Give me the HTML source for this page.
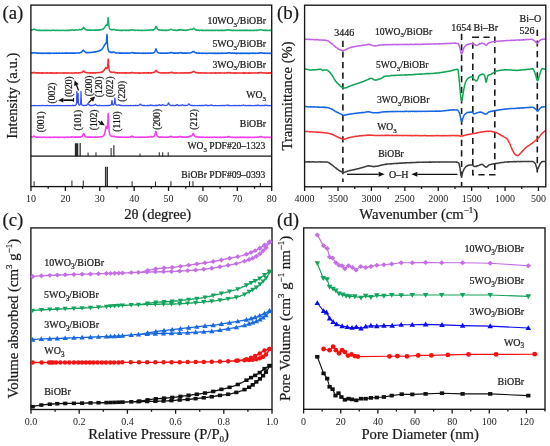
<!DOCTYPE html><html><head><meta charset="utf-8"><style>html,body{margin:0;padding:0;background:#fff;}svg{display:block;will-change:transform;}text{font-family:"Liberation Serif",serif;}</style></head><body>
<svg width="550" height="446" viewBox="0 0 550 446">
<rect width="550" height="446" fill="#fff"/>
<polyline points="31,30.2 31.2,30.1 31.3,30.2 31.5,30 31.7,30.1 31.9,30.1 32,29.9 32.2,30 32.4,29.8 32.5,29.9 32.7,29.7 32.9,29.6 33.1,29.6 33.2,29.6 33.4,29.3 33.6,29.2 33.8,29.2 33.9,29.2 34.1,29.1 34.3,29.1 34.4,29.3 34.6,29.2 34.8,29.5 35,29.5 35.1,29.5 35.3,29.6 35.5,29.8 35.6,30 35.8,29.9 36,30 36.2,30.1 36.3,30.1 36.5,30.1 36.7,30 36.8,30.1 37,30.1 37.2,30.3 37.4,30.2 37.5,30.2 37.7,30.3 37.9,30.3 38,30.2 38.2,30.4 38.4,30.4 38.6,30.2 38.7,30.3 38.9,30.3 39.1,30.4 39.3,30.4 39.4,30.3 39.6,30.5 39.8,30.2 39.9,30.3 40.1,30.4 40.3,30.2 40.5,30.3 40.6,30.2 40.8,30.4 41,30.4 41.1,30.4 41.3,30.5 41.5,30.3 41.7,30.4 41.8,30.4 42,30.4 42.2,30.3 42.3,30.5 42.5,30.5 42.7,30.4 42.9,30.4 43,30.2 43.2,30.4 43.4,30.4 43.6,30.5 43.7,30.5 43.9,30.3 44.1,30.3 44.2,30.4 44.4,30.2 44.6,30.4 44.8,30.3 44.9,30.3 45.1,30.2 45.3,30.4 45.4,30.3 45.6,30.3 45.8,30.3 46,30.5 46.1,30.3 46.3,30.4 46.5,30.4 46.6,30.5 46.8,30.5 47,30.5 47.2,30.3 47.3,30.4 47.5,30.3 47.7,30.5 47.8,30.5 48,30.3 48.2,30.3 48.4,30.3 48.5,30.3 48.7,30.4 48.9,30.4 49.1,30.3 49.2,30.2 49.4,30.4 49.6,30.3 49.7,30.4 49.9,30.5 50.1,30.4 50.3,30.4 50.4,30.4 50.6,30.4 50.8,30.3 50.9,30.5 51.1,30.5 51.3,30.5 51.5,30.5 51.6,30.3 51.8,30.4 52,30.3 52.1,30.4 52.3,30.3 52.5,30.3 52.7,30.3 52.8,30.3 53,30.3 53.2,30.3 53.4,30.2 53.5,30.3 53.7,30.3 53.9,30.3 54,30.2 54.2,30.5 54.4,30.4 54.6,30.3 54.7,30.3 54.9,30.3 55.1,30.3 55.2,30.3 55.4,30.5 55.6,30.5 55.8,30.4 55.9,30.4 56.1,30.3 56.3,30.3 56.4,30.3 56.6,30.3 56.8,30.5 57,30.3 57.1,30.2 57.3,30.5 57.5,30.4 57.6,30.3 57.8,30.4 58,30.2 58.2,30.4 58.3,30.5 58.5,30.5 58.7,30.4 58.9,30.3 59,30.3 59.2,30.3 59.4,30.4 59.5,30.4 59.7,30.5 59.9,30.3 60.1,30.3 60.2,30.5 60.4,30.5 60.6,30.5 60.7,30.5 60.9,30.5 61.1,30.4 61.3,30.3 61.4,30.4 61.6,30.3 61.8,30.2 61.9,30.2 62.1,30.3 62.3,30.3 62.5,30.4 62.6,30.5 62.8,30.4 63,30.5 63.2,30.5 63.3,30.5 63.5,30.3 63.7,30.3 63.8,30.3 64,30.3 64.2,30.3 64.4,30.4 64.5,30.5 64.7,30.5 64.9,30.4 65,30.4 65.2,30.4 65.4,30.2 65.6,30.4 65.7,30.5 65.9,30.4 66.1,30.4 66.2,30.3 66.4,30.3 66.6,30.4 66.8,30.3 66.9,30.4 67.1,30.5 67.3,30.3 67.4,30.3 67.6,30.5 67.8,30.4 68,30.2 68.1,30.2 68.3,30.2 68.5,30.4 68.7,30.4 68.8,30.2 69,30.4 69.2,30.4 69.3,30.3 69.5,30.2 69.7,30.3 69.9,30.2 70,30.1 70.2,30.4 70.4,30.2 70.5,30.2 70.7,30.3 70.9,30.1 71.1,30.2 71.2,30.1 71.4,29.9 71.6,29.8 71.7,29.8 71.9,29.7 72.1,29.8 72.3,29.7 72.4,29.7 72.6,29.7 72.8,30 73,29.9 73.1,29.9 73.3,30 73.5,30.2 73.6,30.1 73.8,30.2 74,30.1 74.2,30.1 74.3,30.2 74.5,30 74.7,30.1 74.8,30.1 75,30 75.2,30.2 75.4,30 75.5,30 75.7,30 75.9,29.9 76,29.8 76.2,29.8 76.4,29.7 76.6,29.8 76.7,29.7 76.9,29.9 77.1,29.9 77.2,29.9 77.4,30.1 77.6,30 77.8,30.1 77.9,30.1 78.1,30.1 78.3,30 78.5,30 78.6,29.9 78.8,29.8 79,29.8 79.1,29.6 79.3,29.6 79.5,29.5 79.7,29.6 79.8,29.6 80,29.8 80.2,29.8 80.3,29.7 80.5,29.8 80.7,29.9 80.9,29.8 81,29.6 81.2,29.6 81.4,29.6 81.5,29.4 81.7,29.4 81.9,29.2 82.1,29.2 82.2,29.1 82.4,28.9 82.6,28.5 82.8,28.4 82.9,28.1 83.1,27.7 83.3,27.7 83.4,27.5 83.6,27.2 83.8,27.5 84,27.5 84.1,27.8 84.3,28.2 84.5,28.4 84.6,28.5 84.8,28.8 85,29 85.2,29.2 85.3,29.3 85.5,29.4 85.7,29.6 85.8,29.5 86,29.7 86.2,29.8 86.4,29.7 86.5,29.8 86.7,30 86.9,30 87,29.9 87.2,30.2 87.4,30.1 87.6,30.2 87.7,30 87.9,30 88.1,30 88.3,30.2 88.4,30.1 88.6,30 88.8,30.1 88.9,30.3 89.1,30.3 89.3,30.1 89.5,30.1 89.6,30.3 89.8,30.2 90,30.3 90.1,30.1 90.3,30.1 90.5,30.3 90.7,30.2 90.8,30.1 91,30.3 91.2,30.3 91.3,30.3 91.5,30.1 91.7,30.3 91.9,30.1 92,30.3 92.2,30.2 92.4,30.2 92.6,30.2 92.7,30.3 92.9,30.2 93.1,30.1 93.2,30.2 93.4,30.1 93.6,30.1 93.8,30.1 93.9,30.1 94.1,30.1 94.3,30.2 94.4,30.1 94.6,30.3 94.8,30.1 95,30.2 95.1,30.1 95.3,30.1 95.5,30 95.6,30.1 95.8,30 96,30.2 96.2,30.2 96.3,30.1 96.5,30.1 96.7,30.3 96.8,30 97,30.2 97.2,30.1 97.4,30.1 97.5,30.2 97.7,30.1 97.9,30.1 98.1,30.1 98.2,30.2 98.4,30 98.6,30.1 98.7,30.1 98.9,30 99.1,30 99.3,29.9 99.4,29.8 99.6,29.8 99.8,29.8 99.9,30 100.1,29.8 100.3,29.7 100.5,29.7 100.6,29.9 100.8,29.9 101,29.8 101.1,29.6 101.3,29.6 101.5,29.5 101.7,29.5 101.8,29.4 102,29.4 102.2,29.3 102.4,29.4 102.5,29.4 102.7,29.2 102.9,29 103,29.1 103.2,28.8 103.4,28.7 103.6,28.5 103.7,28.4 103.9,28.3 104.1,28.1 104.2,27.8 104.4,27.7 104.6,27.3 104.8,27.1 104.9,26.8 105.1,26.6 105.3,26.2 105.4,26 105.6,25.8 105.8,25.5 106,25.3 106.1,25.1 106.3,25 106.5,24.9 106.6,25.1 106.8,25.2 107,25.2 107.2,25 107.3,24.8 107.5,23.8 107.7,22.5 107.9,20.5 108,18.3 108.2,17.6 108.4,18.8 108.5,21.1 108.7,23.4 108.9,25.2 109.1,26.3 109.2,27.2 109.4,27.9 109.6,28.4 109.7,28.7 109.9,29 110.1,29.1 110.3,29.4 110.4,29.4 110.6,29.5 110.8,29.5 110.9,29.5 111.1,29.6 111.3,29.7 111.5,29.7 111.6,29.9 111.8,29.8 112,29.9 112.2,29.9 112.3,29.9 112.5,29.8 112.7,29.6 112.8,29.8 113,29.7 113.2,29.6 113.4,29.5 113.5,29.5 113.7,29.3 113.9,29.5 114,29.4 114.2,29.4 114.4,29.5 114.6,29.7 114.7,29.7 114.9,29.9 115.1,30 115.2,30 115.4,30 115.6,30 115.8,30.1 115.9,30.2 116.1,30.2 116.3,30.2 116.4,30.1 116.6,30.1 116.8,30.1 117,30.3 117.1,30.2 117.3,30.3 117.5,30.1 117.7,30.1 117.8,30.2 118,30.3 118.2,30.3 118.3,30.3 118.5,30.2 118.7,30.3 118.9,30.3 119,30.3 119.2,30.2 119.4,30.4 119.5,30.2 119.7,30.4 119.9,30.4 120.1,30.2 120.2,30.3 120.4,30.4 120.6,30.4 120.7,30.3 120.9,30.3 121.1,30.2 121.3,30.4 121.4,30.2 121.6,30.3 121.8,30.2 122,30.3 122.1,30.5 122.3,30.2 122.5,30.4 122.6,30.3 122.8,30.4 123,30.4 123.2,30.3 123.3,30.4 123.5,30.3 123.7,30.2 123.8,30.2 124,30.3 124.2,30.3 124.4,30.3 124.5,30.2 124.7,30.3 124.9,30.3 125,30.4 125.2,30.2 125.4,30.4 125.6,30.4 125.7,30.2 125.9,30.5 126.1,30.4 126.2,30.4 126.4,30.3 126.6,30.3 126.8,30.3 126.9,30.5 127.1,30.3 127.3,30.3 127.5,30.3 127.6,30.2 127.8,30.2 128,30.2 128.1,30.4 128.3,30.2 128.5,30.4 128.7,30.2 128.8,30.2 129,30.3 129.2,30.2 129.3,30.2 129.5,30.4 129.7,30.3 129.9,30.3 130,30.2 130.2,30.3 130.4,30.3 130.5,30.1 130.7,30.1 130.9,29.9 131.1,30 131.2,29.9 131.4,30 131.6,29.9 131.8,29.7 131.9,29.7 132.1,29.9 132.3,29.7 132.4,29.8 132.6,29.8 132.8,29.8 133,30 133.1,30.1 133.3,30 133.5,30.1 133.6,30 133.8,30.2 134,30.1 134.2,30.1 134.3,30.1 134.5,30.1 134.7,30.4 134.8,30.2 135,30.2 135.2,30.4 135.4,30.4 135.5,30.3 135.7,30.2 135.9,30.2 136,30.2 136.2,30.3 136.4,30.2 136.6,30.2 136.7,30.3 136.9,30.3 137.1,30.4 137.3,30.4 137.4,30.3 137.6,30.3 137.8,30.3 137.9,30.3 138.1,30.3 138.3,30.2 138.5,30.3 138.6,30.5 138.8,30.2 139,30.3 139.1,30.4 139.3,30.4 139.5,30.3 139.7,30.3 139.8,30.3 140,30.3 140.2,30.3 140.3,30.5 140.5,30.4 140.7,30.4 140.9,30.2 141,30.2 141.2,30.4 141.4,30.5 141.6,30.3 141.7,30.4 141.9,30.2 142.1,30.3 142.2,30.5 142.4,30.4 142.6,30.4 142.8,30.5 142.9,30.3 143.1,30.2 143.3,30.2 143.4,30.3 143.6,30.4 143.8,30.5 144,30.4 144.1,30.4 144.3,30.4 144.5,30.3 144.6,30.3 144.8,30.2 145,30.4 145.2,30.2 145.3,30.4 145.5,30.4 145.7,30.3 145.8,30.2 146,30.2 146.2,30.3 146.4,30.4 146.5,30.2 146.7,30.2 146.9,30.3 147.1,30.3 147.2,30.2 147.4,30.2 147.6,30.3 147.7,30.1 147.9,30.2 148.1,30.2 148.3,30.3 148.4,30.2 148.6,30.3 148.8,30.1 148.9,30 149.1,30 149.3,30.2 149.5,30.1 149.6,29.9 149.8,29.8 150,29.9 150.1,29.9 150.3,29.8 150.5,29.8 150.7,29.9 150.8,30 151,29.8 151.2,29.8 151.3,29.9 151.5,30 151.7,30 151.9,29.9 152,30.1 152.2,30.1 152.4,30 152.6,29.9 152.7,30.1 152.9,29.9 153.1,30 153.2,29.8 153.4,29.8 153.6,29.9 153.8,29.7 153.9,29.8 154.1,29.6 154.3,29.4 154.4,29.3 154.6,29.2 154.8,29 155,28.9 155.1,28.4 155.3,28.1 155.5,27.6 155.6,27.4 155.8,26.8 156,26.5 156.2,26.4 156.3,26.6 156.5,27.1 156.7,27.4 156.9,27.8 157,28.3 157.2,28.6 157.4,28.7 157.5,28.9 157.7,29.3 157.9,29.4 158.1,29.4 158.2,29.7 158.4,29.7 158.6,29.7 158.7,29.8 158.9,29.8 159.1,29.8 159.3,29.9 159.4,30 159.6,30.2 159.8,30 159.9,30.2 160.1,30 160.3,30.1 160.5,30.2 160.6,30.3 160.8,30.2 161,30.1 161.1,30.2 161.3,30.2 161.5,30.3 161.7,30.1 161.8,30.2 162,30.4 162.2,30.1 162.4,30.2 162.5,30.3 162.7,30.3 162.9,30.1 163,30.1 163.2,30.2 163.4,30.4 163.6,30.2 163.7,30.3 163.9,30.4 164.1,30.2 164.2,30.2 164.4,30.4 164.6,30.3 164.8,30.2 164.9,30.3 165.1,30.2 165.3,30.2 165.4,30.1 165.6,30.4 165.8,30.4 166,30.3 166.1,30.4 166.3,30.1 166.5,30.2 166.7,30.3 166.8,30.4 167,30.4 167.2,30.2 167.3,30.2 167.5,30.2 167.7,30.2 167.9,30.3 168,30.1 168.2,30.3 168.4,30.2 168.5,30.2 168.7,30.2 168.9,30.1 169.1,30 169.2,30 169.4,29.9 169.6,30 169.7,29.7 169.9,29.7 170.1,29.8 170.3,29.6 170.4,29.4 170.6,29.4 170.8,29.5 170.9,29.4 171.1,29.6 171.3,29.6 171.5,29.7 171.6,29.6 171.8,29.6 172,29.7 172.2,29.8 172.3,30 172.5,29.9 172.7,29.9 172.8,30 173,30.1 173.2,30.1 173.4,30.2 173.5,30.2 173.7,30.2 173.9,30.1 174,30.3 174.2,30.1 174.4,30.2 174.6,30.2 174.7,30.3 174.9,30.1 175.1,30.2 175.2,30.2 175.4,30.1 175.6,30.4 175.8,30.3 175.9,30.2 176.1,30.2 176.3,30.4 176.5,30.2 176.6,30.2 176.8,30.3 177,30.3 177.1,30.4 177.3,30.1 177.5,30.2 177.7,30.3 177.8,30.3 178,30.3 178.2,30 178.3,30.1 178.5,30 178.7,30 178.9,30.2 179,30 179.2,30.1 179.4,29.9 179.5,30 179.7,29.8 179.9,29.7 180.1,29.8 180.2,29.9 180.4,29.6 180.6,29.8 180.7,29.8 180.9,29.8 181.1,29.9 181.3,29.8 181.4,29.9 181.6,30 181.8,30.1 182,30.1 182.1,30 182.3,30 182.5,30.1 182.6,30.2 182.8,30.1 183,30.1 183.2,30.1 183.3,30.3 183.5,30.2 183.7,30.1 183.8,30.1 184,30.2 184.2,30.3 184.4,30.3 184.5,30.1 184.7,30.1 184.9,30.3 185,30.2 185.2,30.2 185.4,30.2 185.6,30.4 185.7,30.2 185.9,30.2 186.1,30.2 186.3,30.2 186.4,30.3 186.6,30.3 186.8,30.1 186.9,30.1 187.1,30.2 187.3,30 187.5,30 187.6,30.2 187.8,30 188,30.1 188.1,30 188.3,30.1 188.5,29.9 188.7,29.8 188.8,29.7 189,29.8 189.2,29.7 189.3,29.7 189.5,29.4 189.7,29.5 189.9,29.3 190,29.3 190.2,29.2 190.4,29.2 190.5,29.3 190.7,29.4 190.9,29.2 191.1,29.4 191.2,29.5 191.4,29.6 191.6,29.3 191.8,29.3 191.9,29.5 192.1,29.4 192.3,29.2 192.4,29 192.6,29.1 192.8,28.8 193,28.8 193.1,28.6 193.3,28.5 193.5,28.2 193.6,28.3 193.8,28.2 194,28.4 194.2,28.7 194.3,28.9 194.5,28.9 194.7,29.1 194.8,29.3 195,29.5 195.2,29.5 195.4,29.6 195.5,29.7 195.7,29.9 195.9,30 196.1,29.8 196.2,30 196.4,30.1 196.6,29.9 196.7,30.2 196.9,30 197.1,30.2 197.3,30.2 197.4,30.2 197.6,30.1 197.8,30.2 197.9,30.2 198.1,30.2 198.3,30.3 198.5,30.2 198.6,30.2 198.8,30.1 199,30.3 199.1,30.3 199.3,30.2 199.5,30.4 199.7,30.4 199.8,30.3 200,30.2 200.2,30.3 200.3,30.2 200.5,30.2 200.7,30.3 200.9,30.2 201,30.3 201.2,30.3 201.4,30.2 201.6,30.4 201.7,30.2 201.9,30.4 202.1,30.4 202.2,30.3 202.4,30.2 202.6,30.3 202.8,30.3 202.9,30.5 203.1,30.2 203.3,30.4 203.4,30.5 203.6,30.4 203.8,30.4 204,30.3 204.1,30.5 204.3,30.4 204.5,30.5 204.6,30.5 204.8,30.3 205,30.4 205.2,30.5 205.3,30.2 205.5,30.3 205.7,30.4 205.9,30.3 206,30.5 206.2,30.3 206.4,30.5 206.5,30.3 206.7,30.4 206.9,30.5 207.1,30.3 207.2,30.3 207.4,30.4 207.6,30.3 207.7,30.2 207.9,30.3 208.1,30.3 208.3,30.5 208.4,30.4 208.6,30.5 208.8,30.3 208.9,30.5 209.1,30.3 209.3,30.4 209.5,30.4 209.6,30.3 209.8,30.5 210,30.4 210.1,30.4 210.3,30.5 210.5,30.3 210.7,30.5 210.8,30.4 211,30.3 211.2,30.5 211.4,30.3 211.5,30.5 211.7,30.4 211.9,30.3 212,30.5 212.2,30.4 212.4,30.3 212.6,30.4 212.7,30.3 212.9,30.5 213.1,30.3 213.2,30.4 213.4,30.5 213.6,30.4 213.8,30.4 213.9,30.3 214.1,30.2 214.3,30.2 214.4,30.3 214.6,30.4 214.8,30.4 215,30.4 215.1,30.5 215.3,30.3 215.5,30.3 215.7,30.4 215.8,30.2 216,30.2 216.2,30.3 216.3,30.3 216.5,30.3 216.7,30.3 216.9,30.4 217,30.4 217.2,30.3 217.4,30.4 217.5,30.4 217.7,30.3 217.9,30.5 218.1,30.3 218.2,30.3 218.4,30.3 218.6,30.4 218.7,30.5 218.9,30.5 219.1,30.3 219.3,30.3 219.4,30.2 219.6,30.4 219.8,30.4 219.9,30.3 220.1,30.4 220.3,30.4 220.5,30.5 220.6,30.4 220.8,30.3 221,30.5 221.2,30.2 221.3,30.4 221.5,30.3 221.7,30.3 221.8,30.2 222,30.4 222.2,30.2 222.4,30.4 222.5,30.5 222.7,30.3 222.9,30.3 223,30.4 223.2,30.4 223.4,30.4 223.6,30.4 223.7,30.3 223.9,30.3 224.1,30.3 224.2,30.2 224.4,30.4 224.6,30.4 224.8,30.4 224.9,30.2 225.1,30.4 225.3,30.4 225.5,30.3 225.6,30.3 225.8,30.2 226,30.2 226.1,30.1 226.3,30.1 226.5,30.1 226.7,30.1 226.8,30.2 227,30.1 227.2,30.1 227.3,30.1 227.5,29.9 227.7,29.9 227.9,29.8 228,29.9 228.2,29.8 228.4,29.7 228.5,29.8 228.7,30 228.9,29.8 229.1,30 229.2,29.8 229.4,29.9 229.6,30 229.7,30.2 229.9,30.3 230.1,30.2 230.3,30.1 230.4,30.3 230.6,30.2 230.8,30.2 231,30.4 231.1,30.3 231.3,30.3 231.5,30.3 231.6,30.4 231.8,30.3 232,30.4 232.2,30.4 232.3,30.4 232.5,30.3 232.7,30.4 232.8,30.4 233,30.3 233.2,30.3 233.4,30.4 233.5,30.2 233.7,30.5 233.9,30.3 234,30.2 234.2,30.3 234.4,30.5 234.6,30.3 234.7,30.3 234.9,30.2 235.1,30.2 235.3,30.4 235.4,30.4 235.6,30.4 235.8,30.4 235.9,30.3 236.1,30.4 236.3,30.3 236.5,30.5 236.6,30.5 236.8,30.5 237,30.3 237.1,30.5 237.3,30.5 237.5,30.5 237.7,30.3 237.8,30.3 238,30.3 238.2,30.3 238.3,30.5 238.5,30.5 238.7,30.4 238.9,30.5 239,30.4 239.2,30.3 239.4,30.3 239.5,30.3 239.7,30.5 239.9,30.3 240.1,30.3 240.2,30.4 240.4,30.3 240.6,30.3 240.8,30.3 240.9,30.4 241.1,30.3 241.3,30.3 241.4,30.5 241.6,30.4 241.8,30.5 242,30.4 242.1,30.3 242.3,30.4 242.5,30.4 242.6,30.5 242.8,30.3 243,30.4 243.2,30.4 243.3,30.3 243.5,30.5 243.7,30.3 243.8,30.5 244,30.3 244.2,30.2 244.4,30.3 244.5,30.5 244.7,30.5 244.9,30.2 245.1,30.4 245.2,30.4 245.4,30.5 245.6,30.3 245.7,30.4 245.9,30.3 246.1,30.5 246.3,30.3 246.4,30.5 246.6,30.3 246.8,30.3 246.9,30.4 247.1,30.4 247.3,30.3 247.5,30.4 247.6,30.3 247.8,30.5 248,30.4 248.1,30.5 248.3,30.4 248.5,30.3 248.7,30.4 248.8,30.4 249,30.5 249.2,30.3 249.3,30.5 249.5,30.2 249.7,30.3 249.9,30.3 250,30.5 250.2,30.4 250.4,30.3 250.6,30.5 250.7,30.3 250.9,30.4 251.1,30.4 251.2,30.4 251.4,30.4 251.6,30.4 251.8,30.3 251.9,30.3 252.1,30.3 252.3,30.5 252.4,30.4 252.6,30.4 252.8,30.3 253,30.4 253.1,30.4 253.3,30.4 253.5,30.3 253.6,30.4 253.8,30.5 254,30.3 254.2,30.3 254.3,30.3 254.5,30.4 254.7,30.5 254.9,30.3 255,30.3 255.2,30.3 255.4,30.3 255.5,30.3 255.7,30.2 255.9,30.3 256.1,30.2 256.2,30.5 256.4,30.4 256.6,30.2 256.7,30.4 256.9,30.2 257.1,30.3 257.3,30.4 257.4,30.4 257.6,30.3 257.8,30.2 257.9,30.2 258.1,30.3 258.3,30.1 258.5,30.1 258.6,30.1 258.8,30 259,30.1 259.1,30.1 259.3,30.1 259.5,29.9 259.7,29.9 259.8,29.8 260,29.7 260.2,29.7 260.4,29.6 260.5,29.7 260.7,29.7 260.9,29.6 261,29.7 261.2,29.8 261.4,29.7 261.6,29.7 261.7,29.9 261.9,30 262.1,30.1 262.2,30.1 262.4,30.2 262.6,30.2 262.8,30.2 262.9,30.2 263.1,30.1 263.3,30.3 263.4,30.1 263.6,30.2 263.8,30.3 264,30.3 264.1,30.3 264.3,30.2 264.5,30.3 264.7,30.3 264.8,30.4 265,30.3 265.2,30.4 265.3,30.5 265.5,30.2 265.7,30.4 265.9,30.4 266,30.3 266.2,30.3 266.4,30.5 266.5,30.2 266.7,30.4 266.9,30.3 267.1,30.4 267.2,30.5 267.4,30.4 267.6,30.3 267.7,30.4 267.9,30.4 268.1,30.4 268.3,30.4 268.4,30.4 268.6,30.5 268.8,30.4 268.9,30.4 269.1,30.5 269.3,30.3 269.5,30.4 269.6,30.3 269.8,30.5 270,30.3 270.2,30.5 270.3,30.3 270.5,30.3 270.7,30.3 270.8,30.4 271,30.2 271.2,30.4 271.4,30.4 271.5,30.4 271.7,30.3" fill="none" stroke="#19ad66" stroke-width="1.5" stroke-linejoin="round"/>
<polyline points="31,53.1 31.2,53.1 31.3,53.2 31.5,53.3 31.7,53.2 31.9,53.1 32,53.2 32.2,53.1 32.4,53 32.5,52.9 32.7,53.1 32.9,53.1 33.1,53 33.2,52.9 33.4,52.8 33.6,52.7 33.8,52.8 33.9,52.6 34.1,52.7 34.3,52.8 34.4,52.8 34.6,52.8 34.8,52.8 35,52.9 35.1,52.8 35.3,53.1 35.5,53 35.6,53.1 35.8,53 36,53.1 36.2,53 36.3,53.1 36.5,53.1 36.7,53 36.8,53.2 37,53.1 37.2,53.1 37.4,53.1 37.5,53.2 37.7,53.2 37.9,53.3 38,53.3 38.2,53.2 38.4,53.3 38.6,53.3 38.7,53.1 38.9,53.3 39.1,53.3 39.3,53.3 39.4,53.1 39.6,53.3 39.8,53.3 39.9,53.1 40.1,53.1 40.3,53.4 40.5,53.3 40.6,53.2 40.8,53.1 41,53.1 41.1,53.2 41.3,53.3 41.5,53.2 41.7,53.2 41.8,53.4 42,53.3 42.2,53.2 42.3,53.4 42.5,53.3 42.7,53.3 42.9,53.3 43,53.4 43.2,53.3 43.4,53.3 43.6,53.2 43.7,53.3 43.9,53.3 44.1,53.3 44.2,53.2 44.4,53.4 44.6,53.3 44.8,53.2 44.9,53.2 45.1,53.2 45.3,53.3 45.4,53.1 45.6,53.2 45.8,53.2 46,53.2 46.1,53.3 46.3,53.3 46.5,53.4 46.6,53.1 46.8,53.3 47,53.2 47.2,53.3 47.3,53.3 47.5,53.3 47.7,53.2 47.8,53.2 48,53.4 48.2,53.1 48.4,53.3 48.5,53.3 48.7,53.1 48.9,53.3 49.1,53.3 49.2,53.4 49.4,53.2 49.6,53.4 49.7,53.3 49.9,53.2 50.1,53.4 50.3,53.1 50.4,53.3 50.6,53.3 50.8,53.2 50.9,53.3 51.1,53.2 51.3,53.2 51.5,53.3 51.6,53.3 51.8,53.2 52,53.2 52.1,53.2 52.3,53.3 52.5,53.3 52.7,53.2 52.8,53.3 53,53.2 53.2,53.2 53.4,53.2 53.5,53.2 53.7,53.4 53.9,53.3 54,53.3 54.2,53.2 54.4,53.2 54.6,53.2 54.7,53.3 54.9,53.3 55.1,53.3 55.2,53.1 55.4,53.3 55.6,53.3 55.8,53.2 55.9,53.1 56.1,53.2 56.3,53.1 56.4,53.1 56.6,53.4 56.8,53.3 57,53.3 57.1,53.3 57.3,53.3 57.5,53.3 57.6,53.3 57.8,53.3 58,53.3 58.2,53.3 58.3,53.3 58.5,53.1 58.7,53.3 58.9,53.2 59,53.3 59.2,53.1 59.4,53.1 59.5,53.1 59.7,53.3 59.9,53.3 60.1,53.3 60.2,53.2 60.4,53.3 60.6,53.3 60.7,53.2 60.9,53.2 61.1,53.2 61.3,53.2 61.4,53.2 61.6,53.2 61.8,53.3 61.9,53.3 62.1,53.1 62.3,53.2 62.5,53.1 62.6,53.1 62.8,53.3 63,53.2 63.2,53.3 63.3,53.2 63.5,53.1 63.7,53.2 63.8,53.2 64,53.3 64.2,53.3 64.4,53.2 64.5,53.2 64.7,53.1 64.9,53.2 65,53.1 65.2,53.1 65.4,53.1 65.6,53.1 65.7,53.2 65.9,53.1 66.1,53.3 66.2,53.1 66.4,53.3 66.6,53.1 66.8,53.1 66.9,53.2 67.1,53.1 67.3,53.3 67.4,53.1 67.6,53.1 67.8,53.3 68,53.2 68.1,53.3 68.3,53.2 68.5,53.1 68.7,53.2 68.8,53.2 69,53.2 69.2,53.3 69.3,53.1 69.5,53.3 69.7,53.2 69.9,53 70,53 70.2,53.2 70.4,53.2 70.5,53 70.7,53.1 70.9,53.2 71.1,53.1 71.2,53.2 71.4,53.1 71.6,53 71.7,53.1 71.9,53.2 72.1,53.1 72.3,53.2 72.4,53 72.6,53.2 72.8,53.1 73,53.2 73.1,53.2 73.3,53.1 73.5,53.1 73.6,53.2 73.8,53.2 74,53.2 74.2,53.1 74.3,53 74.5,53 74.7,53.2 74.8,53.1 75,53.2 75.2,53 75.4,53.1 75.5,53.2 75.7,53.2 75.9,53.1 76,53 76.2,53 76.4,53.1 76.6,53 76.7,53.1 76.9,53 77.1,53.1 77.2,53.1 77.4,52.9 77.6,52.8 77.8,52.9 77.9,52.9 78.1,53 78.3,53 78.5,53 78.6,52.8 78.8,53 79,53 79.1,53 79.3,52.9 79.5,52.8 79.7,52.9 79.8,52.8 80,52.8 80.2,52.8 80.3,52.6 80.5,52.5 80.7,52.6 80.9,52.6 81,52.3 81.2,52.4 81.4,52.3 81.5,52 81.7,52 81.9,51.9 82.1,51.6 82.2,51.3 82.4,51.1 82.6,51 82.8,50.7 82.9,50.4 83.1,50.1 83.3,50.3 83.4,50.3 83.6,50.3 83.8,50.6 84,51 84.1,51.2 84.3,51.3 84.5,51.5 84.6,51.7 84.8,51.8 85,51.9 85.2,52 85.3,52.2 85.5,52.2 85.7,52.3 85.8,52.4 86,52.4 86.2,52.4 86.4,52.4 86.5,52.7 86.7,52.5 86.9,52.4 87,52.6 87.2,52.7 87.4,52.5 87.6,52.6 87.7,52.5 87.9,52.6 88.1,52.5 88.3,52.5 88.4,52.7 88.6,52.7 88.8,52.6 88.9,52.6 89.1,52.5 89.3,52.6 89.5,52.5 89.6,52.7 89.8,52.6 90,52.6 90.1,52.6 90.3,52.4 90.5,52.4 90.7,52.4 90.8,52.4 91,52.3 91.2,52.3 91.3,52.4 91.5,52.5 91.7,52.4 91.9,52.5 92,52.4 92.2,52.2 92.4,52.3 92.6,52.2 92.7,52.1 92.9,52.3 93.1,52.1 93.2,52.2 93.4,52.2 93.6,52.2 93.8,52.1 93.9,52 94.1,52 94.3,51.9 94.4,52.1 94.6,52.1 94.8,51.8 95,51.7 95.1,51.8 95.3,51.8 95.5,51.9 95.6,51.9 95.8,51.8 96,51.5 96.2,51.7 96.3,51.7 96.5,51.6 96.7,51.7 96.8,51.4 97,51.3 97.2,51.5 97.4,51.5 97.5,51.4 97.7,51.2 97.9,51.3 98.1,51.3 98.2,51 98.4,51 98.6,51 98.7,50.9 98.9,50.9 99.1,50.8 99.3,50.7 99.4,50.7 99.6,50.7 99.8,50.5 99.9,50.6 100.1,50.4 100.3,50.2 100.5,50.4 100.6,50.1 100.8,50.2 101,50.1 101.1,50 101.3,49.6 101.5,49.6 101.7,49.3 101.8,49.4 102,49.2 102.2,48.9 102.4,48.7 102.5,48.4 102.7,48.4 102.9,48 103,47.8 103.2,47.4 103.4,47.2 103.6,46.8 103.7,46.7 103.9,46.3 104.1,45.9 104.2,45.8 104.4,45.3 104.6,45.1 104.8,44.7 104.9,44.5 105.1,44.4 105.3,44 105.4,43.6 105.6,43.4 105.8,43.2 106,43.3 106.1,42.9 106.3,42.6 106.5,41.1 106.6,39.1 106.8,36.1 107,34.6 107.2,37 107.3,40.9 107.5,44.2 107.7,46.4 107.9,48 108,49.1 108.2,49.9 108.4,50.4 108.5,50.5 108.7,50.9 108.9,51.3 109.1,51.3 109.2,51.7 109.4,51.7 109.6,52 109.7,51.8 109.9,52.1 110.1,52.1 110.3,52.1 110.4,52.1 110.6,52.4 110.8,52.3 110.9,52.2 111.1,52.3 111.3,52.5 111.5,52.3 111.6,52.4 111.8,52.3 112,52.3 112.2,52.4 112.3,52.4 112.5,52.2 112.7,52.1 112.8,52.1 113,52.2 113.2,52.1 113.4,52 113.5,52 113.7,52.1 113.9,52.2 114,52.3 114.2,52.3 114.4,52.3 114.6,52.3 114.7,52.6 114.9,52.6 115.1,52.7 115.2,52.6 115.4,52.8 115.6,52.7 115.8,52.9 115.9,52.9 116.1,52.9 116.3,52.7 116.4,53 116.6,52.9 116.8,53 117,52.9 117.1,52.9 117.3,53.1 117.5,53 117.7,52.9 117.8,53 118,53 118.2,52.9 118.3,53 118.5,53 118.7,53.1 118.9,53 119,53.1 119.2,53.2 119.4,53.2 119.5,53 119.7,53.1 119.9,53.1 120.1,53.2 120.2,53 120.4,53.2 120.6,53.2 120.7,53.1 120.9,53.1 121.1,53.1 121.3,53.1 121.4,53 121.6,53.3 121.8,53.1 122,53 122.1,53 122.3,53.1 122.5,53.2 122.6,53 122.8,53 123,53.2 123.2,53.1 123.3,53 123.5,53.2 123.7,53.2 123.8,53.2 124,53.2 124.2,53 124.4,53.3 124.5,53.2 124.7,53 124.9,53.1 125,53.2 125.2,53.2 125.4,53.1 125.6,53.1 125.7,53.1 125.9,53.1 126.1,53.2 126.2,53.3 126.4,53.1 126.6,53.2 126.8,53.2 126.9,53.1 127.1,53.3 127.3,53.3 127.5,53.1 127.6,53.1 127.8,53.3 128,53.2 128.1,53.1 128.3,53.3 128.5,53.2 128.7,53.1 128.8,53.1 129,53.1 129.2,53.1 129.3,53.3 129.5,53.2 129.7,53.2 129.9,53.2 130,53.2 130.2,52.9 130.4,53 130.5,53.1 130.7,53.1 130.9,52.9 131.1,52.9 131.2,52.9 131.4,52.8 131.6,52.8 131.8,52.6 131.9,52.7 132.1,52.7 132.3,52.5 132.4,52.5 132.6,52.8 132.8,52.7 133,52.8 133.1,52.8 133.3,52.9 133.5,53 133.6,53 133.8,52.8 134,53 134.2,52.9 134.3,53.1 134.5,53 134.7,53.1 134.8,53.2 135,53.1 135.2,53 135.4,53.1 135.5,53.1 135.7,53.3 135.9,53.1 136,53.1 136.2,53.2 136.4,53.1 136.6,53.2 136.7,53.3 136.9,53.2 137.1,53.1 137.3,53.2 137.4,53.2 137.6,53.1 137.8,53.1 137.9,53.1 138.1,53.2 138.3,53.2 138.5,53.2 138.6,53.1 138.8,53.1 139,53.2 139.1,53.3 139.3,53.3 139.5,53.2 139.7,53.3 139.8,53.1 140,53.3 140.2,53.2 140.3,53.2 140.5,53.3 140.7,53.2 140.9,53.2 141,53.2 141.2,53.2 141.4,53.2 141.6,53.2 141.7,53.3 141.9,53.1 142.1,53.2 142.2,53.3 142.4,53.2 142.6,53.2 142.8,53.2 142.9,53.2 143.1,53.4 143.3,53.2 143.4,53.3 143.6,53.1 143.8,53.1 144,53.3 144.1,53.2 144.3,53.1 144.5,53.2 144.6,53.2 144.8,53.3 145,53.1 145.2,53.2 145.3,53.4 145.5,53.3 145.7,53.1 145.8,53.2 146,53.2 146.2,53.3 146.4,53.3 146.5,53.3 146.7,53.3 146.9,53.2 147.1,53.3 147.2,53.3 147.4,53.3 147.6,53.2 147.7,53.3 147.9,53.3 148.1,53.3 148.3,53.1 148.4,53.3 148.6,53.1 148.8,53.3 148.9,53.2 149.1,53.2 149.3,53.3 149.5,53.2 149.6,53.2 149.8,53.3 150,53.3 150.1,53.2 150.3,53.1 150.5,53.1 150.7,53.1 150.8,53.2 151,53.1 151.2,53.1 151.3,53.1 151.5,53.1 151.7,53 151.9,53.2 152,53.2 152.2,53 152.4,53 152.6,52.9 152.7,52.9 152.9,52.9 153.1,52.9 153.2,52.9 153.4,52.7 153.6,52.9 153.8,52.7 153.9,52.7 154.1,52.6 154.3,52.5 154.4,52.1 154.6,52 154.8,51.9 155,51.3 155.1,50.9 155.3,50.6 155.5,50 155.6,49.6 155.8,49.1 156,48.9 156.2,49.2 156.3,49.5 156.5,50 156.7,50.6 156.9,51 157,51.4 157.2,51.8 157.4,52 157.5,52.4 157.7,52.4 157.9,52.5 158.1,52.5 158.2,52.7 158.4,52.7 158.6,52.8 158.7,52.9 158.9,53 159.1,53.1 159.3,53 159.4,53 159.6,53.1 159.8,53.2 159.9,53 160.1,53.1 160.3,53.2 160.5,53 160.6,53.1 160.8,53.3 161,53.2 161.1,53.1 161.3,53 161.5,53.3 161.7,53.2 161.8,53.3 162,53.3 162.2,53.3 162.4,53.2 162.5,53.1 162.7,53.1 162.9,53.2 163,53.2 163.2,53.1 163.4,53.1 163.6,53.2 163.7,53.2 163.9,53.2 164.1,53.3 164.2,53.2 164.4,53.1 164.6,53.2 164.8,53.3 164.9,53.1 165.1,53.3 165.3,53.1 165.4,53.1 165.6,53.3 165.8,53.2 166,53.2 166.1,53.1 166.3,53.2 166.5,53.2 166.7,53.1 166.8,53.2 167,53.2 167.2,53.3 167.3,53.2 167.5,53.1 167.7,53 167.9,53 168,53.2 168.2,53 168.4,53 168.5,53 168.7,53.1 168.9,53.1 169.1,53.1 169.2,53.1 169.4,52.9 169.6,52.8 169.7,53 169.9,52.8 170.1,52.9 170.3,52.7 170.4,52.6 170.6,52.5 170.8,52.4 170.9,52.6 171.1,52.5 171.3,52.4 171.5,52.5 171.6,52.5 171.8,52.4 172,52.7 172.2,52.7 172.3,52.9 172.5,52.8 172.7,52.9 172.8,52.8 173,52.8 173.2,53.1 173.4,53.1 173.5,53 173.7,53.2 173.9,53.2 174,53 174.2,53.1 174.4,53.2 174.6,53.1 174.7,53.3 174.9,53.1 175.1,53.1 175.2,53.2 175.4,53.1 175.6,53.1 175.8,53.3 175.9,53.2 176.1,53.2 176.3,53.1 176.5,53.1 176.6,53.1 176.8,53.1 177,53.3 177.1,53.1 177.3,53.2 177.5,53 177.7,53.1 177.8,53.1 178,53.1 178.2,53 178.3,53 178.5,53.2 178.7,53 178.9,53 179,52.9 179.2,52.9 179.4,52.9 179.5,52.8 179.7,52.9 179.9,52.8 180.1,52.7 180.2,52.8 180.4,52.6 180.6,52.7 180.7,52.8 180.9,52.7 181.1,52.8 181.3,52.9 181.4,53 181.6,52.8 181.8,52.9 182,53.1 182.1,53 182.3,53.2 182.5,53 182.6,53.2 182.8,53.1 183,53 183.2,53.1 183.3,53 183.5,53.2 183.7,53.1 183.8,53.3 184,53.2 184.2,53.1 184.4,53.1 184.5,53.2 184.7,53.1 184.9,53.3 185,53.1 185.2,53.2 185.4,53.2 185.6,53.1 185.7,53.3 185.9,53.1 186.1,53.2 186.3,53.2 186.4,53.1 186.6,53.1 186.8,53 186.9,53.1 187.1,53.3 187.3,53.1 187.5,53.2 187.6,53 187.8,53.1 188,53.1 188.1,53.1 188.3,53.1 188.5,53 188.7,53 188.8,53 189,53 189.2,53.1 189.3,53 189.5,53 189.7,53.1 189.9,53 190,53.1 190.2,53 190.4,52.8 190.5,52.8 190.7,52.7 190.9,52.8 191.1,52.7 191.2,52.6 191.4,52.5 191.6,52.5 191.8,52.4 191.9,52.2 192.1,52.3 192.3,52 192.4,51.9 192.6,51.7 192.8,51.6 193,51.7 193.1,51.6 193.3,51.5 193.5,51.4 193.6,51.4 193.8,51.6 194,51.7 194.2,51.9 194.3,52 194.5,52 194.7,52.2 194.8,52.4 195,52.4 195.2,52.7 195.4,52.7 195.5,52.8 195.7,52.7 195.9,52.8 196.1,52.9 196.2,52.8 196.4,52.8 196.6,53 196.7,53.1 196.9,52.9 197.1,52.9 197.3,53.1 197.4,53.1 197.6,53 197.8,53 197.9,53 198.1,53.2 198.3,53 198.5,53.3 198.6,53.2 198.8,53 199,53.2 199.1,53.1 199.3,53.2 199.5,53.3 199.7,53.1 199.8,53.1 200,53.3 200.2,53.2 200.3,53.3 200.5,53.3 200.7,53.3 200.9,53.3 201,53.3 201.2,53.2 201.4,53.1 201.6,53.3 201.7,53.2 201.9,53.2 202.1,53.4 202.2,53.1 202.4,53.3 202.6,53.1 202.8,53.3 202.9,53.3 203.1,53.2 203.3,53.3 203.4,53.4 203.6,53.3 203.8,53.3 204,53.2 204.1,53.1 204.3,53.2 204.5,53.2 204.6,53.2 204.8,53.2 205,53.2 205.2,53.3 205.3,53.3 205.5,53.2 205.7,53.2 205.9,53.3 206,53.2 206.2,53.4 206.4,53.2 206.5,53.2 206.7,53.4 206.9,53.2 207.1,53.3 207.2,53.2 207.4,53.4 207.6,53.3 207.7,53.3 207.9,53.2 208.1,53.3 208.3,53.3 208.4,53.3 208.6,53.3 208.8,53.4 208.9,53.2 209.1,53.2 209.3,53.2 209.5,53.2 209.6,53.1 209.8,53.2 210,53.2 210.1,53.3 210.3,53.3 210.5,53.2 210.7,53.2 210.8,53.3 211,53.2 211.2,53.2 211.4,53.2 211.5,53.1 211.7,53.4 211.9,53.3 212,53.2 212.2,53.3 212.4,53.4 212.6,53.3 212.7,53.2 212.9,53.3 213.1,53.3 213.2,53.2 213.4,53.3 213.6,53.1 213.8,53.4 213.9,53.3 214.1,53.3 214.3,53.4 214.4,53.3 214.6,53.2 214.8,53.2 215,53.2 215.1,53.1 215.3,53.4 215.5,53.4 215.7,53.2 215.8,53.2 216,53.3 216.2,53.4 216.3,53.4 216.5,53.2 216.7,53.4 216.9,53.4 217,53.3 217.2,53.2 217.4,53.2 217.5,53.4 217.7,53.2 217.9,53.2 218.1,53.3 218.2,53.2 218.4,53.4 218.6,53.2 218.7,53.1 218.9,53.3 219.1,53.3 219.3,53.4 219.4,53.3 219.6,53.4 219.8,53.4 219.9,53.3 220.1,53.3 220.3,53.2 220.5,53.2 220.6,53.3 220.8,53.2 221,53.3 221.2,53.2 221.3,53.3 221.5,53.4 221.7,53.2 221.8,53.1 222,53.3 222.2,53.2 222.4,53.3 222.5,53.1 222.7,53.4 222.9,53.4 223,53.3 223.2,53.2 223.4,53.2 223.6,53.3 223.7,53.3 223.9,53.2 224.1,53.2 224.2,53.2 224.4,53.3 224.6,53.3 224.8,53.3 224.9,53.1 225.1,53.2 225.3,53.2 225.5,53.2 225.6,53.2 225.8,53.1 226,53.1 226.1,53.1 226.3,53.2 226.5,53.3 226.7,53.3 226.8,53.2 227,53.2 227.2,53.2 227.3,53.1 227.5,53.1 227.7,52.8 227.9,53 228,52.9 228.2,52.8 228.4,52.8 228.5,52.9 228.7,52.8 228.9,52.8 229.1,52.8 229.2,52.8 229.4,53 229.6,52.8 229.7,52.9 229.9,53.1 230.1,53 230.3,53 230.4,53.1 230.6,53.1 230.8,53.2 231,53.1 231.1,53.2 231.3,53.2 231.5,53.2 231.6,53.1 231.8,53.1 232,53.3 232.2,53.2 232.3,53.1 232.5,53.3 232.7,53.2 232.8,53.1 233,53.3 233.2,53.2 233.4,53.2 233.5,53.3 233.7,53.2 233.9,53.3 234,53.2 234.2,53.3 234.4,53.3 234.6,53.1 234.7,53.2 234.9,53.1 235.1,53.3 235.3,53.4 235.4,53.3 235.6,53.3 235.8,53.3 235.9,53.2 236.1,53.4 236.3,53.3 236.5,53.2 236.6,53.4 236.8,53.2 237,53.2 237.1,53.4 237.3,53.3 237.5,53.4 237.7,53.2 237.8,53.4 238,53.2 238.2,53.2 238.3,53.2 238.5,53.1 238.7,53.3 238.9,53.2 239,53.2 239.2,53.3 239.4,53.3 239.5,53.4 239.7,53.3 239.9,53.4 240.1,53.3 240.2,53.4 240.4,53.4 240.6,53.2 240.8,53.4 240.9,53.2 241.1,53.4 241.3,53.3 241.4,53.4 241.6,53.2 241.8,53.3 242,53.4 242.1,53.4 242.3,53.3 242.5,53.2 242.6,53.3 242.8,53.2 243,53.3 243.2,53.4 243.3,53.2 243.5,53.4 243.7,53.3 243.8,53.2 244,53.2 244.2,53.3 244.4,53.4 244.5,53.3 244.7,53.2 244.9,53.2 245.1,53.2 245.2,53.4 245.4,53.2 245.6,53.3 245.7,53.2 245.9,53.3 246.1,53.3 246.3,53.2 246.4,53.4 246.6,53.3 246.8,53.3 246.9,53.4 247.1,53.4 247.3,53.2 247.5,53.2 247.6,53.2 247.8,53.3 248,53.4 248.1,53.4 248.3,53.2 248.5,53.2 248.7,53.4 248.8,53.3 249,53.3 249.2,53.3 249.3,53.2 249.5,53.4 249.7,53.3 249.9,53.4 250,53.3 250.2,53.2 250.4,53.2 250.6,53.2 250.7,53.4 250.9,53.3 251.1,53.2 251.2,53.2 251.4,53.2 251.6,53.3 251.8,53.3 251.9,53.3 252.1,53.2 252.3,53.1 252.4,53.3 252.6,53.2 252.8,53.1 253,53.3 253.1,53.4 253.3,53.1 253.5,53.2 253.6,53.3 253.8,53.2 254,53.2 254.2,53.3 254.3,53.2 254.5,53.3 254.7,53.3 254.9,53.4 255,53.4 255.2,53.1 255.4,53.3 255.5,53.3 255.7,53.4 255.9,53.3 256.1,53.3 256.2,53.3 256.4,53.2 256.6,53.2 256.7,53.3 256.9,53.3 257.1,53.4 257.3,53.3 257.4,53.2 257.6,53.3 257.8,53.3 257.9,53.2 258.1,53.2 258.3,53.1 258.5,53.2 258.6,53.1 258.8,53 259,53.1 259.1,53 259.3,53.2 259.5,53 259.7,52.9 259.8,52.9 260,52.8 260.2,52.8 260.4,52.7 260.5,52.7 260.7,52.9 260.9,52.8 261,52.8 261.2,52.9 261.4,52.8 261.6,52.8 261.7,52.9 261.9,53 262.1,53 262.2,53.1 262.4,53.1 262.6,53.2 262.8,53.1 262.9,53.3 263.1,53.2 263.3,53.1 263.4,53.1 263.6,53.2 263.8,53.3 264,53.2 264.1,53.3 264.3,53.2 264.5,53.3 264.7,53.1 264.8,53.2 265,53.4 265.2,53.2 265.3,53.2 265.5,53.1 265.7,53.2 265.9,53.2 266,53.3 266.2,53.2 266.4,53.2 266.5,53.2 266.7,53.3 266.9,53.4 267.1,53.3 267.2,53.2 267.4,53.3 267.6,53.4 267.7,53.3 267.9,53.2 268.1,53.4 268.3,53.4 268.4,53.2 268.6,53.2 268.8,53.2 268.9,53.3 269.1,53.4 269.3,53.3 269.5,53.4 269.6,53.2 269.8,53.2 270,53.4 270.2,53.3 270.3,53.3 270.5,53.3 270.7,53.2 270.8,53.2 271,53.3 271.2,53.2 271.4,53.3 271.5,53.2 271.7,53.3" fill="none" stroke="#0f64e4" stroke-width="1.5" stroke-linejoin="round"/>
<polyline points="31,73 31.2,72.9 31.3,72.9 31.5,72.8 31.7,73 31.9,72.9 32,73 32.2,72.7 32.4,72.9 32.5,72.9 32.7,72.7 32.9,72.6 33.1,72.6 33.2,72.6 33.4,72.7 33.6,72.5 33.8,72.6 33.9,72.5 34.1,72.5 34.3,72.5 34.4,72.5 34.6,72.6 34.8,72.6 35,72.6 35.1,72.8 35.3,72.7 35.5,72.8 35.6,72.9 35.8,72.9 36,72.8 36.2,72.9 36.3,73 36.5,72.9 36.7,72.8 36.8,72.9 37,73 37.2,72.8 37.4,72.8 37.5,72.9 37.7,73 37.9,73 38,72.9 38.2,73.1 38.4,72.9 38.6,73 38.7,72.8 38.9,72.8 39.1,72.9 39.3,72.8 39.4,73 39.6,73 39.8,72.9 39.9,73.1 40.1,72.9 40.3,72.9 40.5,72.9 40.6,73 40.8,73.1 41,72.9 41.1,72.8 41.3,73.1 41.5,72.9 41.7,73.1 41.8,73 42,73 42.2,72.9 42.3,73.1 42.5,73 42.7,72.9 42.9,73.1 43,72.9 43.2,73 43.4,72.9 43.6,73 43.7,73 43.9,73.1 44.1,72.9 44.2,73 44.4,73 44.6,73.1 44.8,73.1 44.9,73 45.1,72.9 45.3,72.9 45.4,72.9 45.6,73 45.8,72.9 46,72.9 46.1,73.1 46.3,73 46.5,72.9 46.6,73.1 46.8,72.9 47,73 47.2,72.9 47.3,73.1 47.5,73.1 47.7,72.9 47.8,73.1 48,73.1 48.2,72.9 48.4,72.9 48.5,73 48.7,73.1 48.9,72.9 49.1,73 49.2,73 49.4,73 49.6,73 49.7,73.1 49.9,72.9 50.1,73.1 50.3,72.9 50.4,73.1 50.6,73.1 50.8,72.9 50.9,73.1 51.1,73.1 51.3,72.9 51.5,72.9 51.6,72.9 51.8,73.1 52,72.8 52.1,73.1 52.3,72.9 52.5,73.1 52.7,72.9 52.8,72.9 53,73 53.2,72.9 53.4,72.9 53.5,73.1 53.7,73 53.9,73.1 54,73.1 54.2,72.9 54.4,72.9 54.6,73.1 54.7,73 54.9,72.9 55.1,73 55.2,72.9 55.4,73 55.6,72.9 55.8,72.9 55.9,73.1 56.1,72.9 56.3,73.1 56.4,72.9 56.6,73 56.8,72.9 57,73 57.1,72.9 57.3,73 57.5,72.9 57.6,73.1 57.8,73 58,72.9 58.2,72.9 58.3,73 58.5,73.1 58.7,72.9 58.9,72.9 59,73.1 59.2,73.1 59.4,73 59.5,72.9 59.7,72.9 59.9,72.9 60.1,72.9 60.2,72.9 60.4,73 60.6,73 60.7,73 60.9,72.9 61.1,72.8 61.3,73 61.4,73 61.6,73 61.8,73 61.9,73 62.1,73.1 62.3,73.1 62.5,73 62.6,73 62.8,72.9 63,73 63.2,73.1 63.3,72.9 63.5,72.9 63.7,73 63.8,72.9 64,73.1 64.2,72.8 64.4,73 64.5,73.1 64.7,72.9 64.9,73 65,72.9 65.2,72.9 65.4,72.9 65.6,72.9 65.7,73.1 65.9,73.1 66.1,73.1 66.2,72.8 66.4,73 66.6,72.9 66.8,73 66.9,73 67.1,72.9 67.3,73.1 67.4,72.8 67.6,73 67.8,73.1 68,73 68.1,73 68.3,73.1 68.5,72.9 68.7,73 68.8,73 69,72.9 69.2,73 69.3,72.9 69.5,73 69.7,73 69.9,73 70,72.9 70.2,73 70.4,73 70.5,72.9 70.7,73 70.9,72.9 71.1,73.1 71.2,73 71.4,73 71.6,73 71.7,73 71.9,72.9 72.1,72.9 72.3,73.1 72.4,73 72.6,73 72.8,73 73,73 73.1,72.9 73.3,72.9 73.5,73 73.6,72.9 73.8,73 74,73 74.2,73.1 74.3,73 74.5,72.8 74.7,72.9 74.8,73 75,73 75.2,72.8 75.4,72.8 75.5,72.9 75.7,72.8 75.9,72.9 76,73 76.2,72.9 76.4,72.9 76.6,72.8 76.7,72.9 76.9,73 77.1,73 77.2,72.9 77.4,72.9 77.6,73 77.8,73 77.9,72.8 78.1,72.9 78.3,72.8 78.5,72.9 78.6,72.8 78.8,72.8 79,72.8 79.1,72.8 79.3,72.7 79.5,72.7 79.7,72.8 79.8,72.7 80,72.7 80.2,72.8 80.3,72.7 80.5,72.7 80.7,72.6 80.9,72.7 81,72.5 81.2,72.6 81.4,72.6 81.5,72.4 81.7,72.4 81.9,72.4 82.1,72.2 82.2,72.1 82.4,71.8 82.6,71.8 82.8,71.6 82.9,71.5 83.1,71.2 83.3,71.1 83.4,71 83.6,71 83.8,71 84,71.1 84.1,71.3 84.3,71.6 84.5,71.5 84.6,71.9 84.8,72 85,72 85.2,72.2 85.3,72.2 85.5,72.2 85.7,72.5 85.8,72.5 86,72.5 86.2,72.6 86.4,72.7 86.5,72.7 86.7,72.5 86.9,72.7 87,72.7 87.2,72.7 87.4,72.8 87.6,72.7 87.7,72.8 87.9,72.9 88.1,72.8 88.3,72.8 88.4,72.8 88.6,72.9 88.8,72.9 88.9,72.9 89.1,72.8 89.3,72.7 89.5,72.9 89.6,72.9 89.8,72.9 90,72.9 90.1,72.7 90.3,72.8 90.5,72.7 90.7,72.9 90.8,72.7 91,72.7 91.2,72.9 91.3,72.9 91.5,72.7 91.7,72.9 91.9,72.9 92,72.8 92.2,72.7 92.4,72.9 92.6,72.8 92.7,72.9 92.9,73 93.1,72.9 93.2,72.9 93.4,72.7 93.6,72.8 93.8,72.8 93.9,72.7 94.1,73 94.3,72.7 94.4,72.7 94.6,72.8 94.8,72.7 95,72.9 95.1,72.8 95.3,72.8 95.5,72.8 95.6,72.6 95.8,72.7 96,72.9 96.2,72.8 96.3,72.8 96.5,72.7 96.7,72.7 96.8,72.6 97,72.7 97.2,72.7 97.4,72.7 97.5,72.7 97.7,72.7 97.9,72.6 98.1,72.7 98.2,72.6 98.4,72.7 98.6,72.6 98.7,72.5 98.9,72.5 99.1,72.6 99.3,72.5 99.4,72.5 99.6,72.4 99.8,72.4 99.9,72.5 100.1,72.4 100.3,72.4 100.5,72.4 100.6,72.3 100.8,72.3 101,72.4 101.1,72.2 101.3,72.3 101.5,72 101.7,72 101.8,72 102,71.8 102.2,71.9 102.4,71.6 102.5,71.7 102.7,71.5 102.9,71.6 103,71.3 103.2,71.3 103.4,71 103.6,70.9 103.7,70.7 103.9,70.4 104.1,70.2 104.2,70.1 104.4,69.7 104.6,69.6 104.8,69.2 104.9,68.9 105.1,68.6 105.3,68.5 105.4,68.3 105.6,68 105.8,67.9 106,67.6 106.1,67.8 106.3,68 106.5,68.1 106.6,68.4 106.8,68.7 107,68.5 107.2,68.5 107.3,67.8 107.5,66.8 107.7,65.3 107.9,62.9 108,60.4 108.2,59 108.4,60.7 108.5,63.3 108.7,66 108.9,67.7 109.1,69.1 109.2,70.1 109.4,70.5 109.6,70.8 109.7,71.3 109.9,71.6 110.1,71.7 110.3,71.9 110.4,71.9 110.6,72.1 110.8,72.2 110.9,72.2 111.1,72.3 111.3,72.2 111.5,72.4 111.6,72.2 111.8,72.5 112,72.5 112.2,72.5 112.3,72.3 112.5,72.3 112.7,72.2 112.8,72.3 113,72.2 113.2,72.3 113.4,72.1 113.5,72.2 113.7,72.3 113.9,72.3 114,72.3 114.2,72.2 114.4,72.3 114.6,72.4 114.7,72.6 114.9,72.7 115.1,72.5 115.2,72.8 115.4,72.5 115.6,72.7 115.8,72.8 115.9,72.7 116.1,72.9 116.3,72.8 116.4,72.7 116.6,72.8 116.8,72.8 117,72.8 117.1,72.9 117.3,72.8 117.5,72.9 117.7,72.8 117.8,72.7 118,72.9 118.2,72.8 118.3,72.9 118.5,73 118.7,72.9 118.9,72.9 119,72.8 119.2,72.9 119.4,72.8 119.5,72.9 119.7,72.8 119.9,72.9 120.1,72.9 120.2,72.9 120.4,73 120.6,72.8 120.7,72.8 120.9,73 121.1,72.9 121.3,73 121.4,73 121.6,72.9 121.8,72.8 122,72.8 122.1,73 122.3,72.8 122.5,72.9 122.6,72.9 122.8,72.8 123,72.9 123.2,72.8 123.3,73 123.5,72.9 123.7,72.9 123.8,72.9 124,72.9 124.2,72.9 124.4,72.8 124.5,72.9 124.7,73 124.9,72.9 125,73.1 125.2,72.8 125.4,73.1 125.6,72.9 125.7,73 125.9,73 126.1,73 126.2,72.9 126.4,73 126.6,72.8 126.8,72.9 126.9,72.8 127.1,72.9 127.3,72.9 127.5,72.9 127.6,73 127.8,72.8 128,73 128.1,72.9 128.3,73 128.5,73 128.7,73 128.8,72.8 129,72.8 129.2,72.9 129.3,73 129.5,72.8 129.7,72.9 129.9,72.9 130,73 130.2,72.8 130.4,72.9 130.5,72.8 130.7,72.9 130.9,72.7 131.1,72.9 131.2,72.7 131.4,72.7 131.6,72.6 131.8,72.6 131.9,72.7 132.1,72.6 132.3,72.5 132.4,72.5 132.6,72.5 132.8,72.5 133,72.5 133.1,72.6 133.3,72.8 133.5,72.9 133.6,72.8 133.8,72.8 134,72.8 134.2,72.9 134.3,73 134.5,72.9 134.7,72.9 134.8,72.8 135,72.9 135.2,73 135.4,73 135.5,72.8 135.7,73 135.9,72.9 136,72.8 136.2,73.1 136.4,73 136.6,73 136.7,72.8 136.9,73 137.1,73.1 137.3,73.1 137.4,73 137.6,73 137.8,73 137.9,73 138.1,72.9 138.3,73 138.5,73 138.6,73.1 138.8,72.9 139,73.1 139.1,73 139.3,73.1 139.5,72.9 139.7,73.1 139.8,73 140,72.9 140.2,73.1 140.3,72.9 140.5,72.9 140.7,72.9 140.9,72.9 141,73 141.2,73.1 141.4,73 141.6,73 141.7,72.9 141.9,73 142.1,73 142.2,73 142.4,73.1 142.6,73.1 142.8,72.9 142.9,72.8 143.1,73 143.3,73.1 143.4,72.9 143.6,73 143.8,73.1 144,73 144.1,72.8 144.3,73 144.5,72.8 144.6,72.8 144.8,73 145,72.9 145.2,73 145.3,72.9 145.5,72.9 145.7,72.9 145.8,72.9 146,73 146.2,73 146.4,72.9 146.5,72.8 146.7,72.9 146.9,73 147.1,72.9 147.2,73 147.4,73 147.6,72.8 147.7,73 147.9,72.8 148.1,73 148.3,72.8 148.4,72.9 148.6,73.1 148.8,72.9 148.9,72.8 149.1,73 149.3,72.9 149.5,73 149.6,72.9 149.8,72.9 150,73 150.1,72.9 150.3,73 150.5,72.8 150.7,73 150.8,72.8 151,72.9 151.2,72.7 151.3,72.7 151.5,72.9 151.7,72.8 151.9,72.9 152,72.7 152.2,72.7 152.4,72.6 152.6,72.7 152.7,72.8 152.9,72.7 153.1,72.6 153.2,72.7 153.4,72.7 153.6,72.6 153.8,72.3 153.9,72.4 154.1,72.3 154.3,72.4 154.4,72.1 154.6,72.1 154.8,71.9 155,71.7 155.1,71.5 155.3,71.3 155.5,71.1 155.6,70.8 155.8,70.5 156,70.6 156.2,70.3 156.3,70.5 156.5,70.6 156.7,70.8 156.9,71 157,71.3 157.2,71.6 157.4,71.7 157.5,71.9 157.7,71.9 157.9,72.1 158.1,72.1 158.2,72.5 158.4,72.5 158.6,72.4 158.7,72.5 158.9,72.6 159.1,72.5 159.3,72.6 159.4,72.7 159.6,72.7 159.8,72.7 159.9,72.8 160.1,72.7 160.3,72.8 160.5,72.8 160.6,72.9 160.8,72.9 161,72.9 161.1,72.9 161.3,72.8 161.5,73 161.7,72.9 161.8,72.9 162,72.8 162.2,72.8 162.4,72.9 162.5,73 162.7,73 162.9,72.9 163,72.8 163.2,72.9 163.4,73 163.6,72.8 163.7,73 163.9,72.8 164.1,72.9 164.2,72.8 164.4,72.9 164.6,72.9 164.8,73 164.9,73 165.1,72.8 165.3,72.9 165.4,73 165.6,72.8 165.8,72.9 166,72.9 166.1,72.8 166.3,72.8 166.5,72.9 166.7,72.9 166.8,73 167,72.8 167.2,72.8 167.3,73 167.5,72.9 167.7,73 167.9,72.9 168,73 168.2,72.8 168.4,72.8 168.5,72.9 168.7,72.8 168.9,72.8 169.1,72.9 169.2,72.9 169.4,72.7 169.6,72.7 169.7,72.8 169.9,72.7 170.1,72.6 170.3,72.6 170.4,72.5 170.6,72.6 170.8,72.3 170.9,72.5 171.1,72.4 171.3,72.3 171.5,72.5 171.6,72.3 171.8,72.4 172,72.4 172.2,72.6 172.3,72.7 172.5,72.7 172.7,72.6 172.8,72.8 173,72.6 173.2,72.7 173.4,72.8 173.5,72.9 173.7,72.9 173.9,72.9 174,72.9 174.2,72.8 174.4,73 174.6,73 174.7,72.8 174.9,72.9 175.1,73 175.2,72.9 175.4,72.8 175.6,73 175.8,72.9 175.9,72.9 176.1,73 176.3,73 176.5,72.8 176.6,72.9 176.8,72.8 177,72.9 177.1,72.9 177.3,73 177.5,73 177.7,73 177.8,72.9 178,73 178.2,72.9 178.3,73 178.5,73 178.7,73 178.9,72.9 179,73 179.2,73 179.4,73 179.5,73.1 179.7,73.1 179.9,73 180.1,73 180.2,73 180.4,73.1 180.6,72.9 180.7,73 180.9,73 181.1,73 181.3,72.9 181.4,72.8 181.6,73 181.8,73 182,72.9 182.1,72.9 182.3,72.9 182.5,72.8 182.6,73 182.8,73.1 183,73 183.2,72.9 183.3,73 183.5,72.8 183.7,73 183.8,72.9 184,72.8 184.2,73 184.4,72.8 184.5,72.9 184.7,72.8 184.9,72.9 185,73 185.2,73 185.4,72.8 185.6,73 185.7,72.8 185.9,72.8 186.1,73 186.3,72.9 186.4,72.9 186.6,72.9 186.8,72.8 186.9,73 187.1,72.8 187.3,73 187.5,73 187.6,72.9 187.8,72.8 188,73 188.1,72.7 188.3,72.9 188.5,72.8 188.7,72.7 188.8,72.9 189,72.9 189.2,72.8 189.3,72.8 189.5,72.8 189.7,72.8 189.9,72.7 190,72.8 190.2,72.9 190.4,72.8 190.5,72.8 190.7,72.6 190.9,72.7 191.1,72.4 191.2,72.5 191.4,72.4 191.6,72.4 191.8,72.4 191.9,72.3 192.1,72.2 192.3,72.1 192.4,71.9 192.6,71.9 192.8,71.7 193,71.6 193.1,71.6 193.3,71.5 193.5,71.4 193.6,71.3 193.8,71.5 194,71.4 194.2,71.5 194.3,71.7 194.5,71.8 194.7,72 194.8,72.1 195,72.2 195.2,72.3 195.4,72.3 195.5,72.4 195.7,72.3 195.9,72.4 196.1,72.4 196.2,72.7 196.4,72.7 196.6,72.7 196.7,72.6 196.9,72.7 197.1,72.6 197.3,72.8 197.4,72.9 197.6,72.7 197.8,72.7 197.9,72.7 198.1,72.8 198.3,72.9 198.5,72.9 198.6,72.8 198.8,72.8 199,72.8 199.1,72.8 199.3,73 199.5,72.9 199.7,73 199.8,73 200,73 200.2,72.9 200.3,73 200.5,72.8 200.7,72.8 200.9,72.9 201,72.9 201.2,72.8 201.4,72.9 201.6,72.8 201.7,73.1 201.9,73 202.1,73.1 202.2,73.1 202.4,72.9 202.6,73 202.8,72.9 202.9,73 203.1,73 203.3,72.9 203.4,72.8 203.6,72.9 203.8,73 204,72.9 204.1,72.8 204.3,73.1 204.5,73 204.6,73 204.8,72.8 205,73.1 205.2,73 205.3,72.8 205.5,72.9 205.7,73 205.9,73.1 206,73 206.2,73 206.4,72.9 206.5,72.9 206.7,73.1 206.9,72.9 207.1,72.9 207.2,73 207.4,72.9 207.6,72.9 207.7,73 207.9,73 208.1,73 208.3,73 208.4,73 208.6,72.9 208.8,73 208.9,72.9 209.1,73 209.3,73 209.5,73 209.6,73 209.8,72.9 210,73 210.1,73 210.3,73 210.5,72.9 210.7,73.1 210.8,73 211,72.9 211.2,72.9 211.4,73.1 211.5,72.9 211.7,73 211.9,73.1 212,73.1 212.2,73 212.4,73.1 212.6,72.9 212.7,72.9 212.9,73.1 213.1,73.1 213.2,72.9 213.4,72.9 213.6,72.9 213.8,73.1 213.9,72.9 214.1,73 214.3,73.1 214.4,73 214.6,73.1 214.8,72.9 215,72.9 215.1,72.8 215.3,73.1 215.5,72.9 215.7,73.1 215.8,73 216,72.9 216.2,73.1 216.3,72.9 216.5,73 216.7,72.9 216.9,73.1 217,73.1 217.2,73.1 217.4,72.8 217.5,73.1 217.7,73 217.9,73.1 218.1,73 218.2,73 218.4,73 218.6,73.1 218.7,72.9 218.9,72.9 219.1,73 219.3,72.9 219.4,73 219.6,72.8 219.8,73.1 219.9,72.8 220.1,73.1 220.3,73.1 220.5,73 220.6,72.9 220.8,73 221,72.9 221.2,73 221.3,72.9 221.5,73.1 221.7,73 221.8,72.9 222,72.9 222.2,73 222.4,73.1 222.5,73.1 222.7,72.9 222.9,72.9 223,72.9 223.2,73 223.4,72.9 223.6,73 223.7,73.1 223.9,73 224.1,72.8 224.2,72.8 224.4,72.8 224.6,73 224.8,73 224.9,73 225.1,72.9 225.3,72.9 225.5,73 225.6,73 225.8,73 226,73 226.1,73 226.3,73 226.5,73 226.7,72.9 226.8,72.7 227,72.9 227.2,72.9 227.3,72.8 227.5,72.9 227.7,72.6 227.9,72.8 228,72.7 228.2,72.7 228.4,72.5 228.5,72.5 228.7,72.6 228.9,72.6 229.1,72.5 229.2,72.6 229.4,72.8 229.6,72.7 229.7,72.9 229.9,72.8 230.1,72.9 230.3,73 230.4,72.9 230.6,72.8 230.8,72.8 231,72.9 231.1,72.8 231.3,72.8 231.5,73 231.6,73 231.8,72.9 232,73 232.2,73 232.3,73.1 232.5,73 232.7,73 232.8,72.8 233,73 233.2,72.9 233.4,73 233.5,72.9 233.7,73 233.9,73.1 234,72.9 234.2,73 234.4,73 234.6,73 234.7,73.1 234.9,72.9 235.1,73.1 235.3,73 235.4,73.1 235.6,72.9 235.8,72.9 235.9,72.9 236.1,73.1 236.3,72.8 236.5,72.9 236.6,73 236.8,73.1 237,72.9 237.1,73 237.3,73 237.5,73 237.7,73.1 237.8,73.1 238,72.9 238.2,72.9 238.3,72.9 238.5,73 238.7,72.9 238.9,72.9 239,73.1 239.2,73 239.4,73 239.5,73 239.7,73 239.9,73 240.1,72.9 240.2,72.9 240.4,72.9 240.6,72.9 240.8,73 240.9,72.9 241.1,72.9 241.3,73 241.4,73.1 241.6,73 241.8,72.9 242,73.1 242.1,72.9 242.3,72.9 242.5,72.9 242.6,73 242.8,73 243,73 243.2,73.1 243.3,72.9 243.5,73.1 243.7,72.9 243.8,73.1 244,72.9 244.2,73.1 244.4,72.9 244.5,73.1 244.7,73.1 244.9,73 245.1,72.9 245.2,72.9 245.4,72.9 245.6,73.1 245.7,72.9 245.9,73 246.1,73 246.3,73 246.4,72.9 246.6,72.9 246.8,72.9 246.9,73.1 247.1,73 247.3,73 247.5,73 247.6,72.9 247.8,72.9 248,72.9 248.1,73.1 248.3,72.9 248.5,73.1 248.7,73 248.8,73.1 249,72.9 249.2,73.1 249.3,72.9 249.5,73 249.7,73 249.9,72.9 250,72.9 250.2,73.1 250.4,72.9 250.6,73 250.7,73.1 250.9,72.9 251.1,72.9 251.2,72.9 251.4,73 251.6,72.9 251.8,73 251.9,73 252.1,73.1 252.3,72.9 252.4,73 252.6,73.1 252.8,72.9 253,72.8 253.1,73 253.3,72.9 253.5,73 253.6,73 253.8,72.9 254,72.9 254.2,73 254.3,72.9 254.5,72.9 254.7,73 254.9,72.9 255,72.8 255.2,72.9 255.4,73 255.5,73.1 255.7,73 255.9,72.8 256.1,72.9 256.2,73 256.4,73 256.6,73.1 256.7,73.1 256.9,73 257.1,72.8 257.3,73.1 257.4,72.9 257.6,72.8 257.8,72.8 257.9,73 258.1,72.8 258.3,72.8 258.5,72.8 258.6,73 258.8,72.8 259,72.9 259.1,72.7 259.3,72.7 259.5,72.7 259.7,72.6 259.8,72.7 260,72.6 260.2,72.5 260.4,72.7 260.5,72.5 260.7,72.4 260.9,72.4 261,72.6 261.2,72.6 261.4,72.5 261.6,72.6 261.7,72.7 261.9,72.7 262.1,72.7 262.2,72.8 262.4,72.8 262.6,72.9 262.8,72.7 262.9,72.9 263.1,73 263.3,73 263.4,73 263.6,72.9 263.8,73 264,72.8 264.1,72.9 264.3,73 264.5,73.1 264.7,72.8 264.8,72.9 265,72.8 265.2,72.9 265.3,72.9 265.5,72.9 265.7,73 265.9,73 266,73.1 266.2,72.9 266.4,73 266.5,72.8 266.7,73.1 266.9,72.9 267.1,73 267.2,73 267.4,73.1 267.6,73 267.7,73.1 267.9,73 268.1,72.9 268.3,73.1 268.4,72.9 268.6,73.1 268.8,73 268.9,72.9 269.1,73.1 269.3,72.9 269.5,73 269.6,72.9 269.8,73 270,72.9 270.2,73 270.3,72.9 270.5,73.1 270.7,72.8 270.8,73 271,72.9 271.2,73 271.4,73 271.5,73 271.7,72.9" fill="none" stroke="#f42f2f" stroke-width="1.5" stroke-linejoin="round"/>
<polyline points="31,105.5 31.2,105.5 31.3,105.7 31.5,105.5 31.7,105.5 31.9,105.6 32,105.6 32.2,105.7 32.4,105.5 32.5,105.5 32.7,105.5 32.9,105.6 33.1,105.6 33.2,105.6 33.4,105.7 33.6,105.6 33.8,105.7 33.9,105.7 34.1,105.5 34.3,105.7 34.4,105.6 34.6,105.5 34.8,105.7 35,105.5 35.1,105.5 35.3,105.5 35.5,105.5 35.6,105.7 35.8,105.7 36,105.6 36.2,105.6 36.3,105.7 36.5,105.7 36.7,105.6 36.8,105.6 37,105.5 37.2,105.5 37.4,105.6 37.5,105.6 37.7,105.7 37.9,105.7 38,105.7 38.2,105.5 38.4,105.5 38.6,105.7 38.7,105.6 38.9,105.5 39.1,105.7 39.3,105.5 39.4,105.5 39.6,105.6 39.8,105.6 39.9,105.6 40.1,105.5 40.3,105.7 40.5,105.6 40.6,105.6 40.8,105.6 41,105.7 41.1,105.5 41.3,105.6 41.5,105.6 41.7,105.7 41.8,105.6 42,105.5 42.2,105.7 42.3,105.7 42.5,105.5 42.7,105.6 42.9,105.7 43,105.5 43.2,105.6 43.4,105.7 43.6,105.7 43.7,105.5 43.9,105.7 44.1,105.6 44.2,105.6 44.4,105.7 44.6,105.5 44.8,105.5 44.9,105.5 45.1,105.5 45.3,105.5 45.4,105.5 45.6,105.6 45.8,105.6 46,105.5 46.1,105.6 46.3,105.7 46.5,105.6 46.6,105.6 46.8,105.7 47,105.6 47.2,105.5 47.3,105.6 47.5,105.5 47.7,105.6 47.8,105.5 48,105.6 48.2,105.7 48.4,105.7 48.5,105.7 48.7,105.6 48.9,105.6 49.1,105.7 49.2,105.7 49.4,105.5 49.6,105.7 49.7,105.5 49.9,105.5 50.1,105.7 50.3,105.6 50.4,105.7 50.6,105.7 50.8,105.6 50.9,105.5 51.1,105.5 51.3,105.6 51.5,105.7 51.6,105.5 51.8,105.5 52,105.5 52.1,105.5 52.3,105.7 52.5,105.5 52.7,105.5 52.8,105.5 53,105.7 53.2,105.7 53.4,105.5 53.5,105.5 53.7,105.7 53.9,105.7 54,105.5 54.2,105.5 54.4,105.6 54.6,105.5 54.7,105.6 54.9,105.6 55.1,105.5 55.2,105.5 55.4,105.5 55.6,105.5 55.8,105.5 55.9,105.6 56.1,105.6 56.3,105.5 56.4,105.7 56.6,105.7 56.8,105.5 57,105.6 57.1,105.5 57.3,105.7 57.5,105.6 57.6,105.5 57.8,105.5 58,105.6 58.2,105.6 58.3,105.7 58.5,105.5 58.7,105.7 58.9,105.7 59,105.5 59.2,105.6 59.4,105.5 59.5,105.7 59.7,105.7 59.9,105.7 60.1,105.5 60.2,105.5 60.4,105.6 60.6,105.6 60.7,105.5 60.9,105.5 61.1,105.6 61.3,105.5 61.4,105.6 61.6,105.5 61.8,105.5 61.9,105.6 62.1,105.6 62.3,105.7 62.5,105.5 62.6,105.7 62.8,105.5 63,105.5 63.2,105.6 63.3,105.6 63.5,105.6 63.7,105.7 63.8,105.5 64,105.5 64.2,105.6 64.4,105.5 64.5,105.5 64.7,105.5 64.9,105.7 65,105.7 65.2,105.6 65.4,105.7 65.6,105.7 65.7,105.5 65.9,105.5 66.1,105.6 66.2,105.5 66.4,105.6 66.6,105.5 66.8,105.5 66.9,105.6 67.1,105.5 67.3,105.7 67.4,105.7 67.6,105.6 67.8,105.5 68,105.5 68.1,105.6 68.3,105.6 68.5,105.5 68.7,105.6 68.8,105.6 69,105.7 69.2,105.5 69.3,105.5 69.5,105.5 69.7,105.6 69.9,105.5 70,105.6 70.2,105.5 70.4,105.5 70.5,105.6 70.7,105.6 70.9,105.6 71.1,105.5 71.2,105.5 71.4,105.7 71.6,105.7 71.7,105.6 71.9,105.4 72.1,105.5 72.3,105.6 72.4,105.5 72.6,105.4 72.8,105.7 73,105.6 73.1,105.4 73.3,105.5 73.5,105.6 73.6,105.5 73.8,105.4 74,105.6 74.2,105.6 74.3,105.5 74.5,105.3 74.7,105.4 74.8,105.3 75,105.5 75.2,105.2 75.4,105.2 75.5,105.3 75.7,105 75.9,104.9 76,104.7 76.2,104.4 76.4,103.8 76.6,102.2 76.7,97.6 76.9,91.3 77.1,97.6 77.2,101.6 77.4,102.8 77.6,102.5 77.8,100.6 77.9,95.2 78.1,93.6 78.3,100.2 78.5,103.1 78.6,104.2 78.8,104.7 79,104.8 79.1,105.1 79.3,105 79.5,105 79.7,105 79.8,105 80,104.9 80.2,104.6 80.3,104.2 80.5,103.7 80.7,101.7 80.9,97.3 81,91.4 81.2,97.2 81.4,101.7 81.5,103.6 81.7,104.5 81.9,104.7 82.1,105.1 82.2,105.1 82.4,105.1 82.6,105.3 82.8,105.3 82.9,105.3 83.1,105.4 83.3,105.5 83.4,105.5 83.6,105.4 83.8,105.3 84,105.5 84.1,105.5 84.3,105.6 84.5,105.6 84.6,105.4 84.8,105.5 85,105.5 85.2,105.4 85.3,105.4 85.5,105.4 85.7,105.3 85.8,105.3 86,105.2 86.2,105.2 86.4,105.4 86.5,105.2 86.7,105.2 86.9,105.1 87,105 87.2,104.6 87.4,104.6 87.6,104.2 87.7,103.9 87.9,103.6 88.1,103.4 88.3,103.6 88.4,103.7 88.6,104.2 88.8,104.4 88.9,104.8 89.1,104.8 89.3,105 89.5,105.1 89.6,105.3 89.8,105.2 90,105.4 90.1,105.4 90.3,105.5 90.5,105.3 90.7,105.5 90.8,105.5 91,105.5 91.2,105.5 91.3,105.3 91.5,105.6 91.7,105.5 91.9,105.5 92,105.4 92.2,105.5 92.4,105.5 92.6,105.6 92.7,105.4 92.9,105.4 93.1,105.4 93.2,105.3 93.4,105.4 93.6,105.3 93.8,105.4 93.9,105.2 94.1,105.1 94.3,105.1 94.4,105.2 94.6,104.9 94.8,104.8 95,104.6 95.1,104.5 95.3,104.5 95.5,104.4 95.6,104.6 95.8,104.9 96,105 96.2,105.2 96.3,105.3 96.5,105.2 96.7,105.4 96.8,105.4 97,105.3 97.2,105.5 97.4,105.5 97.5,105.5 97.7,105.5 97.9,105.5 98.1,105.6 98.2,105.6 98.4,105.4 98.6,105.5 98.7,105.5 98.9,105.7 99.1,105.6 99.3,105.4 99.4,105.7 99.6,105.4 99.8,105.6 99.9,105.5 100.1,105.6 100.3,105.5 100.5,105.4 100.6,105.6 100.8,105.6 101,105.6 101.1,105.5 101.3,105.5 101.5,105.6 101.7,105.6 101.8,105.5 102,105.7 102.2,105.7 102.4,105.5 102.5,105.5 102.7,105.6 102.9,105.7 103,105.5 103.2,105.5 103.4,105.5 103.6,105.6 103.7,105.5 103.9,105.6 104.1,105.6 104.2,105.6 104.4,105.5 104.6,105.7 104.8,105.7 104.9,105.6 105.1,105.6 105.3,105.5 105.4,105.7 105.6,105.6 105.8,105.6 106,105.7 106.1,105.5 106.3,105.7 106.5,105.5 106.6,105.4 106.8,105.6 107,105.7 107.2,105.7 107.3,105.7 107.5,105.5 107.7,105.7 107.9,105.6 108,105.4 108.2,105.6 108.4,105.6 108.5,105.5 108.7,105.5 108.9,105.4 109.1,105.4 109.2,105.5 109.4,105.5 109.6,105.4 109.7,105.3 109.9,105.3 110.1,105.3 110.3,105.4 110.4,105.4 110.6,105.2 110.8,105.1 110.9,105 111.1,104.7 111.3,104.5 111.5,104.1 111.6,102.9 111.8,101.5 112,100.5 112.2,101.5 112.3,103 112.5,104 112.7,104.3 112.8,104.8 113,105 113.2,104.8 113.4,105.1 113.5,104.9 113.7,104.7 113.9,104.5 114,104.5 114.2,104 114.4,103 114.6,101.7 114.7,99.5 114.9,98 115.1,99.4 115.2,101.8 115.4,103.1 115.6,103.9 115.8,104.4 115.9,104.7 116.1,105 116.3,105 116.4,105 116.6,105.1 116.8,105.1 117,105.2 117.1,105.2 117.3,105.3 117.5,105.2 117.7,105.2 117.8,105.1 118,105.2 118.2,105 118.3,105 118.5,104.8 118.7,104.6 118.9,104.8 119,104.8 119.2,104.9 119.4,105 119.5,105.3 119.7,105.4 119.9,105.3 120.1,105.3 120.2,105.4 120.4,105.4 120.6,105.5 120.7,105.4 120.9,105.4 121.1,105.6 121.3,105.5 121.4,105.4 121.6,105.6 121.8,105.6 122,105.5 122.1,105.6 122.3,105.7 122.5,105.5 122.6,105.5 122.8,105.5 123,105.6 123.2,105.6 123.3,105.6 123.5,105.7 123.7,105.5 123.8,105.5 124,105.7 124.2,105.6 124.4,105.6 124.5,105.6 124.7,105.5 124.9,105.7 125,105.6 125.2,105.5 125.4,105.5 125.6,105.5 125.7,105.7 125.9,105.7 126.1,105.4 126.2,105.5 126.4,105.6 126.6,105.6 126.8,105.5 126.9,105.7 127.1,105.5 127.3,105.6 127.5,105.7 127.6,105.6 127.8,105.6 128,105.5 128.1,105.5 128.3,105.6 128.5,105.7 128.7,105.5 128.8,105.5 129,105.5 129.2,105.5 129.3,105.7 129.5,105.6 129.7,105.5 129.9,105.5 130,105.7 130.2,105.5 130.4,105.6 130.5,105.4 130.7,105.5 130.9,105.5 131.1,105.7 131.2,105.5 131.4,105.5 131.6,105.5 131.8,105.5 131.9,105.6 132.1,105.6 132.3,105.7 132.4,105.7 132.6,105.6 132.8,105.7 133,105.5 133.1,105.7 133.3,105.6 133.5,105.5 133.6,105.6 133.8,105.7 134,105.5 134.2,105.5 134.3,105.7 134.5,105.6 134.7,105.6 134.8,105.7 135,105.4 135.2,105.4 135.4,105.5 135.5,105.4 135.7,105.6 135.9,105.6 136,105.4 136.2,105.5 136.4,105.5 136.6,105.6 136.7,105.6 136.9,105.7 137.1,105.5 137.3,105.6 137.4,105.5 137.6,105.5 137.8,105.4 137.9,105.4 138.1,105.6 138.3,105.6 138.5,105.5 138.6,105.3 138.8,105.2 139,105.2 139.1,105.2 139.3,105.2 139.5,104.8 139.7,104.8 139.8,104.6 140,104.2 140.2,104.1 140.3,104.1 140.5,104.1 140.7,104.3 140.9,104.7 141,104.8 141.2,104.9 141.4,105.1 141.6,105.3 141.7,105.4 141.9,105.4 142.1,105.4 142.2,105.3 142.4,105.3 142.6,105.4 142.8,105.5 142.9,105.3 143.1,105.6 143.3,105.6 143.4,105.5 143.6,105.4 143.8,105.6 144,105.5 144.1,105.6 144.3,105.6 144.5,105.6 144.6,105.5 144.8,105.7 145,105.7 145.2,105.7 145.3,105.6 145.5,105.5 145.7,105.5 145.8,105.5 146,105.7 146.2,105.6 146.4,105.6 146.5,105.6 146.7,105.7 146.9,105.6 147.1,105.5 147.2,105.6 147.4,105.5 147.6,105.6 147.7,105.4 147.9,105.6 148.1,105.5 148.3,105.5 148.4,105.6 148.6,105.4 148.8,105.6 148.9,105.6 149.1,105.4 149.3,105.5 149.5,105.5 149.6,105.5 149.8,105.4 150,105.3 150.1,105.3 150.3,105 150.5,105.1 150.7,104.9 150.8,104.9 151,105 151.2,105.3 151.3,105.3 151.5,105.4 151.7,105.3 151.9,105.5 152,105.5 152.2,105.4 152.4,105.5 152.6,105.6 152.7,105.4 152.9,105.6 153.1,105.5 153.2,105.5 153.4,105.7 153.6,105.7 153.8,105.7 153.9,105.5 154.1,105.6 154.3,105.6 154.4,105.6 154.6,105.5 154.8,105.6 155,105.5 155.1,105.7 155.3,105.5 155.5,105.4 155.6,105.6 155.8,105.4 156,105.6 156.2,105.4 156.3,105.7 156.5,105.5 156.7,105.6 156.9,105.4 157,105.5 157.2,105.4 157.4,105.4 157.5,105.5 157.7,105.3 157.9,105.4 158.1,105.2 158.2,105.4 158.4,105.4 158.6,105 158.7,105 158.9,104.9 159.1,104.9 159.3,104.8 159.4,104.7 159.6,105 159.8,104.9 159.9,105 160.1,105.3 160.3,105.1 160.5,105.2 160.6,105.3 160.8,105.3 161,105.2 161.1,105.4 161.3,105.3 161.5,105.3 161.7,105.1 161.8,105.2 162,104.9 162.2,105 162.4,104.8 162.5,104.7 162.7,104.6 162.9,104.6 163,104.7 163.2,105 163.4,105 163.6,105 163.7,105.3 163.9,105.4 164.1,105.4 164.2,105.4 164.4,105.3 164.6,105.4 164.8,105.5 164.9,105.5 165.1,105.5 165.3,105.3 165.4,105.5 165.6,105.4 165.8,105.4 166,105.3 166.1,105.3 166.3,105.3 166.5,105.3 166.7,105.2 166.8,105.2 167,105.2 167.2,105.2 167.3,105 167.5,104.7 167.7,104.7 167.9,104.3 168,104 168.2,103.6 168.4,102.9 168.5,102.8 168.7,103.1 168.9,103.4 169.1,103.9 169.2,104.3 169.4,104.5 169.6,104.7 169.7,104.9 169.9,105 170.1,105.2 170.3,105.3 170.4,105.4 170.6,105.4 170.8,105.3 170.9,105.5 171.1,105.5 171.3,105.4 171.5,105.6 171.6,105.5 171.8,105.4 172,105.5 172.2,105.4 172.3,105.6 172.5,105.4 172.7,105.6 172.8,105.4 173,105.4 173.2,105.5 173.4,105.4 173.5,105.5 173.7,105.4 173.9,105.6 174,105.6 174.2,105.6 174.4,105.6 174.6,105.6 174.7,105.5 174.9,105.5 175.1,105.3 175.2,105.3 175.4,105.4 175.6,105.6 175.8,105.3 175.9,105.4 176.1,105.2 176.3,105.2 176.5,105.3 176.6,105.1 176.8,105 177,104.7 177.1,104.7 177.3,104.7 177.5,105 177.7,104.9 177.8,105.3 178,105.2 178.2,105.4 178.3,105.4 178.5,105.3 178.7,105.5 178.9,105.4 179,105.5 179.2,105.3 179.4,105.6 179.5,105.6 179.7,105.4 179.9,105.5 180.1,105.4 180.2,105.4 180.4,105.4 180.6,105.5 180.7,105.5 180.9,105.5 181.1,105.5 181.3,105.3 181.4,105.3 181.6,105.1 181.8,105.1 182,104.9 182.1,104.8 182.3,104.9 182.5,104.7 182.6,104.8 182.8,104.9 183,105.1 183.2,105.3 183.3,105.4 183.5,105.3 183.7,105.4 183.8,105.4 184,105.5 184.2,105.4 184.4,105.5 184.5,105.3 184.7,105.4 184.9,105.5 185,105.4 185.2,105.6 185.4,105.4 185.6,105.6 185.7,105.4 185.9,105.4 186.1,105.4 186.3,105.4 186.4,105.4 186.6,105.5 186.8,105.3 186.9,105.4 187.1,105.4 187.3,105.3 187.5,105.2 187.6,105.3 187.8,105.1 188,104.8 188.1,104.6 188.3,104.3 188.5,104.1 188.7,103.8 188.8,103.8 189,103.9 189.2,104.1 189.3,104.4 189.5,104.8 189.7,104.8 189.9,104.9 190,105.1 190.2,105.2 190.4,105.4 190.5,105.4 190.7,105.4 190.9,105.3 191.1,105.3 191.2,105.3 191.4,105.6 191.6,105.5 191.8,105.4 191.9,105.5 192.1,105.4 192.3,105.5 192.4,105.5 192.6,105.4 192.8,105.6 193,105.6 193.1,105.5 193.3,105.5 193.5,105.6 193.6,105.5 193.8,105.6 194,105.4 194.2,105.7 194.3,105.4 194.5,105.5 194.7,105.5 194.8,105.5 195,105.5 195.2,105.6 195.4,105.7 195.5,105.5 195.7,105.5 195.9,105.6 196.1,105.5 196.2,105.5 196.4,105.6 196.6,105.6 196.7,105.5 196.9,105.5 197.1,105.6 197.3,105.7 197.4,105.7 197.6,105.5 197.8,105.6 197.9,105.6 198.1,105.5 198.3,105.6 198.5,105.6 198.6,105.7 198.8,105.5 199,105.7 199.1,105.7 199.3,105.6 199.5,105.5 199.7,105.6 199.8,105.5 200,105.6 200.2,105.6 200.3,105.6 200.5,105.7 200.7,105.4 200.9,105.6 201,105.7 201.2,105.5 201.4,105.5 201.6,105.4 201.7,105.6 201.9,105.6 202.1,105.5 202.2,105.6 202.4,105.5 202.6,105.6 202.8,105.5 202.9,105.7 203.1,105.5 203.3,105.4 203.4,105.4 203.6,105.6 203.8,105.6 204,105.6 204.1,105.4 204.3,105.6 204.5,105.5 204.6,105.4 204.8,105.4 205,105.4 205.2,105.2 205.3,105.2 205.5,105.2 205.7,105.2 205.9,105.2 206,104.9 206.2,105.1 206.4,105.2 206.5,105.3 206.7,105.3 206.9,105.5 207.1,105.4 207.2,105.6 207.4,105.5 207.6,105.4 207.7,105.5 207.9,105.5 208.1,105.5 208.3,105.5 208.4,105.5 208.6,105.5 208.8,105.4 208.9,105.4 209.1,105.5 209.3,105.5 209.5,105.5 209.6,105.5 209.8,105.4 210,105.4 210.1,105.3 210.3,105.4 210.5,105.3 210.7,105.3 210.8,105.1 211,104.9 211.2,105.1 211.4,105 211.5,105.1 211.7,105.1 211.9,105.3 212,105.4 212.2,105.5 212.4,105.4 212.6,105.5 212.7,105.4 212.9,105.5 213.1,105.5 213.2,105.5 213.4,105.5 213.6,105.6 213.8,105.6 213.9,105.5 214.1,105.5 214.3,105.6 214.4,105.6 214.6,105.6 214.8,105.6 215,105.6 215.1,105.5 215.3,105.5 215.5,105.5 215.7,105.4 215.8,105.7 216,105.6 216.2,105.6 216.3,105.7 216.5,105.7 216.7,105.5 216.9,105.5 217,105.5 217.2,105.7 217.4,105.7 217.5,105.6 217.7,105.5 217.9,105.5 218.1,105.6 218.2,105.6 218.4,105.7 218.6,105.7 218.7,105.7 218.9,105.6 219.1,105.6 219.3,105.5 219.4,105.7 219.6,105.5 219.8,105.5 219.9,105.5 220.1,105.7 220.3,105.7 220.5,105.5 220.6,105.7 220.8,105.7 221,105.6 221.2,105.5 221.3,105.7 221.5,105.6 221.7,105.5 221.8,105.7 222,105.6 222.2,105.6 222.4,105.6 222.5,105.5 222.7,105.4 222.9,105.5 223,105.5 223.2,105.4 223.4,105.5 223.6,105.6 223.7,105.5 223.9,105.6 224.1,105.6 224.2,105.5 224.4,105.4 224.6,105.6 224.8,105.6 224.9,105.5 225.1,105.5 225.3,105.6 225.5,105.6 225.6,105.4 225.8,105.5 226,105.5 226.1,105.3 226.3,105.2 226.5,105.2 226.7,105.2 226.8,105.2 227,105.1 227.2,105 227.3,105.1 227.5,105.2 227.7,105.3 227.9,105.4 228,105.6 228.2,105.4 228.4,105.6 228.5,105.4 228.7,105.6 228.9,105.5 229.1,105.6 229.2,105.5 229.4,105.4 229.6,105.6 229.7,105.7 229.9,105.5 230.1,105.6 230.3,105.6 230.4,105.7 230.6,105.5 230.8,105.5 231,105.5 231.1,105.6 231.3,105.7 231.5,105.7 231.6,105.6 231.8,105.6 232,105.7 232.2,105.5 232.3,105.5 232.5,105.7 232.7,105.6 232.8,105.7 233,105.5 233.2,105.6 233.4,105.5 233.5,105.4 233.7,105.5 233.9,105.5 234,105.6 234.2,105.6 234.4,105.6 234.6,105.5 234.7,105.6 234.9,105.6 235.1,105.7 235.3,105.5 235.4,105.6 235.6,105.6 235.8,105.6 235.9,105.7 236.1,105.5 236.3,105.7 236.5,105.5 236.6,105.5 236.8,105.6 237,105.6 237.1,105.5 237.3,105.5 237.5,105.7 237.7,105.6 237.8,105.5 238,105.6 238.2,105.6 238.3,105.5 238.5,105.5 238.7,105.7 238.9,105.5 239,105.6 239.2,105.7 239.4,105.5 239.5,105.6 239.7,105.5 239.9,105.6 240.1,105.6 240.2,105.6 240.4,105.5 240.6,105.5 240.8,105.6 240.9,105.6 241.1,105.7 241.3,105.5 241.4,105.6 241.6,105.4 241.8,105.4 242,105.6 242.1,105.5 242.3,105.5 242.5,105.4 242.6,105.4 242.8,105.3 243,105.2 243.2,105.2 243.3,105.2 243.5,105 243.7,105.2 243.8,105.1 244,105.3 244.2,105.3 244.4,105.4 244.5,105.4 244.7,105.5 244.9,105.4 245.1,105.5 245.2,105.6 245.4,105.4 245.6,105.5 245.7,105.6 245.9,105.6 246.1,105.6 246.3,105.6 246.4,105.6 246.6,105.5 246.8,105.6 246.9,105.7 247.1,105.6 247.3,105.7 247.5,105.5 247.6,105.6 247.8,105.7 248,105.7 248.1,105.6 248.3,105.5 248.5,105.6 248.7,105.5 248.8,105.7 249,105.7 249.2,105.7 249.3,105.5 249.5,105.7 249.7,105.5 249.9,105.7 250,105.6 250.2,105.5 250.4,105.7 250.6,105.6 250.7,105.7 250.9,105.6 251.1,105.6 251.2,105.7 251.4,105.5 251.6,105.7 251.8,105.5 251.9,105.5 252.1,105.5 252.3,105.5 252.4,105.5 252.6,105.6 252.8,105.5 253,105.5 253.1,105.5 253.3,105.5 253.5,105.7 253.6,105.7 253.8,105.7 254,105.7 254.2,105.6 254.3,105.7 254.5,105.5 254.7,105.7 254.9,105.7 255,105.6 255.2,105.5 255.4,105.4 255.5,105.7 255.7,105.6 255.9,105.6 256.1,105.6 256.2,105.4 256.4,105.6 256.6,105.5 256.7,105.6 256.9,105.4 257.1,105.3 257.3,105.5 257.4,105.2 257.6,105.3 257.8,105.2 257.9,105 258.1,105.2 258.3,105.2 258.5,105.2 258.6,105.3 258.8,105.5 259,105.4 259.1,105.5 259.3,105.5 259.5,105.4 259.7,105.6 259.8,105.6 260,105.6 260.2,105.5 260.4,105.5 260.5,105.5 260.7,105.6 260.9,105.6 261,105.5 261.2,105.6 261.4,105.5 261.6,105.7 261.7,105.6 261.9,105.6 262.1,105.6 262.2,105.5 262.4,105.6 262.6,105.5 262.8,105.7 262.9,105.4 263.1,105.5 263.3,105.6 263.4,105.5 263.6,105.5 263.8,105.6 264,105.5 264.1,105.5 264.3,105.4 264.5,105.6 264.7,105.4 264.8,105.5 265,105.4 265.2,105.4 265.3,105.3 265.5,105.1 265.7,105.2 265.9,105 266,105.2 266.2,105.3 266.4,105.3 266.5,105.4 266.7,105.4 266.9,105.5 267.1,105.6 267.2,105.4 267.4,105.4 267.6,105.5 267.7,105.5 267.9,105.4 268.1,105.5 268.3,105.7 268.4,105.5 268.6,105.5 268.8,105.5 268.9,105.6 269.1,105.5 269.3,105.6 269.5,105.6 269.6,105.6 269.8,105.6 270,105.7 270.2,105.4 270.3,105.7 270.5,105.5 270.7,105.5 270.8,105.7 271,105.6 271.2,105.6 271.4,105.5 271.5,105.7 271.7,105.5" fill="none" stroke="#3550f4" stroke-width="1.25" stroke-linejoin="round"/>
<polyline points="31,137.2 31.2,137.1 31.3,137.2 31.5,137.2 31.7,137.1 31.9,137.1 32,137 32.2,137.1 32.4,137.1 32.5,136.9 32.7,136.9 32.9,136.9 33.1,136.6 33.2,136.7 33.4,136.6 33.6,136.3 33.8,136.2 33.9,136.1 34.1,136.1 34.3,136.1 34.4,136.3 34.6,136.3 34.8,136.5 35,136.6 35.1,136.7 35.3,136.9 35.5,137 35.6,136.8 35.8,136.9 36,136.9 36.2,137 36.3,137 36.5,137.2 36.7,137.2 36.8,137.3 37,137.1 37.2,137.1 37.4,137.3 37.5,137.2 37.7,137.3 37.9,137.2 38,137.2 38.2,137.1 38.4,137.4 38.6,137.2 38.7,137.2 38.9,137.2 39.1,137.3 39.3,137.3 39.4,137.2 39.6,137.2 39.8,137.2 39.9,137.4 40.1,137.2 40.3,137.3 40.5,137.3 40.6,137.3 40.8,137.3 41,137.2 41.1,137.3 41.3,137.4 41.5,137.2 41.7,137.2 41.8,137.4 42,137.4 42.2,137.1 42.3,137.3 42.5,137.3 42.7,137.4 42.9,137.3 43,137.2 43.2,137.2 43.4,137.3 43.6,137.3 43.7,137.2 43.9,137.3 44.1,137.3 44.2,137.3 44.4,137.1 44.6,137.3 44.8,137.2 44.9,137.3 45.1,137.2 45.3,137.2 45.4,137.3 45.6,137.2 45.8,137.4 46,137.2 46.1,137.3 46.3,137.4 46.5,137.2 46.6,137.3 46.8,137.2 47,137.4 47.2,137.2 47.3,137.3 47.5,137.2 47.7,137.2 47.8,137.3 48,137.3 48.2,137.3 48.4,137.2 48.5,137.3 48.7,137.2 48.9,137.4 49.1,137.3 49.2,137.3 49.4,137.2 49.6,137.4 49.7,137.2 49.9,137.3 50.1,137.4 50.3,137.3 50.4,137.4 50.6,137.2 50.8,137.2 50.9,137.2 51.1,137.3 51.3,137.4 51.5,137.2 51.6,137.3 51.8,137.4 52,137.2 52.1,137.2 52.3,137.3 52.5,137.3 52.7,137.4 52.8,137.4 53,137.2 53.2,137.3 53.4,137.3 53.5,137.2 53.7,137.3 53.9,137.4 54,137.2 54.2,137.3 54.4,137.3 54.6,137.2 54.7,137.4 54.9,137.2 55.1,137.2 55.2,137.3 55.4,137.1 55.6,137.2 55.8,137.2 55.9,137.3 56.1,137.1 56.3,137.2 56.4,137.2 56.6,137.2 56.8,137.2 57,137.2 57.1,137.3 57.3,137.2 57.5,137.4 57.6,137.3 57.8,137.2 58,137.2 58.2,137.4 58.3,137.2 58.5,137.3 58.7,137.2 58.9,137.4 59,137.3 59.2,137.3 59.4,137.4 59.5,137.2 59.7,137.2 59.9,137.3 60.1,137.3 60.2,137.3 60.4,137.2 60.6,137.3 60.7,137.2 60.9,137.3 61.1,137.2 61.3,137.3 61.4,137.2 61.6,137.2 61.8,137.3 61.9,137.2 62.1,137.4 62.3,137.3 62.5,137.2 62.6,137.2 62.8,137.3 63,137.3 63.2,137.3 63.3,137.2 63.5,137.2 63.7,137.4 63.8,137.2 64,137.4 64.2,137.4 64.4,137.4 64.5,137.4 64.7,137.2 64.9,137.4 65,137.3 65.2,137.2 65.4,137.4 65.6,137.3 65.7,137.4 65.9,137.3 66.1,137.1 66.2,137.4 66.4,137.2 66.6,137.2 66.8,137.3 66.9,137.2 67.1,137.2 67.3,137.3 67.4,137.1 67.6,137.3 67.8,137.1 68,137.2 68.1,137.3 68.3,137.3 68.5,137.1 68.7,137.1 68.8,137.4 69,137.2 69.2,137.2 69.3,137.2 69.5,137.3 69.7,137.3 69.9,137.2 70,137.2 70.2,137.2 70.4,137.2 70.5,137 70.7,137.2 70.9,137.2 71.1,137.1 71.2,137.2 71.4,137 71.6,137 71.7,136.8 71.9,136.9 72.1,136.8 72.3,136.9 72.4,136.9 72.6,136.9 72.8,136.8 73,137 73.1,137 73.3,137 73.5,137 73.6,137.2 73.8,137.2 74,137.2 74.2,137.2 74.3,137.1 74.5,137.1 74.7,137.2 74.8,137.1 75,137.1 75.2,137.1 75.4,137.1 75.5,137.3 75.7,137.1 75.9,137.3 76,137.1 76.2,137.3 76.4,137.1 76.6,137.1 76.7,137.2 76.9,137.1 77.1,137.2 77.2,137.2 77.4,137 77.6,137.3 77.8,137.1 77.9,137 78.1,137.3 78.3,137.1 78.5,137.1 78.6,137 78.8,137 79,137.2 79.1,137.1 79.3,137.1 79.5,137 79.7,137 79.8,137.2 80,137 80.2,137.2 80.3,137.1 80.5,136.9 80.7,137 80.9,136.8 81,136.9 81.2,136.9 81.4,136.8 81.5,136.7 81.7,136.7 81.9,136.4 82.1,136.3 82.2,136.1 82.4,135.9 82.6,135.5 82.8,135.3 82.9,134.8 83.1,134.4 83.3,133.8 83.4,133.4 83.6,133.4 83.8,133.5 84,133.8 84.1,134.3 84.3,134.9 84.5,135.2 84.6,135.5 84.8,135.9 85,136.2 85.2,136.4 85.3,136.5 85.5,136.6 85.7,136.8 85.8,136.8 86,136.8 86.2,136.8 86.4,137 86.5,136.9 86.7,136.9 86.9,137 87,137.1 87.2,137 87.4,137.1 87.6,137.2 87.7,137 87.9,137 88.1,137.1 88.3,137.1 88.4,137.2 88.6,137.3 88.8,137.1 88.9,137.2 89.1,137.2 89.3,137.1 89.5,137.3 89.6,137.1 89.8,137 90,137.1 90.1,137 90.3,137.2 90.5,137.1 90.7,137.3 90.8,137.1 91,137.3 91.2,137.3 91.3,137.2 91.5,137.1 91.7,137.1 91.9,137.2 92,137.1 92.2,137.2 92.4,137.2 92.6,137.1 92.7,137.2 92.9,137.3 93.1,137.1 93.2,137.1 93.4,137 93.6,137.1 93.8,137 93.9,137.1 94.1,137.3 94.3,137.2 94.4,137.3 94.6,137.3 94.8,137.2 95,137.2 95.1,137 95.3,137.1 95.5,137.1 95.6,137.2 95.8,137 96,137.1 96.2,137.1 96.3,137.1 96.5,137.1 96.7,137 96.8,137.2 97,137.2 97.2,137.1 97.4,137 97.5,137.1 97.7,137.2 97.9,137.2 98.1,137.1 98.2,136.9 98.4,137.1 98.6,137.1 98.7,137 98.9,137.1 99.1,137.1 99.3,137.1 99.4,136.9 99.6,137 99.8,136.9 99.9,136.9 100.1,137 100.3,136.9 100.5,136.8 100.6,136.9 100.8,136.9 101,136.8 101.1,136.9 101.3,136.7 101.5,136.8 101.7,136.5 101.8,136.6 102,136.6 102.2,136.6 102.4,136.6 102.5,136.4 102.7,136.3 102.9,136.2 103,136.1 103.2,136 103.4,135.9 103.6,135.5 103.7,135.4 103.9,135.4 104.1,134.9 104.2,134.8 104.4,134.2 104.6,133.9 104.8,133.4 104.9,132.6 105.1,131.8 105.3,130.8 105.4,129.9 105.6,128.7 105.8,127.6 106,126.7 106.1,126.3 106.3,126.5 106.5,127.1 106.6,127.9 106.8,128.3 107,128.6 107.2,128.4 107.3,127.5 107.5,125.9 107.7,123 107.9,119.2 108,115.2 108.2,113.5 108.4,115.4 108.5,119.9 108.7,124.3 108.9,127.8 109.1,129.9 109.2,131.7 109.4,132.7 109.6,133.6 109.7,134.3 109.9,134.6 110.1,135 110.3,135.2 110.4,135.5 110.6,135.7 110.8,136 110.9,136.1 111.1,136 111.3,136.3 111.5,136.3 111.6,136.3 111.8,136.5 112,136.5 112.2,136.4 112.3,136.6 112.5,136.6 112.7,136.4 112.8,136.3 113,136.5 113.2,136.4 113.4,136.2 113.5,136.3 113.7,136.2 113.9,136.2 114,136.3 114.2,136.4 114.4,136.3 114.6,136.6 114.7,136.7 114.9,136.6 115.1,136.8 115.2,136.8 115.4,136.9 115.6,136.9 115.8,136.8 115.9,136.9 116.1,137 116.3,136.9 116.4,137.1 116.6,137.1 116.8,137 117,137.1 117.1,137.1 117.3,137 117.5,137.2 117.7,137.2 117.8,137.1 118,137 118.2,137.1 118.3,137.2 118.5,137.1 118.7,137.2 118.9,137.1 119,137 119.2,137.1 119.4,137.3 119.5,137.1 119.7,137.1 119.9,137.2 120.1,137.1 120.2,137.2 120.4,137.1 120.6,137.1 120.7,137.2 120.9,137.3 121.1,137.2 121.3,137.2 121.4,137.1 121.6,137.2 121.8,137.1 122,137.3 122.1,137.3 122.3,137.3 122.5,137.2 122.6,137.3 122.8,137.1 123,137.2 123.2,137.2 123.3,137.2 123.5,137.3 123.7,137.1 123.8,137.2 124,137.2 124.2,137.3 124.4,137.3 124.5,137.2 124.7,137.2 124.9,137.3 125,137.3 125.2,137.2 125.4,137.2 125.6,137.3 125.7,137.1 125.9,137.1 126.1,137.1 126.2,137.2 126.4,137.3 126.6,137.1 126.8,137.2 126.9,137.3 127.1,137.2 127.3,137.2 127.5,137.3 127.6,137.3 127.8,137.2 128,137.1 128.1,137.2 128.3,137.2 128.5,137.3 128.7,137.2 128.8,137.1 129,137.2 129.2,137.1 129.3,137.1 129.5,137.1 129.7,137.2 129.9,137.2 130,137.2 130.2,137 130.4,137.1 130.5,136.8 130.7,137 130.9,136.8 131.1,136.8 131.2,136.6 131.4,136.6 131.6,136.2 131.8,136.4 131.9,136.3 132.1,136.1 132.3,136.3 132.4,136.2 132.6,136.5 132.8,136.5 133,136.6 133.1,136.6 133.3,136.9 133.5,136.9 133.6,136.8 133.8,137.1 134,136.9 134.2,137 134.3,137 134.5,137.1 134.7,137.2 134.8,137.3 135,137.2 135.2,137.1 135.4,137.1 135.5,137.1 135.7,137.2 135.9,137.2 136,137.2 136.2,137.3 136.4,137.2 136.6,137.2 136.7,137.2 136.9,137.1 137.1,137.3 137.3,137.2 137.4,137.2 137.6,137.2 137.8,137.2 137.9,137.2 138.1,137.2 138.3,137.2 138.5,137.4 138.6,137.3 138.8,137.2 139,137.1 139.1,137.1 139.3,137.2 139.5,137.3 139.7,137.4 139.8,137.2 140,137.3 140.2,137.2 140.3,137.3 140.5,137.3 140.7,137.1 140.9,137.1 141,137.3 141.2,137.3 141.4,137.2 141.6,137.4 141.7,137.3 141.9,137.2 142.1,137.1 142.2,137.3 142.4,137.3 142.6,137.2 142.8,137.1 142.9,137.2 143.1,137.1 143.3,137.3 143.4,137.3 143.6,137.2 143.8,137.2 144,137.2 144.1,137.1 144.3,137.1 144.5,137.3 144.6,137.2 144.8,137.3 145,137.2 145.2,137.3 145.3,137.2 145.5,137.3 145.7,137.2 145.8,137.2 146,137.1 146.2,137.3 146.4,137.3 146.5,137.2 146.7,137.2 146.9,137.1 147.1,137.1 147.2,137.1 147.4,137.3 147.6,137 147.7,137.1 147.9,137.2 148.1,137.2 148.3,137.2 148.4,137 148.6,137 148.8,137.1 148.9,136.9 149.1,137 149.3,136.9 149.5,136.9 149.6,136.8 149.8,136.8 150,136.8 150.1,136.6 150.3,136.7 150.5,136.4 150.7,136.7 150.8,136.5 151,136.7 151.2,136.7 151.3,136.9 151.5,136.8 151.7,136.8 151.9,137 152,136.9 152.2,137 152.4,136.9 152.6,136.8 152.7,136.9 152.9,136.8 153.1,136.8 153.2,136.6 153.4,136.6 153.6,136.7 153.8,136.6 153.9,136.5 154.1,136.3 154.3,136.2 154.4,135.9 154.6,135.5 154.8,135.2 155,134.7 155.1,134.1 155.3,133.2 155.5,132.4 155.6,131.7 155.8,131.3 156,131.7 156.2,132.5 156.3,133.3 156.5,134 156.7,134.8 156.9,135.1 157,135.7 157.2,135.8 157.4,136 157.5,136.3 157.7,136.5 157.9,136.5 158.1,136.8 158.2,136.9 158.4,136.7 158.6,136.9 158.7,137 158.9,137 159.1,136.9 159.3,137.1 159.4,137.2 159.6,136.9 159.8,137 159.9,137 160.1,137 160.3,137.1 160.5,137.2 160.6,137 160.8,137.2 161,137.1 161.1,137 161.3,137.3 161.5,137.1 161.7,137.1 161.8,137.1 162,137.1 162.2,137.1 162.4,137.1 162.5,137.1 162.7,137.2 162.9,137.2 163,137.1 163.2,137.2 163.4,137.3 163.6,137.3 163.7,137.2 163.9,137.3 164.1,137.3 164.2,137.2 164.4,137.2 164.6,137.2 164.8,137.1 164.9,137.3 165.1,137.2 165.3,137.1 165.4,137.3 165.6,137.3 165.8,137.1 166,137.3 166.1,137.1 166.3,137.2 166.5,137.3 166.7,137.2 166.8,137.2 167,137.2 167.2,137.1 167.3,137.2 167.5,137.2 167.7,137.3 167.9,137.1 168,137.2 168.2,137 168.4,137.1 168.5,137 168.7,137 168.9,137.1 169.1,136.9 169.2,137.1 169.4,136.8 169.6,136.9 169.7,136.9 169.9,136.7 170.1,136.6 170.3,136.6 170.4,136.5 170.6,136.5 170.8,136.2 170.9,136.2 171.1,136.4 171.3,136.3 171.5,136.6 171.6,136.7 171.8,136.6 172,136.8 172.2,137 172.3,136.8 172.5,137 172.7,137.1 172.8,137.1 173,137.1 173.2,137 173.4,137.2 173.5,137 173.7,137.2 173.9,137.2 174,137.1 174.2,137.2 174.4,137.1 174.6,137.2 174.7,137 174.9,137.3 175.1,137.1 175.2,137.3 175.4,137.2 175.6,137.3 175.8,137.1 175.9,137.2 176.1,137 176.3,137.2 176.5,137.1 176.6,137.3 176.8,137.2 177,137.1 177.1,137.3 177.3,137.3 177.5,137.3 177.7,137 177.8,137.2 178,137.2 178.2,137.1 178.3,136.9 178.5,137.2 178.7,137 178.9,137 179,137 179.2,136.8 179.4,136.6 179.5,136.8 179.7,136.5 179.9,136.4 180.1,136.4 180.2,136.6 180.4,136.5 180.6,136.4 180.7,136.5 180.9,136.8 181.1,136.8 181.3,136.9 181.4,136.8 181.6,136.9 181.8,137.1 182,136.9 182.1,137 182.3,137 182.5,137.2 182.6,137 182.8,137.2 183,137.2 183.2,137.2 183.3,137 183.5,137.2 183.7,137.2 183.8,137.2 184,137.1 184.2,137.2 184.4,137.2 184.5,137.1 184.7,137.3 184.9,137.1 185,137.1 185.2,137.1 185.4,137.1 185.6,137.2 185.7,137.2 185.9,137.2 186.1,137.1 186.3,137.1 186.4,137.3 186.6,137 186.8,137 186.9,137 187.1,137 187.3,137 187.5,137 187.6,136.9 187.8,137.1 188,137 188.1,137 188.3,137 188.5,136.9 188.7,136.9 188.8,136.7 189,136.7 189.2,136.5 189.3,136.5 189.5,136.4 189.7,136.3 189.9,136 190,135.9 190.2,136 190.4,136 190.5,136.1 190.7,135.9 190.9,136 191.1,136 191.2,136.1 191.4,136.1 191.6,136 191.8,135.9 191.9,135.7 192.1,135.5 192.3,135.4 192.4,135 192.6,134.7 192.8,134.3 193,133.9 193.1,133.7 193.3,133.6 193.5,133.6 193.6,133.9 193.8,134.3 194,134.7 194.2,135.1 194.3,135.4 194.5,135.7 194.7,135.9 194.8,136.1 195,136.4 195.2,136.3 195.4,136.4 195.5,136.7 195.7,136.7 195.9,136.7 196.1,136.8 196.2,136.8 196.4,136.8 196.6,136.8 196.7,137.1 196.9,137.1 197.1,137 197.3,137 197.4,137 197.6,137 197.8,137.2 197.9,137.2 198.1,137 198.3,137.1 198.5,137.2 198.6,137.2 198.8,137.1 199,137.1 199.1,137.1 199.3,137.3 199.5,137.3 199.7,137.3 199.8,137.1 200,137.2 200.2,137.3 200.3,137.3 200.5,137.2 200.7,137.1 200.9,137.1 201,137.3 201.2,137.1 201.4,137.3 201.6,137.3 201.7,137.2 201.9,137.3 202.1,137.4 202.2,137.3 202.4,137.1 202.6,137.3 202.8,137.2 202.9,137.2 203.1,137.4 203.3,137.3 203.4,137.1 203.6,137.2 203.8,137.2 204,137.3 204.1,137.2 204.3,137.2 204.5,137.3 204.6,137.2 204.8,137.3 205,137.2 205.2,137.4 205.3,137.4 205.5,137.2 205.7,137.3 205.9,137.2 206,137.2 206.2,137.3 206.4,137.3 206.5,137.2 206.7,137.1 206.9,137.2 207.1,137.3 207.2,137.2 207.4,137.2 207.6,137.3 207.7,137.4 207.9,137.3 208.1,137.2 208.3,137.3 208.4,137.2 208.6,137.4 208.8,137.2 208.9,137.2 209.1,137.3 209.3,137.4 209.5,137.2 209.6,137.2 209.8,137.2 210,137.2 210.1,137.2 210.3,137.2 210.5,137.3 210.7,137.3 210.8,137.3 211,137.2 211.2,137.4 211.4,137.4 211.5,137.3 211.7,137.4 211.9,137.2 212,137.4 212.2,137.3 212.4,137.3 212.6,137.2 212.7,137.2 212.9,137.2 213.1,137.4 213.2,137.2 213.4,137.3 213.6,137.3 213.8,137.3 213.9,137.2 214.1,137.2 214.3,137.2 214.4,137.3 214.6,137.3 214.8,137.1 215,137.3 215.1,137.3 215.3,137.2 215.5,137.2 215.7,137.2 215.8,137.4 216,137.3 216.2,137.2 216.3,137.2 216.5,137.2 216.7,137.2 216.9,137.2 217,137.4 217.2,137.4 217.4,137.3 217.5,137.4 217.7,137.3 217.9,137.2 218.1,137.2 218.2,137.2 218.4,137.2 218.6,137.3 218.7,137.4 218.9,137.3 219.1,137.3 219.3,137.2 219.4,137.4 219.6,137.4 219.8,137.2 219.9,137.2 220.1,137.4 220.3,137.2 220.5,137.4 220.6,137.2 220.8,137.3 221,137.2 221.2,137.4 221.3,137.2 221.5,137.2 221.7,137.2 221.8,137.4 222,137.4 222.2,137.3 222.4,137.3 222.5,137.2 222.7,137.2 222.9,137.2 223,137.4 223.2,137.1 223.4,137.3 223.6,137.2 223.7,137.2 223.9,137.2 224.1,137.4 224.2,137.2 224.4,137.2 224.6,137.3 224.8,137.3 224.9,137.2 225.1,137.1 225.3,137.3 225.5,137.1 225.6,137.1 225.8,137.1 226,137.2 226.1,137.2 226.3,137.2 226.5,137.2 226.7,137.3 226.8,137.1 227,137 227.2,137.2 227.3,136.9 227.5,136.9 227.7,136.8 227.9,136.9 228,136.9 228.2,136.6 228.4,136.6 228.5,136.7 228.7,136.6 228.9,136.5 229.1,136.7 229.2,136.8 229.4,136.8 229.6,136.8 229.7,137 229.9,136.9 230.1,136.9 230.3,137 230.4,137.1 230.6,137 230.8,137.1 231,137.2 231.1,137.2 231.3,137.2 231.5,137.3 231.6,137.1 231.8,137.2 232,137.4 232.2,137.3 232.3,137.4 232.5,137.3 232.7,137.3 232.8,137.3 233,137.3 233.2,137.2 233.4,137.2 233.5,137.2 233.7,137.4 233.9,137.2 234,137.2 234.2,137.3 234.4,137.2 234.6,137.3 234.7,137.4 234.9,137.4 235.1,137.4 235.3,137.2 235.4,137.2 235.6,137.4 235.8,137.3 235.9,137.2 236.1,137.2 236.3,137.2 236.5,137.4 236.6,137.3 236.8,137.4 237,137.2 237.1,137.2 237.3,137.3 237.5,137.4 237.7,137.4 237.8,137.2 238,137.3 238.2,137.3 238.3,137.4 238.5,137.4 238.7,137.3 238.9,137.2 239,137.2 239.2,137.4 239.4,137.4 239.5,137.2 239.7,137.2 239.9,137.2 240.1,137.4 240.2,137.2 240.4,137.4 240.6,137.3 240.8,137.3 240.9,137.3 241.1,137.3 241.3,137.3 241.4,137.2 241.6,137.4 241.8,137.2 242,137.2 242.1,137.3 242.3,137.3 242.5,137.4 242.6,137.3 242.8,137.4 243,137.2 243.2,137.2 243.3,137.2 243.5,137.4 243.7,137.2 243.8,137.3 244,137.4 244.2,137.2 244.4,137.3 244.5,137.4 244.7,137.4 244.9,137.3 245.1,137.3 245.2,137.2 245.4,137.4 245.6,137.4 245.7,137.3 245.9,137.2 246.1,137.4 246.3,137.3 246.4,137.4 246.6,137.3 246.8,137.4 246.9,137.3 247.1,137.3 247.3,137.3 247.5,137.4 247.6,137.3 247.8,137.4 248,137.2 248.1,137.4 248.3,137.3 248.5,137.3 248.7,137.4 248.8,137.2 249,137.2 249.2,137.3 249.3,137.4 249.5,137.3 249.7,137.4 249.9,137.3 250,137.2 250.2,137.2 250.4,137.2 250.6,137.3 250.7,137.2 250.9,137.2 251.1,137.3 251.2,137.2 251.4,137.4 251.6,137.4 251.8,137.3 251.9,137.3 252.1,137.2 252.3,137.3 252.4,137.2 252.6,137.4 252.8,137.4 253,137.3 253.1,137.4 253.3,137.2 253.5,137.2 253.6,137.2 253.8,137.2 254,137.3 254.2,137.4 254.3,137.4 254.5,137.4 254.7,137.2 254.9,137.2 255,137.1 255.2,137.2 255.4,137.1 255.5,137.3 255.7,137.2 255.9,137.3 256.1,137.3 256.2,137.3 256.4,137.2 256.6,137.3 256.7,137.3 256.9,137.3 257.1,137.2 257.3,137.2 257.4,137.2 257.6,137.1 257.8,137.2 257.9,137.2 258.1,137.1 258.3,137.3 258.5,137.3 258.6,137.2 258.8,137.2 259,137.1 259.1,137 259.3,136.9 259.5,137 259.7,137 259.8,136.7 260,136.6 260.2,136.6 260.4,136.5 260.5,136.5 260.7,136.4 260.9,136.6 261,136.5 261.2,136.8 261.4,136.7 261.6,136.8 261.7,136.8 261.9,137.1 262.1,137 262.2,137.1 262.4,137 262.6,137.1 262.8,137.2 262.9,137.3 263.1,137.3 263.3,137.1 263.4,137.2 263.6,137.3 263.8,137.2 264,137.4 264.1,137.2 264.3,137.1 264.5,137.4 264.7,137.2 264.8,137.3 265,137.2 265.2,137.3 265.3,137.4 265.5,137.4 265.7,137.4 265.9,137.2 266,137.4 266.2,137.1 266.4,137.2 266.5,137.4 266.7,137.2 266.9,137.2 267.1,137.3 267.2,137.2 267.4,137.3 267.6,137.3 267.7,137.2 267.9,137.4 268.1,137.2 268.3,137.3 268.4,137.2 268.6,137.2 268.8,137.2 268.9,137.4 269.1,137.4 269.3,137.3 269.5,137.4 269.6,137.4 269.8,137.4 270,137.3 270.2,137.2 270.3,137.3 270.5,137.4 270.7,137.4 270.8,137.3 271,137.4 271.2,137.3 271.4,137.3 271.5,137.4 271.7,137.2" fill="none" stroke="#f53cf0" stroke-width="1.5" stroke-linejoin="round"/>
<line x1="75.53" y1="156.2" x2="75.53" y2="143.3" stroke="#2a2a2a" stroke-width="1.38"/>
<line x1="76.56" y1="156.2" x2="76.56" y2="143.3" stroke="#2a2a2a" stroke-width="1.38"/>
<line x1="77.59" y1="156.2" x2="77.59" y2="143.3" stroke="#2a2a2a" stroke-width="1.38"/>
<line x1="80.17" y1="156.2" x2="80.17" y2="143" stroke="#2a2a2a" stroke-width="1.265"/>
<line x1="88.08" y1="156.2" x2="88.08" y2="152.5" stroke="#2a2a2a" stroke-width="1.035"/>
<line x1="95.99" y1="156.2" x2="95.99" y2="152.2" stroke="#2a2a2a" stroke-width="1.035"/>
<line x1="111.12" y1="156.2" x2="111.12" y2="148.1" stroke="#2a2a2a" stroke-width="1.035"/>
<line x1="113.87" y1="156.2" x2="113.87" y2="145.3" stroke="#2a2a2a" stroke-width="1.15"/>
<line x1="140" y1="156.2" x2="140" y2="153.5" stroke="#2a2a2a" stroke-width="1.035"/>
<line x1="159.26" y1="156.2" x2="159.26" y2="152.2" stroke="#2a2a2a" stroke-width="1.035"/>
<line x1="162.7" y1="156.2" x2="162.7" y2="152.2" stroke="#2a2a2a" stroke-width="1.035"/>
<line x1="168.2" y1="156.2" x2="168.2" y2="152.2" stroke="#2a2a2a" stroke-width="1.035"/>
<line x1="34.09" y1="186.6" x2="34.09" y2="181.3" stroke="#2a2a2a" stroke-width="1.035"/>
<line x1="71.92" y1="186.6" x2="71.92" y2="180.6" stroke="#2a2a2a" stroke-width="1.035"/>
<line x1="83.27" y1="186.6" x2="83.27" y2="180.4" stroke="#2a2a2a" stroke-width="1.035"/>
<line x1="105.62" y1="186.6" x2="105.62" y2="166.8" stroke="#2a2a2a" stroke-width="1.38"/>
<line x1="107.34" y1="186.6" x2="107.34" y2="166.8" stroke="#2a2a2a" stroke-width="1.38"/>
<line x1="132.09" y1="186.6" x2="132.09" y2="181.2" stroke="#2a2a2a" stroke-width="1.035"/>
<line x1="155.48" y1="186.6" x2="155.48" y2="181.6" stroke="#2a2a2a" stroke-width="1.035"/>
<line x1="170.95" y1="186.6" x2="170.95" y2="181.2" stroke="#2a2a2a" stroke-width="1.035"/>
<line x1="189.52" y1="186.6" x2="189.52" y2="181.2" stroke="#2a2a2a" stroke-width="1.035"/>
<line x1="192.96" y1="186.6" x2="192.96" y2="181.2" stroke="#2a2a2a" stroke-width="1.035"/>
<line x1="260.35" y1="186.6" x2="260.35" y2="183" stroke="#2a2a2a" stroke-width="1.035"/>
<line x1="30.9" y1="156.2" x2="271.7" y2="156.2" stroke="#161616" stroke-width="1.3"/>
<rect x="30.9" y="5.1" width="240.8" height="181.5" fill="none" stroke="#161616" stroke-width="1.35"/>
<path d="M31 186.6V190.9 M48.19 186.6V188.8 M65.39 186.6V190.9 M82.58 186.6V188.8 M99.77 186.6V190.9 M116.96 186.6V188.8 M134.16 186.6V190.9 M151.35 186.6V188.8 M168.54 186.6V190.9 M185.74 186.6V188.8 M202.93 186.6V190.9 M220.12 186.6V188.8 M237.31 186.6V190.9 M254.51 186.6V188.8 M271.7 186.6V190.9" stroke="#161616" stroke-width="1.3" fill="none"/>
<text x="31" y="202" font-size="10" text-anchor="middle" fill="#1a1a1a">10</text>
<text x="65.39" y="202" font-size="10" text-anchor="middle" fill="#1a1a1a">20</text>
<text x="99.77" y="202" font-size="10" text-anchor="middle" fill="#1a1a1a">30</text>
<text x="134.16" y="202" font-size="10" text-anchor="middle" fill="#1a1a1a">40</text>
<text x="168.54" y="202" font-size="10" text-anchor="middle" fill="#1a1a1a">50</text>
<text x="202.93" y="202" font-size="10" text-anchor="middle" fill="#1a1a1a">60</text>
<text x="237.31" y="202" font-size="10" text-anchor="middle" fill="#1a1a1a">70</text>
<text x="271.7" y="202" font-size="10" text-anchor="middle" fill="#1a1a1a">80</text>
<text x="2.4" y="19.4" font-size="18.8" text-anchor="start" fill="#1a1a1a" stroke="#1a1a1a" stroke-width="0.22">(a)</text>
<text x="17.4" y="95.6" font-size="14.7" text-anchor="middle" fill="#1a1a1a" transform="rotate(-90 17.4 95.6)" stroke="#1a1a1a" stroke-width="0.22">Intensity (a.u.)</text>
<text x="157.7" y="219" font-size="14.7" text-anchor="middle" fill="#1a1a1a" stroke="#1a1a1a" stroke-width="0.22">2&#952; (degree)</text>
<text x="266" y="24.2" font-size="9.8" text-anchor="end" fill="#1a1a1a" stroke="#1a1a1a" stroke-width="0.22">10WO<tspan font-size="7.06" dy="2.74">3</tspan><tspan dy="-2.74">/BiOBr</tspan></text>
<text x="266" y="46.8" font-size="9.8" text-anchor="end" fill="#1a1a1a" stroke="#1a1a1a" stroke-width="0.22">5WO<tspan font-size="7.06" dy="2.74">3</tspan><tspan dy="-2.74">/BiOBr</tspan></text>
<text x="266" y="67.7" font-size="9.8" text-anchor="end" fill="#1a1a1a" stroke="#1a1a1a" stroke-width="0.22">3WO<tspan font-size="7.06" dy="2.74">3</tspan><tspan dy="-2.74">/BiOBr</tspan></text>
<text x="266" y="97.8" font-size="9.8" text-anchor="end" fill="#1a1a1a" stroke="#1a1a1a" stroke-width="0.22">WO<tspan font-size="7.06" dy="2.74">3</tspan><tspan dy="-2.74"></tspan></text>
<text x="266" y="127.4" font-size="9.8" text-anchor="end" fill="#1a1a1a" stroke="#1a1a1a" stroke-width="0.22">BiOBr</text>
<text x="265.3" y="149.4" font-size="9.6" text-anchor="end" fill="#1a1a1a" stroke="#1a1a1a" stroke-width="0.22">WO<tspan font-size="6.91" dy="2.69">3</tspan><tspan dy="-2.69"> PDF#20&#8211;1323</tspan></text>
<text x="265.3" y="178.3" font-size="9.6" text-anchor="end" fill="#1a1a1a" stroke="#1a1a1a" stroke-width="0.22">BiOBr PDF#09&#8211;0393</text>
<text x="54.6" y="93" font-size="9.6" text-anchor="middle" fill="#1a1a1a" transform="rotate(-90 54.6 93)" stroke="#1a1a1a" stroke-width="0.22">(002)</text>
<text x="71.7" y="86.7" font-size="9.6" text-anchor="middle" fill="#1a1a1a" transform="rotate(-90 71.7 86.7)" stroke="#1a1a1a" stroke-width="0.22">(020)</text>
<text x="92.4" y="85.9" font-size="9.6" text-anchor="middle" fill="#1a1a1a" transform="rotate(-90 92.4 85.9)" stroke="#1a1a1a" stroke-width="0.22">(200)</text>
<text x="102.5" y="86.8" font-size="9.6" text-anchor="middle" fill="#1a1a1a" transform="rotate(-90 102.5 86.8)" stroke="#1a1a1a" stroke-width="0.22">(120)</text>
<text x="112.9" y="86.8" font-size="9.6" text-anchor="middle" fill="#1a1a1a" transform="rotate(-90 112.9 86.8)" stroke="#1a1a1a" stroke-width="0.22">(022)</text>
<text x="124.9" y="91.3" font-size="9.6" text-anchor="middle" fill="#1a1a1a" transform="rotate(-90 124.9 91.3)" stroke="#1a1a1a" stroke-width="0.22">(220)</text>
<text x="43.8" y="121.8" font-size="9.6" text-anchor="middle" fill="#1a1a1a" transform="rotate(-90 43.8 121.8)" stroke="#1a1a1a" stroke-width="0.22">(001)</text>
<text x="81" y="120.2" font-size="9.6" text-anchor="middle" fill="#1a1a1a" transform="rotate(-90 81 120.2)" stroke="#1a1a1a" stroke-width="0.22">(101)</text>
<text x="97.4" y="119.9" font-size="9.6" text-anchor="middle" fill="#1a1a1a" transform="rotate(-90 97.4 119.9)" stroke="#1a1a1a" stroke-width="0.22">(102)</text>
<text x="120.2" y="121.5" font-size="9.6" text-anchor="middle" fill="#1a1a1a" transform="rotate(-90 120.2 121.5)" stroke="#1a1a1a" stroke-width="0.22">(110)</text>
<text x="159.6" y="119.3" font-size="9.6" text-anchor="middle" fill="#1a1a1a" transform="rotate(-90 159.6 119.3)" stroke="#1a1a1a" stroke-width="0.22">(200)</text>
<text x="197.2" y="119.4" font-size="9.6" text-anchor="middle" fill="#1a1a1a" transform="rotate(-90 197.2 119.4)" stroke="#1a1a1a" stroke-width="0.22">(212)</text>
<line x1="73.9" y1="100.2" x2="63.4" y2="100.2" stroke="#111" stroke-width="1.7"/>
<polygon points="58.2,100.2 63.4,97.8 63.4,102.6" fill="#111"/>
<line x1="73.5" y1="98.0" x2="73.5" y2="101.8" stroke="#111" stroke-width="1.1"/>
<line x1="78.6" y1="90.6" x2="76.47" y2="85.05" stroke="#111" stroke-width="1.3"/>
<polygon points="74.6,80.2 78.7,84.2 74.2,85.9" fill="#111"/>
<line x1="88.5" y1="102.8" x2="91.44" y2="99.99" stroke="#111" stroke-width="1.3"/>
<polygon points="95.2,96.4 93.1,101.7 89.8,98.3" fill="#111"/>
<line x1="98.2" y1="121.2" x2="100.41" y2="122.61" stroke="#111" stroke-width="1.3"/>
<polygon points="104.8,125.4 99.1,124.6 101.7,120.6" fill="#111"/>
<line x1="342.9" y1="40.8" x2="342.9" y2="182" stroke="#1a1a1a" stroke-width="1.6" stroke-dasharray="6.2,4.4" fill="none"/>
<line x1="461.6" y1="33.7" x2="461.6" y2="186" stroke="#1a1a1a" stroke-width="1.6" stroke-dasharray="6.2,4.4" fill="none"/>
<line x1="537.3" y1="29.8" x2="537.3" y2="172.4" stroke="#1a1a1a" stroke-width="1.6" stroke-dasharray="6.2,4.4" fill="none"/>
<rect x="472.8" y="37.3" width="22.0" height="137.4" stroke="#1a1a1a" stroke-width="1.6" stroke-dasharray="6.2,4.4" fill="none"/>
<polyline points="305,39.2 305.5,39.3 306,39.3 306.5,39.4 307,39.4 307.5,39.2 308,39.2 308.5,39.5 309,39.3 309.5,39.3 310,39.6 310.5,39.4 311,39.6 311.5,39.5 312,39.5 312.5,39.4 313,39.6 313.5,39.7 314,39.6 314.5,39.7 315,39.7 315.5,39.5 316,39.7 316.5,39.7 317,39.6 317.5,39.6 318,39.9 318.5,39.8 319,39.9 319.5,39.9 320,39.9 320.5,40 321,39.9 321.5,40.1 322,40 322.5,40.2 323,40.2 323.5,40 324,40 324.5,40.1 325,40.4 325.5,40.3 326,40.4 326.5,40.4 327,40.5 327.5,40.7 328,40.9 328.5,41.2 329,41.5 329.5,42 330,42.3 330.5,42.7 331,43.1 331.5,43.5 332,43.8 332.5,44 333,44.7 333.5,45.2 334,45.7 334.5,46 335,46.5 335.5,46.8 336,47.4 336.5,47.7 337,47.9 337.5,48.2 338,48.8 338.5,49.2 339,49.2 339.5,49.7 340,49.8 340.5,49.9 341,50 341.5,50.3 342,50.4 342.5,50.2 343,50.4 343.5,50.3 344,50.4 344.5,50.2 345,50.1 345.5,49.9 346,49.5 346.5,49.4 347,48.9 347.5,48.7 348,48.6 348.5,48.2 349,48 349.5,47.9 350,47.7 350.5,47.4 351,47.2 351.5,47.3 352,47 352.5,47.1 353,47 353.5,46.7 354,46.7 354.5,46.6 355,46.5 355.5,46.4 356,46.4 356.5,46.3 357,46.3 357.5,46.1 358,46 358.5,46 359,45.8 359.5,45.8 360,45.9 360.5,45.7 361,45.6 361.5,45.4 362,45.4 362.5,45.4 363,45.1 363.5,45.2 364,45.1 364.5,44.9 365,45 365.5,44.9 366,44.9 366.5,44.7 367,44.7 367.5,44.6 368,44.3 368.5,44.3 369,44.5 369.5,44.6 370,44.5 370.5,44.7 371,45 371.5,45.1 372,45.3 372.5,45.4 373,45.6 373.5,45.8 374,45.8 374.5,45.9 375,46.1 375.5,45.8 376,45.9 376.5,45.8 377,45.6 377.5,45.4 378,45.5 378.5,45.2 379,45.2 379.5,45.2 380,45.2 380.5,44.9 381,44.9 381.5,44.9 382,45 382.5,44.9 383,45 383.5,44.7 384,44.8 384.5,44.8 385,44.9 385.5,44.8 386,44.7 386.5,44.6 387,44.7 387.5,44.6 388,44.8 388.5,44.8 389,44.6 389.5,44.6 390,44.7 390.5,44.7 391,44.7 391.5,44.6 392,44.5 392.5,44.5 393,44.7 393.5,44.5 394,44.5 394.5,44.6 395,44.5 395.5,44.5 396,44.7 396.5,44.4 397,44.4 397.5,44.7 398,44.6 398.5,44.7 399,44.5 399.5,44.6 400,44.6 400.5,44.4 401,44.6 401.5,44.6 402,44.5 402.5,44.5 403,44.4 403.5,44.4 404,44.4 404.5,44.3 405,44.5 405.5,44.4 406,44.5 406.5,44.3 407,44.5 407.5,44.5 408,44.5 408.5,44.5 409,44.5 409.5,44.4 410,44.3 410.5,44.5 411,44.3 411.5,44.3 412,44.4 412.5,44.4 413,44.4 413.5,44.5 414,44.4 414.5,44.3 415,44.3 415.5,44.5 416,44.3 416.5,44.4 417,44.3 417.5,44.2 418,44.3 418.5,44.4 419,44.2 419.5,44.4 420,44.4 420.5,44.4 421,44.4 421.5,44.1 422,44.3 422.5,44.4 423,44.1 423.5,44.2 424,44.2 424.5,44.2 425,44.2 425.5,44.2 426,44.3 426.5,44 427,44 427.5,44 428,44 428.5,44 429,44.3 429.5,44.2 430,44 430.5,44.1 431,44 431.5,44 432,44 432.5,44.1 433,44 433.5,44 434,43.9 434.5,43.9 435,43.8 435.5,44 436,44 436.5,43.9 437,43.8 437.5,43.8 438,43.8 438.5,43.9 439,43.9 439.5,43.8 440,43.9 440.5,43.8 441,43.7 441.5,43.7 442,43.7 442.5,43.8 443,43.7 443.5,43.7 444,43.6 444.5,43.5 445,43.6 445.5,43.6 446,43.4 446.5,43.5 447,43.4 447.5,43.6 448,43.5 448.5,43.4 449,43.5 449.5,43.4 450,43.2 450.5,43.3 451,43.2 451.5,43.4 452,43.3 452.5,43.3 453,43.3 453.5,43.3 454,43.3 454.5,43.2 455,43.1 455.5,43.2 456,43.1 456.5,43.3 457,43.6 457.5,43.5 458,43.7 458.5,44 459,45.1 459.5,46.6 460,48.4 460.5,50.7 461,52.7 461.5,54.2 462,53.6 462.5,52.2 463,50.6 463.5,49.1 464,47.7 464.5,46.6 465,46.3 465.5,45.7 466,45.4 466.5,44.9 467,44.8 467.5,44.7 468,44.3 468.5,44.2 469,44.2 469.5,44.1 470,43.9 470.5,43.8 471,43.7 471.5,43.8 472,43.8 472.5,43.7 473,43.8 473.5,44.1 474,44.3 474.5,44.6 475,44.7 475.5,45.1 476,45.5 476.5,45.5 477,45.5 477.5,45.1 478,44.9 478.5,44.5 479,44.3 479.5,44 480,43.8 480.5,43.7 481,43.6 481.5,43.2 482,43.1 482.5,43.3 483,43.4 483.5,43.4 484,43.7 484.5,44.1 485,44.4 485.5,45 486,45.4 486.5,45.3 487,44.7 487.5,44 488,43.7 488.5,43.4 489,42.9 489.5,42.8 490,42.5 490.5,42.5 491,42.2 491.5,42 492,41.9 492.5,41.7 493,41.7 493.5,41.6 494,41.5 494.5,41.5 495,41.4 495.5,41.5 496,41.2 496.5,41.4 497,41.2 497.5,41.2 498,41.2 498.5,41.2 499,41.2 499.5,41.1 500,41 500.5,41 501,41 501.5,40.9 502,40.9 502.5,41 503,40.8 503.5,40.7 504,40.7 504.5,40.8 505,40.8 505.5,40.8 506,40.8 506.5,40.5 507,40.5 507.5,40.5 508,40.4 508.5,40.6 509,40.6 509.5,40.6 510,40.4 510.5,40.5 511,40.3 511.5,40.3 512,40.4 512.5,40.2 513,40.2 513.5,40.4 514,40.2 514.5,40.2 515,40.2 515.5,40.2 516,40 516.5,40.1 517,40.1 517.5,40.1 518,40 518.5,40.1 519,40.2 519.5,40 520,40 520.5,39.9 521,39.9 521.5,40 522,39.8 522.5,40 523,40 523.5,39.7 524,39.9 524.5,39.7 525,39.8 525.5,39.8 526,39.6 526.5,39.6 527,39.6 527.5,39.6 528,39.4 528.5,39.5 529,39.5 529.5,39.4 530,39.3 530.5,39.2 531,39.3 531.5,39.3 532,39.5 532.5,39.7 533,39.9 533.5,40.1 534,40.6 534.5,40.9 535,41.2 535.5,41.8 536,42.5 536.5,43.2 537,43.8 537.5,43.3 538,42.7 538.5,42.1 539,41.3 539.5,40.7 540,40.4 540.5,40 541,39.7 541.5,39.4 542,39.3 542.5,39.4 543,39.3 543.5,39.2 544,39.2 544.5,39 545,38.9 545.5,38.9" fill="none" stroke="#c062e6" stroke-width="1.5" stroke-linejoin="round"/>
<polyline points="305,69.1 305.5,69 306,69.2 306.5,69.2 307,69.5 307.5,69.5 308,69.6 308.5,69.7 309,69.8 309.5,70 310,69.9 310.5,70.1 311,69.9 311.5,69.9 312,69.8 312.5,69.8 313,70 313.5,69.9 314,69.7 314.5,69.7 315,69.7 315.5,69.8 316,69.7 316.5,69.7 317,69.6 317.5,69.4 318,69.5 318.5,69.3 319,69.4 319.5,69.4 320,69.2 320.5,69.2 321,69.4 321.5,69.4 322,70.2 322.5,70.5 323,70.4 323.5,70 324,69.9 324.5,69.9 325,70 325.5,70.1 326,70 326.5,69.9 327,70.1 327.5,70.2 328,70.6 328.5,71.1 329,71.4 329.5,72.1 330,72.6 330.5,73.2 331,73.9 331.5,74.5 332,75.1 332.5,76 333,76.7 333.5,77.7 334,78.6 334.5,79.4 335,80.2 335.5,81 336,81.7 336.5,82.1 337,82.9 337.5,83.4 338,83.7 338.5,84.3 339,84.7 339.5,85.1 340,85.7 340.5,86.2 341,86.5 341.5,87 342,87.2 342.5,87.3 343,87.7 343.5,87.7 344,87.9 344.5,87.9 345,88 345.5,87.8 346,87.8 346.5,87.7 347,87.5 347.5,87.1 348,87 348.5,86.7 349,86.4 349.5,86.2 350,86.1 350.5,85.9 351,85.7 351.5,85.6 352,85.5 352.5,85.2 353,85 353.5,84.9 354,84.6 354.5,84.5 355,84.4 355.5,84.1 356,83.9 356.5,83.9 357,83.7 357.5,83.5 358,83.3 358.5,83.2 359,83.1 359.5,82.8 360,82.6 360.5,82.5 361,82.5 361.5,82.1 362,82 362.5,81.8 363,81.6 363.5,81.4 364,81.3 364.5,81 365,80.7 365.5,80.5 366,80.4 366.5,80.2 367,79.9 367.5,79.7 368,79.6 368.5,79.3 369,79.2 369.5,78.7 370,78.6 370.5,78.4 371,78.2 371.5,78.5 372,78.5 372.5,78.8 373,79.2 373.5,79.4 374,79.8 374.5,79.9 375,80 375.5,80.1 376,80.2 376.5,79.9 377,79.9 377.5,79.6 378,79.5 378.5,79.2 379,79.1 379.5,79 380,79 380.5,78.8 381,78.5 381.5,78.1 382,77.9 382.5,77.7 383,77.2 383.5,76.7 384,76.5 384.5,76.4 385,76.3 385.5,76.2 386,76.1 386.5,76.2 387,76.2 387.5,75.9 388,76.1 388.5,75.9 389,75.9 389.5,75.9 390,75.9 390.5,75.5 391,75.6 391.5,75.6 392,75.7 392.5,75.4 393,75.4 393.5,75.6 394,75.3 394.5,75.4 395,75.3 395.5,75.4 396,75.4 396.5,75.2 397,75.3 397.5,75.3 398,75.3 398.5,75.2 399,75.3 399.5,75.1 400,75.1 400.5,75 401,75.2 401.5,75.1 402,75 402.5,75 403,75.1 403.5,75.1 404,75.1 404.5,75 405,75 405.5,74.8 406,75 406.5,74.8 407,74.9 407.5,74.9 408,74.9 408.5,74.7 409,74.7 409.5,74.9 410,74.8 410.5,74.8 411,74.8 411.5,74.7 412,74.8 412.5,74.7 413,74.5 413.5,74.5 414,74.4 414.5,74.5 415,74.6 415.5,74.3 416,74.4 416.5,74.2 417,74.2 417.5,74.3 418,74.2 418.5,74.1 419,74.1 419.5,74.2 420,74.2 420.5,74 421,74 421.5,74.2 422,73.9 422.5,74 423,73.9 423.5,74 424,73.9 424.5,73.9 425,73.8 425.5,73.7 426,73.7 426.5,73.6 427,73.8 427.5,73.5 428,73.5 428.5,73.7 429,73.5 429.5,73.7 430,73.4 430.5,73.5 431,73.4 431.5,73.5 432,73.4 432.5,73.4 433,73.4 433.5,73.4 434,73.2 434.5,73.2 435,73.2 435.5,73 436,73.2 436.5,73.1 437,73.1 437.5,72.9 438,72.9 438.5,72.9 439,72.9 439.5,72.6 440,72.7 440.5,72.6 441,72.4 441.5,72.5 442,72.5 442.5,72.3 443,72.3 443.5,72.2 444,72 444.5,72 445,72.1 445.5,71.8 446,71.7 446.5,71.5 447,71.5 447.5,71.4 448,71.5 448.5,71.3 449,71.3 449.5,71.2 450,71 450.5,71 451,70.7 451.5,70.6 452,70.6 452.5,70.4 453,70.3 453.5,70 454,69.9 454.5,69.7 455,69.8 455.5,69.7 456,69.4 456.5,69.5 457,69.2 457.5,69.2 458,69.7 458.5,73.1 459,78.2 459.5,82.8 460,88.1 460.5,94.1 461,98.7 461.5,101.1 462,100.2 462.5,97.5 463,94 463.5,91.1 464,88.5 464.5,86 465,83.9 465.5,82.3 466,81.2 466.5,80.4 467,79.6 467.5,79 468,78.5 468.5,78.2 469,77.7 469.5,77.4 470,77.2 470.5,77 471,76.9 471.5,76.8 472,76.7 472.5,76.9 473,77.6 473.5,78.7 474,79.4 474.5,79.9 475,80.2 475.5,80.5 476,81 476.5,80.8 477,80.6 477.5,79.7 478,78.4 478.5,76.9 479,75.9 479.5,75.5 480,75.3 480.5,74.8 481,74.7 481.5,74.4 482,74.3 482.5,74 483,74.1 483.5,74.3 484,74.9 484.5,75.5 485,76.7 485.5,80 486,82.2 486.5,81.5 487,78.9 487.5,76.6 488,75.6 488.5,75.2 489,74.9 489.5,74.8 490,74.7 490.5,74.5 491,74.4 491.5,74.1 492,73.6 492.5,73.2 493,73.1 493.5,72.7 494,72.3 494.5,72 495,71.6 495.5,71.3 496,71 496.5,70.9 497,70.9 497.5,70.9 498,70.8 498.5,70.6 499,70.6 499.5,70.6 500,70.5 500.5,70.3 501,70.2 501.5,70.2 502,70 502.5,69.9 503,70 503.5,70.1 504,69.9 504.5,69.8 505,69.8 505.5,69.8 506,69.9 506.5,69.8 507,69.9 507.5,69.7 508,69.8 508.5,69.9 509,69.9 509.5,70 510,70.1 510.5,70.1 511,70.1 511.5,69.9 512,70.1 512.5,70.2 513,70.2 513.5,70.2 514,70.3 514.5,70.4 515,70.2 515.5,70.4 516,70.3 516.5,70.3 517,70.4 517.5,70.4 518,70.3 518.5,70.1 519,70.3 519.5,70.1 520,70.1 520.5,70.2 521,70 521.5,69.9 522,70.1 522.5,70.1 523,69.8 523.5,69.8 524,69.7 524.5,69.7 525,69.6 525.5,69.8 526,69.5 526.5,69.5 527,69.4 527.5,69.3 528,69.3 528.5,69.3 529,69.3 529.5,69.2 530,69.2 530.5,68.9 531,68.9 531.5,69.1 532,68.8 532.5,68.8 533,69 533.5,69.6 534,70.7 534.5,71.9 535,73.3 535.5,74.8 536,76.3 536.5,78.4 537,79.8 537.5,80.8 538,80.3 538.5,78.9 539,76.9 539.5,75.1 540,73.9 540.5,72.1 541,70.5 541.5,69.5 542,68.8 542.5,68.5 543,68.8 543.5,68.9 544,69 544.5,69.1 545,69.4 545.5,69.7" fill="none" stroke="#12a554" stroke-width="1.5" stroke-linejoin="round"/>
<polyline points="305,106.6 305.5,106.6 306,106.6 306.5,106.6 307,106.7 307.5,106.9 308,106.7 308.5,106.7 309,106.9 309.5,107 310,107 310.5,106.8 311,106.8 311.5,107 312,106.9 312.5,107 313,106.9 313.5,106.8 314,106.9 314.5,107.1 315,107.1 315.5,107 316,107 316.5,107.1 317,107 317.5,107.1 318,107.2 318.5,107 319,107.1 319.5,107.3 320,107.3 320.5,107.1 321,107.3 321.5,107.3 322,107.1 322.5,107.2 323,107.2 323.5,107.1 324,107.5 324.5,107.3 325,107.5 325.5,107.3 326,107.3 326.5,107.6 327,107.6 327.5,107.7 328,107.8 328.5,107.9 329,108.1 329.5,108.1 330,108.4 330.5,108.6 331,108.7 331.5,109.1 332,109.2 332.5,109.5 333,109.8 333.5,110.1 334,110.4 334.5,110.8 335,111.2 335.5,111.5 336,111.7 336.5,112 337,112.1 337.5,112.6 338,112.6 338.5,112.8 339,113.2 339.5,113.5 340,113.6 340.5,113.9 341,114.1 341.5,114.5 342,114.6 342.5,114.9 343,115.1 343.5,115.3 344,115.3 344.5,115.1 345,115 345.5,115 346,114.7 346.5,114.7 347,114.7 347.5,114.6 348,114.3 348.5,114.4 349,114.2 349.5,114.3 350,114 350.5,113.9 351,114 351.5,114 352,113.8 352.5,113.8 353,113.7 353.5,113.6 354,113.5 354.5,113.5 355,113.4 355.5,113.3 356,113.3 356.5,113.3 357,113.2 357.5,113 358,113 358.5,113 359,113 359.5,112.8 360,112.7 360.5,112.7 361,112.7 361.5,112.5 362,112.6 362.5,112.7 363,112.5 363.5,112.5 364,112.5 364.5,112.4 365,112.3 365.5,112.1 366,112.1 366.5,111.9 367,112 367.5,111.8 368,111.8 368.5,111.9 369,111.7 369.5,111.8 370,112.1 370.5,112.3 371,112.3 371.5,112.5 372,112.6 372.5,112.6 373,112.9 373.5,112.7 374,112.7 374.5,112.8 375,112.8 375.5,112.8 376,112.8 376.5,112.8 377,112.8 377.5,112.7 378,112.9 378.5,112.8 379,112.5 379.5,112.6 380,112.6 380.5,112.5 381,112.2 381.5,112.1 382,112.1 382.5,112 383,112.1 383.5,112 384,111.8 384.5,111.8 385,111.8 385.5,111.9 386,111.7 386.5,111.7 387,111.6 387.5,111.7 388,111.5 388.5,111.8 389,111.7 389.5,111.7 390,111.5 390.5,111.5 391,111.6 391.5,111.7 392,111.6 392.5,111.5 393,111.7 393.5,111.6 394,111.6 394.5,111.5 395,111.5 395.5,111.7 396,111.4 396.5,111.6 397,111.6 397.5,111.5 398,111.6 398.5,111.6 399,111.6 399.5,111.6 400,111.4 400.5,111.4 401,111.5 401.5,111.4 402,111.4 402.5,111.6 403,111.4 403.5,111.6 404,111.6 404.5,111.3 405,111.6 405.5,111.4 406,111.3 406.5,111.3 407,111.3 407.5,111.4 408,111.4 408.5,111.5 409,111.5 409.5,111.3 410,111.4 410.5,111.4 411,111.3 411.5,111.3 412,111.3 412.5,111.4 413,111.3 413.5,111.3 414,111.3 414.5,111.4 415,111.4 415.5,111.3 416,111.4 416.5,111.3 417,111.4 417.5,111.4 418,111.2 418.5,111.4 419,111.3 419.5,111.3 420,111.4 420.5,111.4 421,111.3 421.5,111.2 422,111.4 422.5,111.4 423,111.3 423.5,111.3 424,111.2 424.5,111.4 425,111.4 425.5,111.2 426,111.4 426.5,111.4 427,111.2 427.5,111.4 428,111.3 428.5,111.2 429,111.3 429.5,111.2 430,111.3 430.5,111.3 431,111.1 431.5,111.2 432,111.3 432.5,111.2 433,111.2 433.5,111.3 434,111.2 434.5,111.2 435,111.2 435.5,111.3 436,111.1 436.5,111 437,111.2 437.5,111.2 438,111.1 438.5,111.2 439,111.2 439.5,111.1 440,111.2 440.5,111.2 441,111.1 441.5,111 442,110.9 442.5,111 443,111 443.5,110.8 444,110.8 444.5,110.8 445,110.6 445.5,110.7 446,110.6 446.5,110.5 447,110.4 447.5,110.4 448,110.3 448.5,110.4 449,110.1 449.5,110.2 450,110 450.5,110.1 451,110.1 451.5,109.9 452,109.8 452.5,109.9 453,109.8 453.5,109.9 454,109.8 454.5,109.8 455,109.9 455.5,110.1 456,110.1 456.5,110 457,110.1 457.5,110.1 458,110.4 458.5,111.1 459,112.1 459.5,112.9 460,115 460.5,117.6 461,120.1 461.5,121.5 462,121.2 462.5,119.4 463,118 463.5,116.7 464,115.4 464.5,114.6 465,114.3 465.5,113.8 466,113.4 466.5,113.1 467,112.6 467.5,112.6 468,112.5 468.5,112.3 469,112.3 469.5,112.4 470,112.1 470.5,112.2 471,112 471.5,112.2 472,112 472.5,112.2 473,112.7 473.5,113.6 474,113.9 474.5,113.7 475,113.7 475.5,113.4 476,113.3 476.5,113 477,112.9 477.5,112.8 478,112.6 478.5,112.3 479,112.3 479.5,112.3 480,112.1 480.5,112.2 481,112.1 481.5,112.3 482,112.5 482.5,112.7 483,112.9 483.5,113.1 484,113.6 484.5,113.9 485,114.2 485.5,114.1 486,114 486.5,114 487,113.5 487.5,113 488,112.6 488.5,112.1 489,112 489.5,111.9 490,111.7 490.5,111.4 491,111.3 491.5,111.3 492,111.3 492.5,111 493,110.9 493.5,110.8 494,110.9 494.5,110.7 495,110.6 495.5,110.7 496,110.5 496.5,110.3 497,110.4 497.5,110.1 498,110.1 498.5,110.1 499,109.9 499.5,109.8 500,109.8 500.5,109.7 501,109.8 501.5,109.5 502,109.6 502.5,109.4 503,109.5 503.5,109.3 504,109.3 504.5,109.2 505,109.1 505.5,109.1 506,109.2 506.5,109 507,108.9 507.5,108.9 508,108.8 508.5,108.8 509,108.8 509.5,108.8 510,108.8 510.5,108.6 511,108.5 511.5,108.5 512,108.5 512.5,108.4 513,108.5 513.5,108.4 514,108.5 514.5,108.4 515,108.4 515.5,108.4 516,108.3 516.5,108.2 517,108.2 517.5,108.1 518,108.3 518.5,108.1 519,108 519.5,108.2 520,108.1 520.5,108.1 521,108 521.5,107.8 522,108.1 522.5,107.8 523,107.8 523.5,108 524,107.7 524.5,107.8 525,107.7 525.5,107.6 526,107.8 526.5,107.6 527,107.4 527.5,107.5 528,107.4 528.5,107.5 529,107.6 529.5,107.5 530,107.2 530.5,107.4 531,107.3 531.5,107.3 532,107.2 532.5,107.2 533,107.2 533.5,107.5 534,107.7 534.5,108.3 535,108.5 535.5,109.1 536,109.4 536.5,110.1 537,110.9 537.5,111.2 538,111.1 538.5,110.4 539,109.7 539.5,108.9 540,108.5 540.5,107.9 541,107.6 541.5,107.1 542,107 542.5,107.1 543,107.1 543.5,106.8 544,106.9 544.5,106.8 545,106.6 545.5,106.6" fill="none" stroke="#1566e4" stroke-width="1.5" stroke-linejoin="round"/>
<polyline points="305,131.5 305.5,131.4 306,131.5 306.5,131.6 307,131.5 307.5,131.6 308,131.6 308.5,131.6 309,131.7 309.5,131.8 310,131.9 310.5,131.8 311,131.7 311.5,131.8 312,131.7 312.5,131.8 313,131.9 313.5,131.9 314,131.9 314.5,131.9 315,131.9 315.5,131.9 316,132.1 316.5,132 317,132.2 317.5,132.2 318,132.1 318.5,132.2 319,132.1 319.5,132.4 320,132.4 320.5,132.3 321,132.5 321.5,132.4 322,132.4 322.5,132.4 323,132.5 323.5,132.7 324,132.7 324.5,132.8 325,132.7 325.5,132.9 326,132.9 326.5,132.9 327,133 327.5,133.1 328,133.1 328.5,133.3 329,133.5 329.5,133.6 330,133.8 330.5,133.7 331,134.1 331.5,134.2 332,134.3 332.5,134.6 333,134.6 333.5,135 334,135.3 334.5,135.3 335,135.7 335.5,136.1 336,136.1 336.5,136.5 337,136.8 337.5,136.9 338,137 338.5,137.3 339,137.7 339.5,137.8 340,138 340.5,138.3 341,138.6 341.5,138.6 342,138.8 342.5,139.2 343,139.2 343.5,139.3 344,139.4 344.5,139.1 345,138.9 345.5,139 346,138.6 346.5,138.4 347,138.5 347.5,138.1 348,138.1 348.5,137.8 349,137.6 349.5,137.5 350,137.5 350.5,137.4 351,137.2 351.5,137.1 352,136.9 352.5,137 353,136.9 353.5,136.8 354,136.7 354.5,136.4 355,136.4 355.5,136.3 356,136.2 356.5,136.4 357,136.3 357.5,136.2 358,136.1 358.5,135.9 359,135.9 359.5,135.8 360,136 360.5,135.7 361,135.7 361.5,135.9 362,135.6 362.5,135.8 363,135.5 363.5,135.6 364,135.4 364.5,135.6 365,135.4 365.5,135.3 366,135.4 366.5,135.3 367,135.2 367.5,135.1 368,135.2 368.5,135.1 369,135.3 369.5,135.2 370,135.1 370.5,135.2 371,135.1 371.5,135.2 372,135.3 372.5,135.3 373,135.3 373.5,135.3 374,135.4 374.5,135.5 375,135.4 375.5,135.5 376,135.5 376.5,135.4 377,135.4 377.5,135.6 378,135.5 378.5,135.5 379,135.5 379.5,135.6 380,135.4 380.5,135.4 381,135.4 381.5,135.3 382,135.5 382.5,135.4 383,135.4 383.5,135.4 384,135.4 384.5,135.5 385,135.3 385.5,135.5 386,135.3 386.5,135.5 387,135.3 387.5,135.5 388,135.3 388.5,135.3 389,135.4 389.5,135.5 390,135.5 390.5,135.5 391,135.6 391.5,135.3 392,135.4 392.5,135.3 393,135.5 393.5,135.4 394,135.5 394.5,135.5 395,135.6 395.5,135.5 396,135.6 396.5,135.5 397,135.3 397.5,135.6 398,135.4 398.5,135.4 399,135.6 399.5,135.4 400,135.6 400.5,135.4 401,135.4 401.5,135.6 402,135.4 402.5,135.5 403,135.7 403.5,135.5 404,135.6 404.5,135.6 405,135.6 405.5,135.6 406,135.6 406.5,135.4 407,135.5 407.5,135.6 408,135.7 408.5,135.5 409,135.6 409.5,135.5 410,135.7 410.5,135.6 411,135.6 411.5,135.7 412,135.5 412.5,135.7 413,135.7 413.5,135.7 414,135.5 414.5,135.5 415,135.5 415.5,135.7 416,135.6 416.5,135.6 417,135.6 417.5,135.7 418,135.6 418.5,135.6 419,135.7 419.5,135.7 420,135.6 420.5,135.5 421,135.8 421.5,135.7 422,135.7 422.5,135.6 423,135.8 423.5,135.6 424,135.6 424.5,135.5 425,135.6 425.5,135.7 426,135.6 426.5,135.8 427,135.7 427.5,135.7 428,135.7 428.5,135.7 429,135.7 429.5,135.7 430,135.7 430.5,135.7 431,135.8 431.5,135.6 432,135.8 432.5,135.6 433,135.8 433.5,135.6 434,135.7 434.5,135.7 435,135.8 435.5,135.6 436,135.6 436.5,135.6 437,135.7 437.5,135.7 438,135.5 438.5,135.6 439,135.6 439.5,135.8 440,135.7 440.5,135.7 441,135.6 441.5,135.7 442,135.8 442.5,135.8 443,135.5 443.5,135.7 444,135.7 444.5,135.6 445,135.8 445.5,135.6 446,135.6 446.5,135.7 447,135.7 447.5,135.7 448,135.8 448.5,135.7 449,135.6 449.5,135.5 450,135.7 450.5,135.6 451,135.7 451.5,135.6 452,135.5 452.5,135.5 453,135.5 453.5,135.5 454,135.7 454.5,135.6 455,135.5 455.5,135.7 456,135.6 456.5,135.5 457,135.7 457.5,135.5 458,135.7 458.5,135.5 459,135.7 459.5,135.8 460,136.1 460.5,136.2 461,136.2 461.5,136.1 462,136.1 462.5,136 463,135.6 463.5,135.7 464,135.5 464.5,135.4 465,135.2 465.5,135.1 466,135.1 466.5,134.8 467,134.7 467.5,134.5 468,134.5 468.5,134.5 469,134.2 469.5,134.4 470,134.2 470.5,134.2 471,134.1 471.5,134 472,133.9 472.5,133.6 473,133.6 473.5,133.5 474,133.4 474.5,133.4 475,133.4 475.5,133.2 476,133.2 476.5,133 477,132.8 477.5,132.7 478,132.7 478.5,132.6 479,132.4 479.5,132.3 480,132.3 480.5,132.1 481,132.3 481.5,131.9 482,132 482.5,131.9 483,131.7 483.5,131.8 484,131.6 484.5,131.7 485,131.6 485.5,131.5 486,131.5 486.5,131.4 487,131.2 487.5,131.3 488,131.3 488.5,131.4 489,131.3 489.5,131.2 490,131.1 490.5,131.3 491,131.3 491.5,131.5 492,131.5 492.5,131.7 493,131.7 493.5,131.7 494,132 494.5,132.1 495,132.1 495.5,132.3 496,132.4 496.5,132.7 497,132.9 497.5,133.1 498,133.5 498.5,133.8 499,134 499.5,134.2 500,134.5 500.5,134.9 501,135.3 501.5,135.5 502,135.7 502.5,136.1 503,136.3 503.5,136.5 504,136.9 504.5,137.1 505,137.4 505.5,137.7 506,138.1 506.5,138.3 507,138.8 507.5,139.5 508,140.2 508.5,141.1 509,142.3 509.5,143.1 510,144.4 510.5,145.4 511,146.7 511.5,147.8 512,149.2 512.5,150.1 513,151.2 513.5,152 514,153 514.5,153.7 515,154.3 515.5,154.8 516,155 516.5,155.3 517,155.4 517.5,155.7 518,155.6 518.5,155.3 519,154.7 519.5,154.3 520,153.6 520.5,153.2 521,152.7 521.5,152.1 522,151.6 522.5,151.2 523,150.6 523.5,150 524,149.6 524.5,148.9 525,148.6 525.5,148 526,147.5 526.5,147.4 527,146.7 527.5,146.4 528,146.2 528.5,145.6 529,145.4 529.5,145.1 530,144.7 530.5,144.3 531,144.1 531.5,143.7 532,143.3 532.5,142.9 533,142.5 533.5,142.1 534,141.9 534.5,141.5 535,140.9 535.5,140.5 536,140.1 536.5,139.9 537,139.3 537.5,138.8 538,138.5 538.5,137.7 539,137.3 539.5,136.5 540,136 540.5,135.3 541,134.6 541.5,134.2 542,133.5 542.5,133 543,132.4 543.5,132.1 544,131.7 544.5,131.2 545,131 545.5,130.5 546,130.2" fill="none" stroke="#f23434" stroke-width="1.5" stroke-linejoin="round"/>
<polyline points="305,161.8 305.5,161.9 306,162 306.5,161.9 307,161.8 307.5,161.8 308,161.9 308.5,161.8 309,162 309.5,161.8 310,162 310.5,161.9 311,162 311.5,161.9 312,161.8 312.5,161.8 313,161.9 313.5,161.8 314,161.8 314.5,162 315,162 315.5,162 316,162 316.5,161.9 317,162 317.5,162 318,161.9 318.5,161.9 319,161.8 319.5,161.8 320,161.8 320.5,161.9 321,161.8 321.5,162.1 322,162 322.5,162 323,162.1 323.5,161.9 324,162.1 324.5,162.1 325,161.9 325.5,161.9 326,162.1 326.5,162.1 327,162.1 327.5,162.1 328,162.3 328.5,162.4 329,162.8 329.5,163.2 330,163.6 330.5,163.8 331,164.4 331.5,164.5 332,165.1 332.5,165.2 333,165.8 333.5,166.2 334,166.6 334.5,166.9 335,167.3 335.5,167.6 336,168.2 336.5,168.3 337,169 337.5,169.3 338,169.6 338.5,170.2 339,170.4 339.5,170.7 340,171 340.5,171.2 341,171.5 341.5,171.9 342,172.2 342.5,172.3 343,172.5 343.5,172.5 344,172.4 344.5,172.3 345,172.1 345.5,171.9 346,171.8 346.5,171.6 347,171.5 347.5,171.2 348,171.1 348.5,170.9 349,170.8 349.5,170.6 350,170.5 350.5,170.5 351,170.2 351.5,170.3 352,170.2 352.5,169.9 353,170 353.5,169.8 354,169.8 354.5,169.5 355,169.5 355.5,169.4 356,169.1 356.5,169.1 357,168.9 357.5,168.8 358,168.7 358.5,168.7 359,168.5 359.5,168.4 360,168 360.5,168.1 361,167.9 361.5,167.9 362,167.5 362.5,167.4 363,167.5 363.5,167.2 364,167.1 364.5,166.9 365,166.7 365.5,166.5 366,166.4 366.5,166.4 367,166.1 367.5,166.1 368,165.8 368.5,165.9 369,165.8 369.5,165.9 370,166 370.5,165.9 371,166.3 371.5,166.3 372,166.3 372.5,166.5 373,166.5 373.5,166.5 374,166.7 374.5,166.6 375,166.6 375.5,166.3 376,166.2 376.5,166.3 377,166.2 377.5,166.2 378,166 378.5,166 379,165.8 379.5,165.6 380,165.6 380.5,165.3 381,165.3 381.5,165 382,164.9 382.5,164.9 383,164.8 383.5,164.7 384,164.5 384.5,164.6 385,164.5 385.5,164.2 386,164.1 386.5,164.4 387,164.1 387.5,164 388,164 388.5,164.1 389,163.9 389.5,163.9 390,163.9 390.5,163.8 391,163.8 391.5,163.9 392,163.8 392.5,163.7 393,163.7 393.5,163.5 394,163.6 394.5,163.6 395,163.5 395.5,163.5 396,163.5 396.5,163.3 397,163.4 397.5,163.5 398,163.2 398.5,163.2 399,163.4 399.5,163.1 400,163.3 400.5,163.2 401,163 401.5,163.2 402,162.9 402.5,163.2 403,163 403.5,163.1 404,163.1 404.5,162.8 405,162.9 405.5,162.8 406,162.9 406.5,162.7 407,162.7 407.5,162.7 408,162.9 408.5,162.7 409,162.7 409.5,162.7 410,162.7 410.5,162.6 411,162.7 411.5,162.5 412,162.6 412.5,162.7 413,162.5 413.5,162.4 414,162.6 414.5,162.4 415,162.6 415.5,162.5 416,162.4 416.5,162.3 417,162.3 417.5,162.5 418,162.3 418.5,162.3 419,162.2 419.5,162.2 420,162.4 420.5,162.2 421,162.3 421.5,162.3 422,162.3 422.5,162.2 423,162.2 423.5,162.1 424,162.3 424.5,162.3 425,162.2 425.5,162.1 426,162.3 426.5,162.1 427,162.1 427.5,162.2 428,162.2 428.5,162.1 429,162 429.5,162.2 430,162 430.5,162 431,162.2 431.5,162.2 432,162.1 432.5,161.9 433,162.2 433.5,162 434,161.9 434.5,162.1 435,162.2 435.5,161.9 436,162 436.5,162.1 437,162 437.5,161.9 438,162.1 438.5,162 439,162.2 439.5,162.1 440,162.1 440.5,162.1 441,161.9 441.5,162.1 442,162 442.5,162 443,162 443.5,161.9 444,161.9 444.5,162.1 445,162 445.5,161.9 446,162.1 446.5,162 447,162.1 447.5,162 448,161.9 448.5,161.9 449,162.1 449.5,161.9 450,162.1 450.5,161.9 451,162.1 451.5,161.9 452,162 452.5,161.9 453,161.9 453.5,162 454,162 454.5,162 455,161.9 455.5,162 456,162 456.5,162.2 457,162.1 457.5,162.3 458,162.6 458.5,162.7 459,163.6 459.5,165.8 460,168 460.5,172.3 461,175.7 461.5,175.9 462,174.7 462.5,172.8 463,171.5 463.5,170.4 464,169.1 464.5,168.3 465,167.8 465.5,167.1 466,166.7 466.5,166.2 467,166 467.5,165.8 468,165.5 468.5,165.3 469,165.3 469.5,165.3 470,165 470.5,165 471,165 471.5,165 472,164.9 472.5,165.1 473,165.3 473.5,166.1 474,166.4 474.5,166.6 475,166.5 475.5,166.5 476,166.3 476.5,166.4 477,166 477.5,165.8 478,165.8 478.5,165.6 479,165.4 479.5,165 480,164.9 480.5,164.7 481,164.5 481.5,164.4 482,164.3 482.5,164.4 483,164.9 483.5,165.3 484,165.7 484.5,166.2 485,166.7 485.5,167.1 486,167.1 486.5,167.2 487,166.8 487.5,166.2 488,165.9 488.5,165.4 489,165 489.5,164.7 490,164.7 490.5,164.5 491,164.4 491.5,164.2 492,164.2 492.5,164 493,164.1 493.5,164 494,163.8 494.5,163.9 495,163.7 495.5,163.5 496,163.5 496.5,163.3 497,163.3 497.5,163.4 498,163.3 498.5,163.1 499,162.9 499.5,162.8 500,162.7 500.5,162.7 501,162.7 501.5,162.4 502,162.5 502.5,162.4 503,162.4 503.5,162.4 504,162.2 504.5,162.2 505,162.1 505.5,162.1 506,162.1 506.5,161.9 507,162 507.5,162 508,161.8 508.5,161.8 509,162 509.5,161.8 510,161.8 510.5,161.8 511,161.8 511.5,161.8 512,161.7 512.5,161.7 513,161.6 513.5,161.7 514,161.7 514.5,161.5 515,161.7 515.5,161.6 516,161.8 516.5,161.7 517,161.5 517.5,161.6 518,161.5 518.5,161.4 519,161.7 519.5,161.7 520,161.6 520.5,161.6 521,161.7 521.5,161.5 522,161.6 522.5,161.6 523,161.6 523.5,161.6 524,161.4 524.5,161.4 525,161.5 525.5,161.5 526,161.5 526.5,161.6 527,161.6 527.5,161.6 528,161.5 528.5,161.6 529,161.4 529.5,161.6 530,161.4 530.5,161.6 531,161.5 531.5,161.4 532,161.4 532.5,161.5 533,161.5 533.5,161.8 534,162.1 534.5,162.8 535,163.3 535.5,164 536,165.6 536.5,167.4 537,168.8 537.5,169.2 538,168.7 538.5,167.5 539,166.3 539.5,165.1 540,164 540.5,163.3 541,162.8 541.5,162 542,161.7 542.5,161.5 543,161.6 543.5,161.4 544,161.6 544.5,161.4 545,161.6 545.5,161.4" fill="none" stroke="#3c3c3c" stroke-width="1.5" stroke-linejoin="round"/>
<rect x="304.6" y="5.2" width="241.2" height="181.6" fill="none" stroke="#161616" stroke-width="1.35"/>
<path d="M304.6 186.8V191.1 M321.31 186.8V189 M338.01 186.8V191.1 M354.72 186.8V189 M371.42 186.8V191.1 M388.12 186.8V189 M404.83 186.8V191.1 M421.54 186.8V189 M438.24 186.8V191.1 M454.94 186.8V189 M471.65 186.8V191.1 M488.36 186.8V189 M505.06 186.8V191.1 M521.76 186.8V189 M538.47 186.8V191.1" stroke="#161616" stroke-width="1.3" fill="none"/>
<text x="304.6" y="201.8" font-size="10" text-anchor="middle" fill="#1a1a1a">4000</text>
<text x="338.01" y="201.8" font-size="10" text-anchor="middle" fill="#1a1a1a">3500</text>
<text x="371.42" y="201.8" font-size="10" text-anchor="middle" fill="#1a1a1a">3000</text>
<text x="404.83" y="201.8" font-size="10" text-anchor="middle" fill="#1a1a1a">2500</text>
<text x="438.24" y="201.8" font-size="10" text-anchor="middle" fill="#1a1a1a">2000</text>
<text x="471.65" y="201.8" font-size="10" text-anchor="middle" fill="#1a1a1a">1500</text>
<text x="505.06" y="201.8" font-size="10" text-anchor="middle" fill="#1a1a1a">1000</text>
<text x="538.47" y="201.8" font-size="10" text-anchor="middle" fill="#1a1a1a">500</text>
<text x="277.1" y="19.4" font-size="18.8" text-anchor="start" fill="#1a1a1a" stroke="#1a1a1a" stroke-width="0.22">(b)</text>
<text x="291.6" y="95.9" font-size="14.7" text-anchor="middle" fill="#1a1a1a" transform="rotate(-90 291.6 95.9)" stroke="#1a1a1a" stroke-width="0.22">Transmittance (%)</text>
<text x="418.8" y="219.1" font-size="14.7" text-anchor="middle" fill="#1a1a1a" stroke="#1a1a1a" stroke-width="0.22">Wavenumber (cm<tspan font-size="9" dy="-6">&#8722;1</tspan><tspan dy="6">)</tspan></text>
<text x="344.2" y="35.6" font-size="10" text-anchor="middle" fill="#1a1a1a" stroke="#1a1a1a" stroke-width="0.22">3446</text>
<text x="374.9" y="34.5" font-size="9.6" text-anchor="start" fill="#1a1a1a" stroke="#1a1a1a" stroke-width="0.22">10WO<tspan font-size="6.91" dy="2.69">3</tspan><tspan dy="-2.69">/BiOBr</tspan></text>
<text x="461.2" y="30.7" font-size="10" text-anchor="middle" fill="#1a1a1a" stroke="#1a1a1a" stroke-width="0.22">1654</text>
<text x="473.6" y="30.7" font-size="10" text-anchor="start" fill="#1a1a1a" stroke="#1a1a1a" stroke-width="0.22">Bi&#8211;Br</text>
<text x="519.5" y="21.9" font-size="10" text-anchor="start" fill="#1a1a1a" stroke="#1a1a1a" stroke-width="0.22">Bi&#8211;O</text>
<text x="519.5" y="33.6" font-size="10" text-anchor="start" fill="#1a1a1a" stroke="#1a1a1a" stroke-width="0.22">526</text>
<text x="376" y="67.9" font-size="9.6" text-anchor="start" fill="#1a1a1a" stroke="#1a1a1a" stroke-width="0.22">5WO<tspan font-size="6.91" dy="2.69">3</tspan><tspan dy="-2.69">/BiOBr</tspan></text>
<text x="376.9" y="103.2" font-size="9.6" text-anchor="start" fill="#1a1a1a" stroke="#1a1a1a" stroke-width="0.22">3WO<tspan font-size="6.91" dy="2.69">3</tspan><tspan dy="-2.69">/BiOBr</tspan></text>
<text x="377.3" y="129.9" font-size="9.6" text-anchor="start" fill="#1a1a1a" stroke="#1a1a1a" stroke-width="0.22">WO<tspan font-size="6.91" dy="2.69">3</tspan><tspan dy="-2.69"></tspan></text>
<text x="378.2" y="157" font-size="9.6" text-anchor="start" fill="#1a1a1a" stroke="#1a1a1a" stroke-width="0.22">BiOBr</text>
<text x="389" y="178.1" font-size="10" text-anchor="start" fill="#1a1a1a" stroke="#1a1a1a" stroke-width="0.22">O&#8211;H</text>
<line x1="347" y1="174.3" x2="378.6" y2="174.3" stroke="#111" stroke-width="1.3"/>
<polygon points="384.6,174.3 378.6,176.8 378.6,171.8" fill="#111"/>
<line x1="457.5" y1="174.3" x2="417.4" y2="174.3" stroke="#111" stroke-width="1.3"/>
<polygon points="411.4,174.3 417.4,171.8 417.4,176.8" fill="#111"/>
<rect x="30.9" y="227.9" width="241.1" height="181.6" fill="none" stroke="#161616" stroke-width="1.35"/>
<path d="M31 409.5V413.8 M55.1 409.5V411.7 M79.2 409.5V413.8 M103.3 409.5V411.7 M127.4 409.5V413.8 M151.5 409.5V411.7 M175.6 409.5V413.8 M199.7 409.5V411.7 M223.8 409.5V413.8 M247.9 409.5V411.7 M272 409.5V413.8" stroke="#161616" stroke-width="1.3" fill="none"/>
<text x="31" y="424.6" font-size="10" text-anchor="middle" fill="#1a1a1a">0.0</text>
<text x="79.2" y="424.6" font-size="10" text-anchor="middle" fill="#1a1a1a">0.2</text>
<text x="127.4" y="424.6" font-size="10" text-anchor="middle" fill="#1a1a1a">0.4</text>
<text x="175.6" y="424.6" font-size="10" text-anchor="middle" fill="#1a1a1a">0.6</text>
<text x="223.8" y="424.6" font-size="10" text-anchor="middle" fill="#1a1a1a">0.8</text>
<text x="272" y="424.6" font-size="10" text-anchor="middle" fill="#1a1a1a">1.0</text>
<text x="2.4" y="225.9" font-size="18.8" text-anchor="start" fill="#1a1a1a" stroke="#1a1a1a" stroke-width="0.22">(c)</text>
<text x="17.7" y="318.6" font-size="14.8" text-anchor="middle" fill="#1a1a1a" transform="rotate(-90 17.7 318.6)" stroke="#1a1a1a" stroke-width="0.22">Volume absorbed (cm<tspan font-size="9" dy="-6">3</tspan><tspan dy="6"> g</tspan><tspan font-size="9" dy="-6">&#8722;1</tspan><tspan dy="6">)</tspan></text>
<text x="158.6" y="438.6" font-size="14.7" text-anchor="middle" fill="#1a1a1a" stroke="#1a1a1a" stroke-width="0.22">Relative Pressure (P/P<tspan font-size="9" dy="3">0</tspan><tspan dy="-3">)</tspan></text>
<text x="44.3" y="265.7" font-size="10" text-anchor="start" fill="#1a1a1a" stroke="#1a1a1a" stroke-width="0.22">10WO<tspan font-size="7.2" dy="2.8">3</tspan><tspan dy="-2.8">/BiOBr</tspan></text>
<text x="44" y="298.3" font-size="10" text-anchor="start" fill="#1a1a1a" stroke="#1a1a1a" stroke-width="0.22">5WO<tspan font-size="7.2" dy="2.8">3</tspan><tspan dy="-2.8">/BiOBr</tspan></text>
<text x="44.3" y="327.7" font-size="10" text-anchor="start" fill="#1a1a1a" stroke="#1a1a1a" stroke-width="0.22">3WO<tspan font-size="7.2" dy="2.8">3</tspan><tspan dy="-2.8">/BiOBr</tspan></text>
<text x="44.3" y="353.7" font-size="10" text-anchor="start" fill="#1a1a1a" stroke="#1a1a1a" stroke-width="0.22">WO<tspan font-size="7.2" dy="2.8">3</tspan><tspan dy="-2.8"></tspan></text>
<text x="44.2" y="394.6" font-size="10" text-anchor="start" fill="#1a1a1a" stroke="#1a1a1a" stroke-width="0.22">BiOBr</text>
<polyline points="32,276.5 32.9,276.4 33.9,276.3 34.9,276.3 35.8,276.2 36.8,276.1 37.7,276 38.7,275.9 39.7,275.9 40.6,275.8 41.6,275.7 42.6,275.7 43.5,275.6 44.5,275.6 45.5,275.6 46.4,275.5 47.4,275.5 48.4,275.4 49.3,275.4 50.3,275.4 51.2,275.3 52.2,275.3 53.2,275.2 54.1,275.2 55.1,275.2 56.1,275.1 57,275.1 58,275.1 59,275 59.9,275 60.9,275 61.8,274.9 62.8,274.9 63.8,274.9 64.7,274.8 65.7,274.8 66.7,274.7 67.6,274.7 68.6,274.7 69.6,274.6 70.5,274.6 71.5,274.6 72.5,274.5 73.4,274.5 74.4,274.5 75.3,274.4 76.3,274.4 77.3,274.4 78.2,274.3 79.2,274.3 80.2,274.3 81.1,274.2 82.1,274.2 83.1,274.2 84,274.1 85,274.1 85.9,274.1 86.9,274.1 87.9,274 88.8,274 89.8,274 90.8,273.9 91.7,273.9 92.7,273.9 93.7,273.8 94.6,273.8 95.6,273.8 96.6,273.8 97.5,273.7 98.5,273.7 99.4,273.7 100.4,273.6 101.4,273.6 102.3,273.6 103.3,273.6 104.3,273.5 105.2,273.5 106.2,273.5 107.2,273.5 108.1,273.4 109.1,273.4 110,273.4 111,273.4 112,273.3 112.9,273.3 113.9,273.3 114.9,273.3 115.8,273.2 116.8,273.2 117.8,273.2 118.7,273.1 119.7,273.1 120.7,273.1 121.6,273 122.6,273 123.5,272.9 124.5,272.9 125.5,272.9 126.4,272.8 127.4,272.8 128.4,272.7 129.3,272.7 130.3,272.6 131.3,272.6 132.2,272.6 133.2,272.5 134.1,272.5 135.1,272.5 136.1,272.4 137,272.4 138,272.4 139,272.3 139.9,272.3 140.9,272.3 141.9,272.2 142.8,272.2 143.8,272.2 144.8,272.1 145.7,272.1 146.7,272.1 147.6,272.1 148.6,272 149.6,272 150.5,272 151.5,271.9 152.5,271.9 153.4,271.9 154.4,271.9 155.4,271.8 156.3,271.8 157.3,271.8 158.2,271.8 159.2,271.7 160.2,271.7 161.1,271.7 162.1,271.7 163.1,271.6 164,271.6 165,271.6 166,271.6 166.9,271.6 167.9,271.5 168.9,271.5 169.8,271.5 170.8,271.5 171.7,271.4 172.7,271.4 173.7,271.4 174.6,271.3 175.6,271.3 176.6,271.2 177.5,271.2 178.5,271.1 179.5,271.1 180.4,271 181.4,271 182.3,270.9 183.3,270.9 184.3,270.8 185.2,270.8 186.2,270.7 187.2,270.6 188.1,270.6 189.1,270.5 190.1,270.4 191,270.4 192,270.3 193,270.2 193.9,270.2 194.9,270.1 195.8,270 196.8,269.9 197.8,269.8 198.7,269.8 199.7,269.7 200.7,269.6 201.6,269.5 202.6,269.4 203.6,269.3 204.5,269.2 205.5,269.1 206.4,269 207.4,268.9 208.4,268.7 209.3,268.6 210.3,268.5 211.3,268.3 212.2,268.2 213.2,268 214.2,267.8 215.1,267.7 216.1,267.5 217.1,267.3 218,267.2 219,267 219.9,266.8 220.9,266.6 221.9,266.4 222.8,266.3 223.8,266.1 224.8,265.9 225.7,265.8 226.7,265.6 227.7,265.4 228.6,265.2 229.6,265 230.5,264.8 231.5,264.6 232.5,264.5 233.4,264.3 234.4,264 235.4,263.8 236.3,263.6 237.3,263.4 238.3,263.1 239.2,262.8 240.2,262.5 241.2,262.2 242.1,261.9 243.1,261.6 244,261.3 245,261 246,260.7 246.9,260.3 247.9,259.9 248.9,259.6 249.8,259.2 250.8,258.8 251.8,258.5 252.7,258.1 253.7,257.7 254.6,257.3 255.6,256.7 256.6,256.1 257.5,255.4 258.5,254.7 259.5,254 260.4,253.3 261.4,252.5 262.4,251.6 263.3,250.6 264.3,249.5 265.3,248.5 266.2,247.4 267.2,246.2 268.1,244.7 269.1,243.1" fill="none" stroke="#c56ee6" stroke-width="1.35"/>
<polyline points="141.9,271.9 142.8,271.7 143.8,271.5 144.8,271.2 145.7,271 146.7,270.8 147.6,270.5 148.6,270.3 149.6,270.1 150.5,269.9 151.5,269.7 152.5,269.5 153.4,269.3 154.4,269.1 155.4,268.9 156.3,268.8 157.3,268.7 158.2,268.6 159.2,268.5 160.2,268.4 161.1,268.3 162.1,268.2 163.1,268.1 164,268 165,268 166,267.9 166.9,267.8 167.9,267.7 168.9,267.7 169.8,267.6 170.8,267.5 171.7,267.4 172.7,267.3 173.7,267.2 174.6,267.1 175.6,267 176.6,266.8 177.5,266.7 178.5,266.6 179.5,266.5 180.4,266.3 181.4,266.2 182.3,266.1 183.3,265.9 184.3,265.8 185.2,265.6 186.2,265.5 187.2,265.4 188.1,265.2 189.1,265.1 190.1,265 191,264.8 192,264.7 193,264.6 193.9,264.4 194.9,264.3 195.8,264.1 196.8,264 197.8,263.9 198.7,263.7 199.7,263.6 200.7,263.4 201.6,263.3 202.6,263.1 203.6,263 204.5,262.8 205.5,262.7 206.4,262.6 207.4,262.4 208.4,262.3 209.3,262.1 210.3,262 211.3,261.8 212.2,261.7 213.2,261.5 214.2,261.3 215.1,261.2 216.1,261 217.1,260.8 218,260.6 219,260.4 219.9,260.2 220.9,260 221.9,259.8 222.8,259.6 223.8,259.4 224.8,259.2 225.7,259 226.7,258.8 227.7,258.6 228.6,258.4 229.6,258.2 230.5,258 231.5,257.9 232.5,257.7 233.4,257.5 234.4,257.3 235.4,257.1 236.3,256.9 237.3,256.7 238.3,256.5 239.2,256.3 240.2,256.1 241.2,255.8 242.1,255.6 243.1,255.3 244,255 245,254.7 246,254.4 246.9,254.1 247.9,253.7 248.9,253.3 249.8,252.9 250.8,252.5 251.8,252.1 252.7,251.7 253.7,251.3 254.6,250.9 255.6,250.4 256.6,250 257.5,249.5 258.5,249 259.5,248.4 260.4,247.8 261.4,247.1 262.4,246.4 263.3,245.8 264.3,245.2 265.3,244.6 266.2,244.1 267.2,243.5 268.1,242.8 269.1,242.2" fill="none" stroke="#c56ee6" stroke-width="1.35"/>
<polygon points="32.69,274 35.4,276.45 32.69,278.91 29.97,276.45" fill="#c56ee6"/><polygon points="41.36,273.3 44.08,275.76 41.36,278.21 38.65,275.76" fill="#c56ee6"/><polygon points="49.8,272.92 52.51,275.37 49.8,277.83 47.08,275.37" fill="#c56ee6"/><polygon points="57.27,272.64 59.98,275.1 57.27,277.56 54.55,275.1" fill="#c56ee6"/><polygon points="65.22,272.34 67.94,274.8 65.22,277.25 62.51,274.8" fill="#c56ee6"/><polygon points="73.9,272.03 76.61,274.48 73.9,276.94 71.18,274.48" fill="#c56ee6"/><polygon points="82.09,271.75 84.81,274.2 82.09,276.66 79.38,274.2" fill="#c56ee6"/><polygon points="90.53,271.48 93.24,273.94 90.53,276.39 87.81,273.94" fill="#c56ee6"/><polygon points="98.48,271.24 101.19,273.7 98.48,276.16 95.77,273.7" fill="#c56ee6"/><polygon points="106.43,271.03 109.15,273.49 106.43,275.94 103.72,273.49" fill="#c56ee6"/><polygon points="110.53,270.93 113.24,273.38 110.53,275.84 107.82,273.38" fill="#c56ee6"/><polygon points="114.63,270.81 117.34,273.27 114.63,275.73 111.91,273.27" fill="#c56ee6"/><polygon points="118.72,270.69 121.44,273.14 118.72,275.6 116.01,273.14" fill="#c56ee6"/><polygon points="122.58,270.54 125.29,272.99 122.58,275.45 119.87,272.99" fill="#c56ee6"/><polygon points="131.26,270.13 133.97,272.59 131.26,275.04 128.54,272.59" fill="#c56ee6"/><polygon points="138.49,269.89 141.2,272.35 138.49,274.8 135.77,272.35" fill="#c56ee6"/><polygon points="147.16,269.61 149.88,272.07 147.16,274.53 144.45,272.07" fill="#c56ee6"/><polygon points="155.36,269.37 158.07,271.83 155.36,274.28 152.64,271.83" fill="#c56ee6"/><polygon points="163.55,269.18 166.26,271.63 163.55,274.09 160.84,271.63" fill="#c56ee6"/><polygon points="171.5,268.98 174.22,271.44 171.5,273.89 168.79,271.44" fill="#c56ee6"/><polygon points="179.7,268.63 182.41,271.09 179.7,273.54 176.98,271.09" fill="#c56ee6"/><polygon points="187.65,268.14 190.36,270.6 187.65,273.05 184.94,270.6" fill="#c56ee6"/><polygon points="195.6,267.57 198.32,270.03 195.6,272.48 192.89,270.03" fill="#c56ee6"/><polygon points="203.8,266.83 206.51,269.28 203.8,271.74 201.08,269.28" fill="#c56ee6"/><polygon points="211.75,265.78 214.46,268.23 211.75,270.69 209.04,268.23" fill="#c56ee6"/><polygon points="219.94,264.33 222.66,266.79 219.94,269.24 217.23,266.79" fill="#c56ee6"/><polygon points="228.14,262.84 230.85,265.3 228.14,267.76 225.42,265.3" fill="#c56ee6"/><polygon points="236.33,261.14 239.05,263.6 236.33,266.06 233.62,263.6" fill="#c56ee6"/><polygon points="244.53,258.7 247.24,261.16 244.53,263.62 241.81,261.16" fill="#c56ee6"/><polygon points="249.11,257.02 251.82,259.48 249.11,261.93 246.39,259.48" fill="#c56ee6"/><polygon points="252.72,255.68 255.43,258.14 252.72,260.59 250.01,258.14" fill="#c56ee6"/><polygon points="256.34,253.78 259.05,256.23 256.34,258.69 253.62,256.23" fill="#c56ee6"/><polygon points="259.95,251.22 262.66,253.68 259.95,256.14 257.24,253.68" fill="#c56ee6"/><polygon points="263.08,248.36 265.8,250.82 263.08,253.27 260.37,250.82" fill="#c56ee6"/><polygon points="265.98,245.22 268.69,247.67 265.98,250.13 263.26,247.67" fill="#c56ee6"/><polygon points="269.59,239.84 272.3,242.3 269.59,244.76 266.88,242.3" fill="#c56ee6"/><polygon points="269.59,239.37 272.3,241.83 269.59,244.28 266.88,241.83" fill="#c56ee6"/><polygon points="264.53,242.62 267.24,245.07 264.53,247.53 261.81,245.07" fill="#c56ee6"/><polygon points="259.71,245.81 262.42,248.27 259.71,250.72 256.99,248.27" fill="#c56ee6"/><polygon points="255.13,248.19 257.84,250.65 255.13,253.1 252.42,250.65" fill="#c56ee6"/><polygon points="251.03,249.93 253.75,252.39 251.03,254.85 248.32,252.39" fill="#c56ee6"/><polygon points="246.45,251.82 249.17,254.28 246.45,256.73 243.74,254.28" fill="#c56ee6"/><polygon points="237.78,254.17 240.49,256.63 237.78,259.08 235.06,256.63" fill="#c56ee6"/><polygon points="229.58,255.77 232.3,258.22 229.58,260.68 226.87,258.22" fill="#c56ee6"/><polygon points="221.39,257.47 224.1,259.92 221.39,262.38 218.68,259.92" fill="#c56ee6"/><polygon points="213.2,259.05 215.91,261.51 213.2,263.97 210.48,261.51" fill="#c56ee6"/><polygon points="205,260.32 207.72,262.77 205,265.23 202.29,262.77" fill="#c56ee6"/><polygon points="196.81,261.54 199.52,264 196.81,266.45 194.09,264" fill="#c56ee6"/><polygon points="188.61,262.71 191.33,265.17 188.61,267.62 185.9,265.17" fill="#c56ee6"/><polygon points="180.42,263.88 183.13,266.33 180.42,268.79 177.71,266.33" fill="#c56ee6"/><polygon points="172.23,264.9 174.94,267.35 172.23,269.81 169.51,267.35" fill="#c56ee6"/><polygon points="164.03,265.59 166.75,268.05 164.03,270.5 161.32,268.05" fill="#c56ee6"/><polygon points="155.84,266.41 158.55,268.87 155.84,271.32 153.12,268.87" fill="#c56ee6"/><polygon points="147.64,268.09 150.36,270.54 147.64,273 144.93,270.54" fill="#c56ee6"/>
<polyline points="32,310.6 32.9,310.5 33.9,310.4 34.9,310.4 35.8,310.3 36.8,310.2 37.7,310.1 38.7,310 39.7,310 40.6,309.9 41.6,309.8 42.6,309.8 43.5,309.7 44.5,309.7 45.5,309.6 46.4,309.6 47.4,309.5 48.4,309.5 49.3,309.4 50.3,309.4 51.2,309.4 52.2,309.3 53.2,309.3 54.1,309.2 55.1,309.2 56.1,309.2 57,309.1 58,309.1 59,309 59.9,309 60.9,309 61.8,308.9 62.8,308.9 63.8,308.8 64.7,308.8 65.7,308.8 66.7,308.7 67.6,308.7 68.6,308.6 69.6,308.6 70.5,308.6 71.5,308.5 72.5,308.5 73.4,308.5 74.4,308.4 75.3,308.4 76.3,308.3 77.3,308.3 78.2,308.2 79.2,308.2 80.2,308.2 81.1,308.1 82.1,308.1 83.1,308 84,308 85,307.9 85.9,307.9 86.9,307.8 87.9,307.8 88.8,307.7 89.8,307.7 90.8,307.6 91.7,307.6 92.7,307.5 93.7,307.5 94.6,307.4 95.6,307.4 96.6,307.3 97.5,307.3 98.5,307.2 99.4,307.1 100.4,307.1 101.4,307 102.3,306.9 103.3,306.8 104.3,306.8 105.2,306.7 106.2,306.6 107.2,306.5 108.1,306.4 109.1,306.3 110,306.3 111,306.2 112,306.1 112.9,306 113.9,305.9 114.9,305.9 115.8,305.8 116.8,305.7 117.8,305.6 118.7,305.6 119.7,305.5 120.7,305.5 121.6,305.4 122.6,305.4 123.5,305.3 124.5,305.2 125.5,305.2 126.4,305.2 127.4,305.1 128.4,305.1 129.3,305 130.3,305 131.3,304.9 132.2,304.9 133.2,304.8 134.1,304.8 135.1,304.8 136.1,304.7 137,304.7 138,304.7 139,304.6 139.9,304.6 140.9,304.6 141.9,304.5 142.8,304.5 143.8,304.5 144.8,304.5 145.7,304.4 146.7,304.4 147.6,304.4 148.6,304.4 149.6,304.3 150.5,304.3 151.5,304.3 152.5,304.3 153.4,304.3 154.4,304.2 155.4,304.2 156.3,304.2 157.3,304.2 158.2,304.2 159.2,304.2 160.2,304.1 161.1,304.1 162.1,304.1 163.1,304.1 164,304.1 165,304.1 166,304.1 166.9,304.1 167.9,304.1 168.9,304.1 169.8,304 170.8,304 171.7,304 172.7,304 173.7,304 174.6,304 175.6,303.9 176.6,303.9 177.5,303.8 178.5,303.8 179.5,303.8 180.4,303.7 181.4,303.7 182.3,303.6 183.3,303.6 184.3,303.5 185.2,303.4 186.2,303.4 187.2,303.3 188.1,303.3 189.1,303.2 190.1,303.1 191,303.1 192,303 193,302.9 193.9,302.9 194.9,302.8 195.8,302.7 196.8,302.6 197.8,302.5 198.7,302.4 199.7,302.4 200.7,302.3 201.6,302.2 202.6,302.1 203.6,302 204.5,301.9 205.5,301.8 206.4,301.7 207.4,301.6 208.4,301.5 209.3,301.4 210.3,301.3 211.3,301.2 212.2,301.1 213.2,301 214.2,300.9 215.1,300.8 216.1,300.7 217.1,300.6 218,300.4 219,300.3 219.9,300.2 220.9,300.1 221.9,299.9 222.8,299.7 223.8,299.6 224.8,299.4 225.7,299.2 226.7,299.1 227.7,298.9 228.6,298.7 229.6,298.5 230.5,298.4 231.5,298.2 232.5,298 233.4,297.8 234.4,297.6 235.4,297.4 236.3,297.2 237.3,296.9 238.3,296.7 239.2,296.4 240.2,296.1 241.2,295.7 242.1,295.4 243.1,295 244,294.6 245,294.1 246,293.6 246.9,293 247.9,292.4 248.9,291.8 249.8,291.3 250.8,290.8 251.8,290.3 252.7,289.8 253.7,289.2 254.6,288.6 255.6,287.9 256.6,287.2 257.5,286.4 258.5,285.6 259.5,284.7 260.4,283.8 261.4,282.9 262.4,282 263.3,281.1 264.3,280 265.3,279 266.2,277.9 267.2,276.7 268.1,275 269.1,273" fill="none" stroke="#12a35c" stroke-width="1.35"/>
<polyline points="141.9,304.3 142.8,304.2 143.8,304 144.8,303.9 145.7,303.7 146.7,303.6 147.6,303.4 148.6,303.3 149.6,303.1 150.5,303 151.5,302.9 152.5,302.7 153.4,302.6 154.4,302.5 155.4,302.4 156.3,302.3 157.3,302.2 158.2,302.1 159.2,302.1 160.2,302 161.1,302 162.1,301.9 163.1,301.9 164,301.8 165,301.8 166,301.7 166.9,301.7 167.9,301.6 168.9,301.6 169.8,301.5 170.8,301.4 171.7,301.4 172.7,301.3 173.7,301.2 174.6,301.1 175.6,301 176.6,301 177.5,300.9 178.5,300.8 179.5,300.7 180.4,300.5 181.4,300.4 182.3,300.3 183.3,300.2 184.3,300.1 185.2,300 186.2,299.9 187.2,299.7 188.1,299.6 189.1,299.5 190.1,299.4 191,299.3 192,299.2 193,299 193.9,298.9 194.9,298.8 195.8,298.7 196.8,298.6 197.8,298.5 198.7,298.3 199.7,298.2 200.7,298.1 201.6,297.9 202.6,297.8 203.6,297.6 204.5,297.5 205.5,297.3 206.4,297.1 207.4,296.9 208.4,296.7 209.3,296.5 210.3,296.2 211.3,296 212.2,295.7 213.2,295.5 214.2,295.2 215.1,295 216.1,294.7 217.1,294.5 218,294.3 219,294.1 219.9,293.8 220.9,293.6 221.9,293.4 222.8,293.1 223.8,292.9 224.8,292.7 225.7,292.4 226.7,292.2 227.7,292 228.6,291.7 229.6,291.4 230.5,291.2 231.5,290.9 232.5,290.7 233.4,290.4 234.4,290.2 235.4,289.9 236.3,289.6 237.3,289.2 238.3,288.9 239.2,288.5 240.2,288.1 241.2,287.7 242.1,287.2 243.1,286.7 244,286.3 245,285.8 246,285.4 246.9,284.9 247.9,284.5 248.9,284 249.8,283.6 250.8,283.1 251.8,282.7 252.7,282.2 253.7,281.7 254.6,281.3 255.6,280.8 256.6,280.3 257.5,279.8 258.5,279.2 259.5,278.6 260.4,277.9 261.4,277.2 262.4,276.5 263.3,275.8 264.3,275.1 265.3,274.4 266.2,273.7 267.2,273.1 268.1,272.4 269.1,271.7" fill="none" stroke="#12a35c" stroke-width="1.35"/>
<polygon points="32.69,313.11 35.24,308.64 30.13,308.64" fill="#12a35c"/><polygon points="41.36,312.41 43.91,307.94 38.81,307.94" fill="#12a35c"/><polygon points="49.8,311.98 52.35,307.51 47.25,307.51" fill="#12a35c"/><polygon points="57.27,311.67 59.82,307.2 54.72,307.2" fill="#12a35c"/><polygon points="65.22,311.33 67.77,306.86 62.67,306.86" fill="#12a35c"/><polygon points="73.9,310.98 76.45,306.52 71.35,306.52" fill="#12a35c"/><polygon points="82.09,310.62 84.64,306.15 79.54,306.15" fill="#12a35c"/><polygon points="90.53,310.2 93.08,305.74 87.97,305.74" fill="#12a35c"/><polygon points="98.48,309.75 101.03,305.29 95.93,305.29" fill="#12a35c"/><polygon points="106.43,309.13 108.99,304.67 103.88,304.67" fill="#12a35c"/><polygon points="110.53,308.77 113.08,304.3 107.98,304.3" fill="#12a35c"/><polygon points="114.63,308.42 117.18,303.96 112.07,303.96" fill="#12a35c"/><polygon points="118.72,308.12 121.28,303.66 116.17,303.66" fill="#12a35c"/><polygon points="122.58,307.9 125.13,303.44 120.03,303.44" fill="#12a35c"/><polygon points="131.26,307.48 133.81,303.01 128.7,303.01" fill="#12a35c"/><polygon points="138.49,307.2 141.04,302.73 135.93,302.73" fill="#12a35c"/><polygon points="147.16,306.95 149.71,302.48 144.61,302.48" fill="#12a35c"/><polygon points="155.36,306.77 157.91,302.3 152.8,302.3" fill="#12a35c"/><polygon points="163.55,306.67 166.1,302.2 161,302.2" fill="#12a35c"/><polygon points="171.5,306.57 174.05,302.11 168.95,302.11" fill="#12a35c"/><polygon points="179.7,306.3 182.25,301.83 177.15,301.83" fill="#12a35c"/><polygon points="187.65,305.84 190.2,301.38 185.1,301.38" fill="#12a35c"/><polygon points="195.6,305.27 198.16,300.8 193.05,300.8" fill="#12a35c"/><polygon points="203.8,304.52 206.35,300.05 201.25,300.05" fill="#12a35c"/><polygon points="211.75,303.72 214.3,299.26 209.2,299.26" fill="#12a35c"/><polygon points="219.94,302.75 222.5,298.28 217.39,298.28" fill="#12a35c"/><polygon points="228.14,301.35 230.69,296.89 225.59,296.89" fill="#12a35c"/><polygon points="236.33,299.75 238.88,295.29 233.78,295.29" fill="#12a35c"/><polygon points="244.53,296.9 247.08,292.43 241.97,292.43" fill="#12a35c"/><polygon points="249.11,294.22 251.66,289.75 246.55,289.75" fill="#12a35c"/><polygon points="252.72,292.33 255.27,287.87 250.17,287.87" fill="#12a35c"/><polygon points="256.34,289.91 258.89,285.44 253.78,285.44" fill="#12a35c"/><polygon points="259.95,286.84 262.5,282.37 257.4,282.37" fill="#12a35c"/><polygon points="263.08,283.85 265.63,279.38 260.53,279.38" fill="#12a35c"/><polygon points="265.98,280.78 268.53,276.31 263.42,276.31" fill="#12a35c"/><polygon points="269.59,274.54 272.14,270.08 267.04,270.08" fill="#12a35c"/><polygon points="269.59,273.9 272.14,269.43 267.04,269.43" fill="#12a35c"/><polygon points="264.53,277.48 267.08,273.01 261.98,273.01" fill="#12a35c"/><polygon points="259.71,280.97 262.26,276.5 257.16,276.5" fill="#12a35c"/><polygon points="255.13,283.58 257.68,279.11 252.58,279.11" fill="#12a35c"/><polygon points="251.03,285.55 253.59,281.09 248.48,281.09" fill="#12a35c"/><polygon points="246.45,287.71 249.01,283.24 243.9,283.24" fill="#12a35c"/><polygon points="237.78,291.62 240.33,287.16 235.23,287.16" fill="#12a35c"/><polygon points="229.58,294 232.14,289.53 227.03,289.53" fill="#12a35c"/><polygon points="221.39,296.04 223.94,291.57 218.84,291.57" fill="#12a35c"/><polygon points="213.2,298 215.75,293.54 210.64,293.54" fill="#12a35c"/><polygon points="205,299.94 207.55,295.47 202.45,295.47" fill="#12a35c"/><polygon points="196.81,301.13 199.36,296.66 194.26,296.66" fill="#12a35c"/><polygon points="188.61,302.11 191.17,297.64 186.06,297.64" fill="#12a35c"/><polygon points="180.42,303.09 182.97,298.63 177.87,298.63" fill="#12a35c"/><polygon points="172.23,303.89 174.78,299.42 169.67,299.42" fill="#12a35c"/><polygon points="164.03,304.36 166.58,299.9 161.48,299.9" fill="#12a35c"/><polygon points="155.84,304.89 158.39,300.43 153.29,300.43" fill="#12a35c"/><polygon points="147.64,305.98 150.2,301.51 145.09,301.51" fill="#12a35c"/>
<polyline points="32,339.7 32.9,339.6 33.9,339.5 34.9,339.5 35.8,339.4 36.8,339.3 37.7,339.2 38.7,339.1 39.7,339.1 40.6,339 41.6,339 42.6,338.9 43.5,338.9 44.5,338.8 45.5,338.8 46.4,338.7 47.4,338.7 48.4,338.7 49.3,338.6 50.3,338.6 51.2,338.6 52.2,338.5 53.2,338.5 54.1,338.5 55.1,338.5 56.1,338.4 57,338.4 58,338.4 59,338.3 59.9,338.3 60.9,338.3 61.8,338.2 62.8,338.2 63.8,338.2 64.7,338.1 65.7,338.1 66.7,338.1 67.6,338 68.6,338 69.6,338 70.5,337.9 71.5,337.9 72.5,337.9 73.4,337.8 74.4,337.8 75.3,337.7 76.3,337.7 77.3,337.7 78.2,337.6 79.2,337.6 80.2,337.6 81.1,337.5 82.1,337.5 83.1,337.4 84,337.4 85,337.4 85.9,337.3 86.9,337.3 87.9,337.2 88.8,337.2 89.8,337.2 90.8,337.1 91.7,337.1 92.7,337 93.7,337 94.6,337 95.6,336.9 96.6,336.9 97.5,336.8 98.5,336.8 99.4,336.8 100.4,336.7 101.4,336.7 102.3,336.6 103.3,336.6 104.3,336.6 105.2,336.5 106.2,336.5 107.2,336.5 108.1,336.4 109.1,336.4 110,336.4 111,336.3 112,336.3 112.9,336.2 113.9,336.2 114.9,336.2 115.8,336.1 116.8,336.1 117.8,336 118.7,336 119.7,335.9 120.7,335.9 121.6,335.8 122.6,335.7 123.5,335.6 124.5,335.6 125.5,335.5 126.4,335.4 127.4,335.3 128.4,335.2 129.3,335.1 130.3,335 131.3,335 132.2,334.9 133.2,334.8 134.1,334.7 135.1,334.6 136.1,334.6 137,334.5 138,334.4 139,334.4 139.9,334.3 140.9,334.2 141.9,334.2 142.8,334.1 143.8,334.1 144.8,334 145.7,334 146.7,334 147.6,333.9 148.6,333.9 149.6,333.8 150.5,333.8 151.5,333.8 152.5,333.7 153.4,333.7 154.4,333.7 155.4,333.6 156.3,333.6 157.3,333.6 158.2,333.5 159.2,333.5 160.2,333.5 161.1,333.5 162.1,333.4 163.1,333.4 164,333.4 165,333.4 166,333.4 166.9,333.3 167.9,333.3 168.9,333.3 169.8,333.3 170.8,333.3 171.7,333.2 172.7,333.2 173.7,333.2 174.6,333.1 175.6,333.1 176.6,333.1 177.5,333 178.5,333 179.5,333 180.4,332.9 181.4,332.9 182.3,332.9 183.3,332.8 184.3,332.8 185.2,332.8 186.2,332.7 187.2,332.7 188.1,332.6 189.1,332.6 190.1,332.6 191,332.5 192,332.5 193,332.4 193.9,332.4 194.9,332.3 195.8,332.3 196.8,332.2 197.8,332.2 198.7,332.1 199.7,332.1 200.7,332 201.6,331.9 202.6,331.9 203.6,331.8 204.5,331.8 205.5,331.7 206.4,331.6 207.4,331.6 208.4,331.5 209.3,331.4 210.3,331.4 211.3,331.3 212.2,331.2 213.2,331.1 214.2,331 215.1,330.9 216.1,330.8 217.1,330.6 218,330.4 219,330.3 219.9,330.1 220.9,329.9 221.9,329.8 222.8,329.6 223.8,329.4 224.8,329.3 225.7,329.1 226.7,328.9 227.7,328.8 228.6,328.6 229.6,328.5 230.5,328.3 231.5,328.1 232.5,328 233.4,327.8 234.4,327.7 235.4,327.5 236.3,327.3 237.3,327.1 238.3,326.9 239.2,326.7 240.2,326.5 241.2,326.3 242.1,326 243.1,325.8 244,325.5 245,325.2 246,324.9 246.9,324.6 247.9,324.2 248.9,323.8 249.8,323.5 250.8,323.2 251.8,322.9 252.7,322.6 253.7,322.3 254.6,321.9 255.6,321.6 256.6,321.2 257.5,320.8 258.5,320.3 259.5,319.8 260.4,319.3 261.4,318.7 262.4,318.1 263.3,317.4 264.3,316.6 265.3,315.9 266.2,315.2 267.2,314.3 268.1,313.4 269.1,312" fill="none" stroke="#1868de" stroke-width="1.35"/>
<polyline points="141.9,334 142.8,333.8 143.8,333.7 144.8,333.5 145.7,333.3 146.7,333.1 147.6,333 148.6,332.8 149.6,332.6 150.5,332.4 151.5,332.3 152.5,332.1 153.4,331.9 154.4,331.8 155.4,331.6 156.3,331.5 157.3,331.4 158.2,331.2 159.2,331.1 160.2,331 161.1,330.9 162.1,330.7 163.1,330.6 164,330.5 165,330.4 166,330.3 166.9,330.2 167.9,330.1 168.9,329.9 169.8,329.8 170.8,329.7 171.7,329.6 172.7,329.5 173.7,329.4 174.6,329.3 175.6,329.2 176.6,329.1 177.5,329 178.5,328.9 179.5,328.7 180.4,328.6 181.4,328.5 182.3,328.4 183.3,328.3 184.3,328.2 185.2,328.1 186.2,328 187.2,327.9 188.1,327.8 189.1,327.7 190.1,327.6 191,327.5 192,327.4 193,327.3 193.9,327.2 194.9,327.1 195.8,326.9 196.8,326.8 197.8,326.7 198.7,326.6 199.7,326.5 200.7,326.4 201.6,326.3 202.6,326.2 203.6,326.1 204.5,326 205.5,325.9 206.4,325.8 207.4,325.7 208.4,325.6 209.3,325.6 210.3,325.5 211.3,325.4 212.2,325.3 213.2,325.2 214.2,325.1 215.1,325 216.1,324.8 217.1,324.7 218,324.5 219,324.3 219.9,324.2 220.9,324 221.9,323.8 222.8,323.7 223.8,323.6 224.8,323.4 225.7,323.3 226.7,323.1 227.7,323 228.6,322.9 229.6,322.7 230.5,322.6 231.5,322.4 232.5,322.2 233.4,322.1 234.4,321.9 235.4,321.7 236.3,321.6 237.3,321.4 238.3,321.2 239.2,321.1 240.2,320.9 241.2,320.7 242.1,320.6 243.1,320.4 244,320.2 245,320 246,319.8 246.9,319.6 247.9,319.4 248.9,319.1 249.8,318.8 250.8,318.6 251.8,318.3 252.7,318 253.7,317.7 254.6,317.4 255.6,317.1 256.6,316.8 257.5,316.5 258.5,316.1 259.5,315.7 260.4,315.3 261.4,314.8 262.4,314.3 263.3,313.9 264.3,313.4 265.3,313 266.2,312.5 267.2,312 268.1,311.5 269.1,310.9" fill="none" stroke="#1868de" stroke-width="1.35"/>
<polygon points="32.69,336.98 35.35,341.65 30.02,341.65" fill="#1868de"/><polygon points="41.36,336.29 44.03,340.96 38.7,340.96" fill="#1868de"/><polygon points="49.8,335.96 52.47,340.63 47.13,340.63" fill="#1868de"/><polygon points="57.27,335.72 59.94,340.39 54.6,340.39" fill="#1868de"/><polygon points="65.22,335.44 67.89,340.11 62.55,340.11" fill="#1868de"/><polygon points="73.9,335.13 76.57,339.8 71.23,339.8" fill="#1868de"/><polygon points="82.09,334.82 84.76,339.49 79.42,339.49" fill="#1868de"/><polygon points="90.53,334.47 93.2,339.14 87.86,339.14" fill="#1868de"/><polygon points="98.48,334.13 101.15,338.8 95.81,338.8" fill="#1868de"/><polygon points="106.43,333.83 109.1,338.5 103.77,338.5" fill="#1868de"/><polygon points="110.53,333.67 113.2,338.34 107.86,338.34" fill="#1868de"/><polygon points="114.63,333.5 117.3,338.17 111.96,338.17" fill="#1868de"/><polygon points="118.72,333.3 121.39,337.97 116.06,337.97" fill="#1868de"/><polygon points="122.58,333.05 125.25,337.72 119.91,337.72" fill="#1868de"/><polygon points="131.26,332.3 133.92,336.97 128.59,336.97" fill="#1868de"/><polygon points="138.49,331.72 141.15,336.39 135.82,336.39" fill="#1868de"/><polygon points="147.16,331.27 149.83,335.94 144.49,335.94" fill="#1868de"/><polygon points="155.36,330.96 158.02,335.63 152.69,335.63" fill="#1868de"/><polygon points="163.55,330.75 166.22,335.42 160.88,335.42" fill="#1868de"/><polygon points="171.5,330.57 174.17,335.23 168.83,335.23" fill="#1868de"/><polygon points="179.7,330.31 182.37,334.97 177.03,334.97" fill="#1868de"/><polygon points="187.65,329.99 190.32,334.66 184.98,334.66" fill="#1868de"/><polygon points="195.6,329.62 198.27,334.29 192.94,334.29" fill="#1868de"/><polygon points="203.8,329.14 206.47,333.81 201.13,333.81" fill="#1868de"/><polygon points="211.75,328.56 214.42,333.23 209.08,333.23" fill="#1868de"/><polygon points="219.94,327.41 222.61,332.08 217.28,332.08" fill="#1868de"/><polygon points="228.14,326.03 230.81,330.7 225.47,330.7" fill="#1868de"/><polygon points="236.33,324.63 239,329.3 233.66,329.3" fill="#1868de"/><polygon points="244.53,322.7 247.19,327.37 241.86,327.37" fill="#1868de"/><polygon points="249.11,321.09 251.77,325.76 246.44,325.76" fill="#1868de"/><polygon points="252.72,319.9 255.39,324.57 250.05,324.57" fill="#1868de"/><polygon points="256.34,318.63 259,323.3 253.67,323.3" fill="#1868de"/><polygon points="259.95,316.91 262.62,321.58 257.28,321.58" fill="#1868de"/><polygon points="263.08,314.89 265.75,319.56 260.41,319.56" fill="#1868de"/><polygon points="265.98,312.68 268.64,317.35 263.31,317.35" fill="#1868de"/><polygon points="269.59,308.55 272.26,313.21 266.92,313.21" fill="#1868de"/><polygon points="269.59,308 272.26,312.67 266.92,312.67" fill="#1868de"/><polygon points="264.53,310.63 267.2,315.29 261.86,315.29" fill="#1868de"/><polygon points="259.71,312.92 262.38,317.59 257.04,317.59" fill="#1868de"/><polygon points="255.13,314.61 257.8,319.28 252.46,319.28" fill="#1868de"/><polygon points="251.03,315.83 253.7,320.49 248.37,320.49" fill="#1868de"/><polygon points="246.45,317.05 249.12,321.72 243.79,321.72" fill="#1868de"/><polygon points="237.78,318.65 240.45,323.32 235.11,323.32" fill="#1868de"/><polygon points="229.58,320.05 232.25,324.72 226.92,324.72" fill="#1868de"/><polygon points="221.39,321.25 224.06,325.92 218.72,325.92" fill="#1868de"/><polygon points="213.2,322.54 215.86,327.2 210.53,327.2" fill="#1868de"/><polygon points="205,323.28 207.67,327.95 202.33,327.95" fill="#1868de"/><polygon points="196.81,324.17 199.48,328.84 194.14,328.84" fill="#1868de"/><polygon points="188.61,325.08 191.28,329.75 185.95,329.75" fill="#1868de"/><polygon points="180.42,325.97 183.09,330.64 177.75,330.64" fill="#1868de"/><polygon points="172.23,326.89 174.89,331.56 169.56,331.56" fill="#1868de"/><polygon points="164.03,327.83 166.7,332.5 161.36,332.5" fill="#1868de"/><polygon points="155.84,328.9 158.51,333.57 153.17,333.57" fill="#1868de"/><polygon points="147.64,330.29 150.31,334.96 144.98,334.96" fill="#1868de"/>
<polyline points="32,362.5 32.9,362.5 33.9,362.5 34.9,362.5 35.8,362.5 36.8,362.5 37.7,362.5 38.7,362.5 39.7,362.5 40.6,362.5 41.6,362.5 42.6,362.5 43.5,362.5 44.5,362.5 45.5,362.5 46.4,362.5 47.4,362.5 48.4,362.5 49.3,362.5 50.3,362.5 51.2,362.5 52.2,362.5 53.2,362.5 54.1,362.5 55.1,362.5 56.1,362.5 57,362.5 58,362.5 59,362.5 59.9,362.5 60.9,362.5 61.8,362.5 62.8,362.5 63.8,362.5 64.7,362.5 65.7,362.5 66.7,362.5 67.6,362.4 68.6,362.4 69.6,362.4 70.5,362.4 71.5,362.4 72.5,362.4 73.4,362.4 74.4,362.4 75.3,362.4 76.3,362.4 77.3,362.4 78.2,362.4 79.2,362.4 80.2,362.4 81.1,362.4 82.1,362.4 83.1,362.4 84,362.4 85,362.4 85.9,362.4 86.9,362.4 87.9,362.4 88.8,362.4 89.8,362.4 90.8,362.4 91.7,362.4 92.7,362.4 93.7,362.4 94.6,362.4 95.6,362.4 96.6,362.4 97.5,362.4 98.5,362.4 99.4,362.4 100.4,362.4 101.4,362.4 102.3,362.4 103.3,362.4 104.3,362.4 105.2,362.4 106.2,362.4 107.2,362.4 108.1,362.4 109.1,362.4 110,362.4 111,362.4 112,362.4 112.9,362.4 113.9,362.4 114.9,362.4 115.8,362.4 116.8,362.4 117.8,362.4 118.7,362.4 119.7,362.4 120.7,362.4 121.6,362.4 122.6,362.4 123.5,362.4 124.5,362.4 125.5,362.4 126.4,362.4 127.4,362.4 128.4,362.4 129.3,362.4 130.3,362.4 131.3,362.4 132.2,362.3 133.2,362.3 134.1,362.3 135.1,362.3 136.1,362.3 137,362.3 138,362.3 139,362.3 139.9,362.3 140.9,362.3 141.9,362.3 142.8,362.3 143.8,362.3 144.8,362.3 145.7,362.3 146.7,362.3 147.6,362.3 148.6,362.3 149.6,362.3 150.5,362.3 151.5,362.3 152.5,362.3 153.4,362.3 154.4,362.3 155.4,362.3 156.3,362.3 157.3,362.3 158.2,362.3 159.2,362.3 160.2,362.3 161.1,362.3 162.1,362.3 163.1,362.3 164,362.3 165,362.3 166,362.2 166.9,362.2 167.9,362.2 168.9,362.2 169.8,362.2 170.8,362.2 171.7,362.2 172.7,362.2 173.7,362.2 174.6,362.2 175.6,362.2 176.6,362.2 177.5,362.2 178.5,362.2 179.5,362.2 180.4,362.2 181.4,362.2 182.3,362.2 183.3,362.2 184.3,362.1 185.2,362.1 186.2,362.1 187.2,362.1 188.1,362.1 189.1,362.1 190.1,362.1 191,362.1 192,362.1 193,362.1 193.9,362.1 194.9,362.1 195.8,362 196.8,362 197.8,362 198.7,362 199.7,362 200.7,362 201.6,362 202.6,362 203.6,362 204.5,361.9 205.5,361.9 206.4,361.9 207.4,361.9 208.4,361.9 209.3,361.9 210.3,361.9 211.3,361.9 212.2,361.8 213.2,361.8 214.2,361.8 215.1,361.8 216.1,361.8 217.1,361.7 218,361.7 219,361.7 219.9,361.6 220.9,361.6 221.9,361.5 222.8,361.5 223.8,361.4 224.8,361.3 225.7,361.3 226.7,361.2 227.7,361.2 228.6,361.1 229.6,361.1 230.5,361 231.5,361 232.5,361 233.4,360.9 234.4,360.9 235.4,360.9 236.3,360.8 237.3,360.8 238.3,360.7 239.2,360.7 240.2,360.6 241.2,360.5 242.1,360.5 243.1,360.4 244,360.3 245,360.3 246,360.2 246.9,360.2 247.9,360.1 248.9,360.1 249.8,360 250.8,359.9 251.8,359.8 252.7,359.7 253.7,359.6 254.6,359.4 255.6,359.3 256.6,359.1 257.5,358.9 258.5,358.6 259.5,358.4 260.4,358 261.4,357.6 262.4,357.1 263.3,356.6 264.3,355.9 265.3,355.2 266.2,354.3 267.2,353.2 268.1,351.7 269.1,349.8" fill="none" stroke="#f01414" stroke-width="1.35"/>
<polyline points="233.4,361 234.4,360.9 235.4,360.8 236.3,360.7 237.3,360.6 238.3,360.4 239.2,360.3 240.2,360.2 241.2,360.1 242.1,360 243.1,359.8 244,359.7 245,359.5 246,359.3 246.9,359 247.9,358.7 248.9,358.4 249.8,358.1 250.8,357.8 251.8,357.4 252.7,357.1 253.7,356.6 254.6,356.2 255.6,355.7 256.6,355.2 257.5,354.7 258.5,354.2 259.5,353.6 260.4,352.9 261.4,352.2 262.4,351.6 263.3,351.1 264.3,350.7 265.3,350.3 266.2,349.9 267.2,349.6 268.1,349.3 269.1,349" fill="none" stroke="#f01414" stroke-width="1.35"/>
<circle cx="32.69" cy="362.5" r="2.25" fill="#f01414"/><circle cx="41.6" cy="362.48" r="2.25" fill="#f01414"/><circle cx="49.08" cy="362.47" r="2.25" fill="#f01414"/><circle cx="51" cy="362.47" r="2.25" fill="#f01414"/><circle cx="52.93" cy="362.47" r="2.25" fill="#f01414"/><circle cx="56.06" cy="362.46" r="2.25" fill="#f01414"/><circle cx="60.4" cy="362.46" r="2.25" fill="#f01414"/><circle cx="64.98" cy="362.45" r="2.25" fill="#f01414"/><circle cx="69.32" cy="362.45" r="2.25" fill="#f01414"/><circle cx="73.9" cy="362.44" r="2.25" fill="#f01414"/><circle cx="78.24" cy="362.44" r="2.25" fill="#f01414"/><circle cx="82.09" cy="362.43" r="2.25" fill="#f01414"/><circle cx="85.95" cy="362.43" r="2.25" fill="#f01414"/><circle cx="89.8" cy="362.42" r="2.25" fill="#f01414"/><circle cx="93.42" cy="362.42" r="2.25" fill="#f01414"/><circle cx="97.52" cy="362.41" r="2.25" fill="#f01414"/><circle cx="101.85" cy="362.4" r="2.25" fill="#f01414"/><circle cx="105.95" cy="362.4" r="2.25" fill="#f01414"/><circle cx="110.29" cy="362.39" r="2.25" fill="#f01414"/><circle cx="114.14" cy="362.38" r="2.25" fill="#f01414"/><circle cx="118.48" cy="362.38" r="2.25" fill="#f01414"/><circle cx="122.34" cy="362.37" r="2.25" fill="#f01414"/><circle cx="130.77" cy="362.35" r="2.25" fill="#f01414"/><circle cx="138.97" cy="362.33" r="2.25" fill="#f01414"/><circle cx="147.16" cy="362.31" r="2.25" fill="#f01414"/><circle cx="155.36" cy="362.29" r="2.25" fill="#f01414"/><circle cx="163.55" cy="362.26" r="2.25" fill="#f01414"/><circle cx="171.5" cy="362.22" r="2.25" fill="#f01414"/><circle cx="179.7" cy="362.18" r="2.25" fill="#f01414"/><circle cx="187.65" cy="362.12" r="2.25" fill="#f01414"/><circle cx="195.6" cy="362.05" r="2.25" fill="#f01414"/><circle cx="203.8" cy="361.96" r="2.25" fill="#f01414"/><circle cx="211.75" cy="361.85" r="2.25" fill="#f01414"/><circle cx="219.94" cy="361.62" r="2.25" fill="#f01414"/><circle cx="228.14" cy="361.14" r="2.25" fill="#f01414"/><circle cx="236.33" cy="360.82" r="2.25" fill="#f01414"/><circle cx="244.53" cy="360.29" r="2.25" fill="#f01414"/><circle cx="249.11" cy="360.04" r="2.25" fill="#f01414"/><circle cx="252.72" cy="359.72" r="2.25" fill="#f01414"/><circle cx="256.34" cy="359.15" r="2.25" fill="#f01414"/><circle cx="259.95" cy="358.22" r="2.25" fill="#f01414"/><circle cx="263.08" cy="356.71" r="2.25" fill="#f01414"/><circle cx="265.98" cy="354.56" r="2.25" fill="#f01414"/><circle cx="269.59" cy="348.9" r="2.25" fill="#f01414"/><circle cx="269.59" cy="348.9" r="2.25" fill="#f01414"/><circle cx="264.53" cy="350.57" r="2.25" fill="#f01414"/><circle cx="259.71" cy="353.41" r="2.25" fill="#f01414"/><circle cx="255.13" cy="355.97" r="2.25" fill="#f01414"/><circle cx="251.03" cy="357.7" r="2.25" fill="#f01414"/><circle cx="246.45" cy="359.14" r="2.25" fill="#f01414"/><circle cx="237.78" cy="360.5" r="2.25" fill="#f01414"/>
<polyline points="32,406.9 32.9,406.6 33.9,406.4 34.9,406.1 35.8,405.9 36.8,405.7 37.7,405.6 38.7,405.4 39.7,405.3 40.6,405.1 41.6,405 42.6,404.9 43.5,404.8 44.5,404.7 45.5,404.6 46.4,404.5 47.4,404.4 48.4,404.3 49.3,404.3 50.3,404.2 51.2,404.1 52.2,404 53.2,404 54.1,403.9 55.1,403.8 56.1,403.8 57,403.7 58,403.7 59,403.6 59.9,403.6 60.9,403.6 61.8,403.5 62.8,403.5 63.8,403.5 64.7,403.5 65.7,403.4 66.7,403.4 67.6,403.4 68.6,403.4 69.6,403.4 70.5,403.4 71.5,403.3 72.5,403.3 73.4,403.3 74.4,403.3 75.3,403.3 76.3,403.3 77.3,403.2 78.2,403.2 79.2,403.2 80.2,403.2 81.1,403.2 82.1,403.1 83.1,403.1 84,403.1 85,403.1 85.9,403 86.9,403 87.9,403 88.8,403 89.8,402.9 90.8,402.9 91.7,402.9 92.7,402.9 93.7,402.9 94.6,402.8 95.6,402.8 96.6,402.8 97.5,402.8 98.5,402.7 99.4,402.7 100.4,402.7 101.4,402.7 102.3,402.7 103.3,402.7 104.3,402.6 105.2,402.6 106.2,402.6 107.2,402.6 108.1,402.6 109.1,402.5 110,402.5 111,402.5 112,402.5 112.9,402.4 113.9,402.4 114.9,402.4 115.8,402.3 116.8,402.3 117.8,402.3 118.7,402.3 119.7,402.2 120.7,402.2 121.6,402.2 122.6,402.1 123.5,402.1 124.5,402 125.5,402 126.4,402 127.4,402 128.4,401.9 129.3,401.9 130.3,401.9 131.3,401.8 132.2,401.8 133.2,401.8 134.1,401.7 135.1,401.7 136.1,401.7 137,401.7 138,401.6 139,401.6 139.9,401.6 140.9,401.6 141.9,401.6 142.8,401.5 143.8,401.5 144.8,401.5 145.7,401.5 146.7,401.4 147.6,401.4 148.6,401.4 149.6,401.4 150.5,401.4 151.5,401.3 152.5,401.3 153.4,401.3 154.4,401.3 155.4,401.2 156.3,401.2 157.3,401.2 158.2,401.2 159.2,401.1 160.2,401.1 161.1,401.1 162.1,401 163.1,401 164,401 165,400.9 166,400.9 166.9,400.8 167.9,400.8 168.9,400.7 169.8,400.7 170.8,400.6 171.7,400.5 172.7,400.5 173.7,400.4 174.6,400.3 175.6,400.3 176.6,400.2 177.5,400.1 178.5,400.1 179.5,400 180.4,399.9 181.4,399.8 182.3,399.8 183.3,399.7 184.3,399.6 185.2,399.5 186.2,399.5 187.2,399.4 188.1,399.3 189.1,399.2 190.1,399.2 191,399.1 192,399 193,398.9 193.9,398.8 194.9,398.7 195.8,398.6 196.8,398.5 197.8,398.4 198.7,398.3 199.7,398.2 200.7,398.1 201.6,398 202.6,397.9 203.6,397.8 204.5,397.7 205.5,397.6 206.4,397.4 207.4,397.3 208.4,397.2 209.3,397.1 210.3,396.9 211.3,396.8 212.2,396.7 213.2,396.5 214.2,396.4 215.1,396.2 216.1,396 217.1,395.9 218,395.7 219,395.5 219.9,395.4 220.9,395.3 221.9,395.1 222.8,395 223.8,394.9 224.8,394.8 225.7,394.6 226.7,394.5 227.7,394.3 228.6,394.2 229.6,394 230.5,393.8 231.5,393.6 232.5,393.4 233.4,393.1 234.4,392.9 235.4,392.7 236.3,392.4 237.3,392.1 238.3,391.8 239.2,391.6 240.2,391.2 241.2,390.9 242.1,390.6 243.1,390.2 244,389.8 245,389.4 246,388.9 246.9,388.5 247.9,387.9 248.9,387.4 249.8,386.8 250.8,386.2 251.8,385.5 252.7,384.9 253.7,384.2 254.6,383.4 255.6,382.5 256.6,381.7 257.5,380.9 258.5,380.1 259.5,379.3 260.4,378.5 261.4,377.5 262.4,376.5 263.3,375.4 264.3,374.3 265.3,373 266.2,371.8 267.2,370.4 268.1,368.7 269.1,366.7" fill="none" stroke="#111111" stroke-width="1.35"/>
<polyline points="137,401.5 138,401.4 139,401.2 139.9,401.1 140.9,400.9 141.9,400.8 142.8,400.6 143.8,400.5 144.8,400.3 145.7,400.2 146.7,400 147.6,399.9 148.6,399.7 149.6,399.6 150.5,399.5 151.5,399.3 152.5,399.2 153.4,399.1 154.4,399 155.4,398.9 156.3,398.8 157.3,398.7 158.2,398.6 159.2,398.6 160.2,398.5 161.1,398.4 162.1,398.3 163.1,398.3 164,398.2 165,398.1 166,398 166.9,398 167.9,397.9 168.9,397.8 169.8,397.7 170.8,397.6 171.7,397.5 172.7,397.4 173.7,397.3 174.6,397.2 175.6,397.1 176.6,397 177.5,396.8 178.5,396.7 179.5,396.6 180.4,396.4 181.4,396.3 182.3,396.2 183.3,396 184.3,395.9 185.2,395.8 186.2,395.6 187.2,395.5 188.1,395.4 189.1,395.2 190.1,395.1 191,395 192,394.9 193,394.7 193.9,394.6 194.9,394.5 195.8,394.4 196.8,394.2 197.8,394.1 198.7,394 199.7,393.9 200.7,393.7 201.6,393.6 202.6,393.4 203.6,393.3 204.5,393.1 205.5,393 206.4,392.8 207.4,392.6 208.4,392.4 209.3,392.3 210.3,392.1 211.3,391.9 212.2,391.7 213.2,391.5 214.2,391.2 215.1,391 216.1,390.7 217.1,390.5 218,390.2 219,390 219.9,389.7 220.9,389.5 221.9,389.2 222.8,389 223.8,388.8 224.8,388.6 225.7,388.3 226.7,388.1 227.7,387.9 228.6,387.6 229.6,387.3 230.5,387 231.5,386.7 232.5,386.4 233.4,386.1 234.4,385.8 235.4,385.4 236.3,385.1 237.3,384.7 238.3,384.3 239.2,383.9 240.2,383.4 241.2,383 242.1,382.5 243.1,382 244,381.5 245,381 246,380.5 246.9,379.9 247.9,379.4 248.9,378.9 249.8,378.3 250.8,377.7 251.8,377.2 252.7,376.7 253.7,376.2 254.6,375.6 255.6,375.1 256.6,374.6 257.5,374 258.5,373.4 259.5,372.8 260.4,372 261.4,371.1 262.4,370.3 263.3,369.5 264.3,368.9 265.3,368.2 266.2,367.7 267.2,367.1 268.1,366.6 269.1,366" fill="none" stroke="#111111" stroke-width="1.35"/>
<rect x="30.59" y="404.91" width="4.2" height="3.6" fill="#111111"/><rect x="39.26" y="403.24" width="4.2" height="3.6" fill="#111111"/><rect x="47.7" y="402.42" width="4.2" height="3.6" fill="#111111"/><rect x="55.17" y="401.91" width="4.2" height="3.6" fill="#111111"/><rect x="63.12" y="401.66" width="4.2" height="3.6" fill="#111111"/><rect x="71.8" y="401.5" width="4.2" height="3.6" fill="#111111"/><rect x="79.99" y="401.33" width="4.2" height="3.6" fill="#111111"/><rect x="88.43" y="401.13" width="4.2" height="3.6" fill="#111111"/><rect x="96.38" y="400.95" width="4.2" height="3.6" fill="#111111"/><rect x="104.33" y="400.79" width="4.2" height="3.6" fill="#111111"/><rect x="108.43" y="400.7" width="4.2" height="3.6" fill="#111111"/><rect x="112.53" y="400.59" width="4.2" height="3.6" fill="#111111"/><rect x="116.62" y="400.45" width="4.2" height="3.6" fill="#111111"/><rect x="120.48" y="400.32" width="4.2" height="3.6" fill="#111111"/><rect x="129.16" y="400.03" width="4.2" height="3.6" fill="#111111"/><rect x="136.39" y="399.84" width="4.2" height="3.6" fill="#111111"/><rect x="145.06" y="399.63" width="4.2" height="3.6" fill="#111111"/><rect x="153.26" y="399.44" width="4.2" height="3.6" fill="#111111"/><rect x="161.45" y="399.19" width="4.2" height="3.6" fill="#111111"/><rect x="169.4" y="398.75" width="4.2" height="3.6" fill="#111111"/><rect x="177.6" y="398.17" width="4.2" height="3.6" fill="#111111"/><rect x="185.55" y="397.56" width="4.2" height="3.6" fill="#111111"/><rect x="193.5" y="396.85" width="4.2" height="3.6" fill="#111111"/><rect x="201.7" y="395.96" width="4.2" height="3.6" fill="#111111"/><rect x="209.65" y="394.93" width="4.2" height="3.6" fill="#111111"/><rect x="217.84" y="393.6" width="4.2" height="3.6" fill="#111111"/><rect x="226.04" y="392.46" width="4.2" height="3.6" fill="#111111"/><rect x="234.23" y="390.6" width="4.2" height="3.6" fill="#111111"/><rect x="242.43" y="387.8" width="4.2" height="3.6" fill="#111111"/><rect x="247.01" y="385.44" width="4.2" height="3.6" fill="#111111"/><rect x="250.62" y="383.07" width="4.2" height="3.6" fill="#111111"/><rect x="254.24" y="380.08" width="4.2" height="3.6" fill="#111111"/><rect x="257.85" y="377.08" width="4.2" height="3.6" fill="#111111"/><rect x="260.98" y="373.89" width="4.2" height="3.6" fill="#111111"/><rect x="263.88" y="370.3" width="4.2" height="3.6" fill="#111111"/><rect x="267.49" y="363.9" width="4.2" height="3.6" fill="#111111"/><rect x="267.49" y="363.9" width="4.2" height="3.6" fill="#111111"/><rect x="262.43" y="366.9" width="4.2" height="3.6" fill="#111111"/><rect x="257.61" y="370.8" width="4.2" height="3.6" fill="#111111"/><rect x="253.03" y="373.59" width="4.2" height="3.6" fill="#111111"/><rect x="248.93" y="375.81" width="4.2" height="3.6" fill="#111111"/><rect x="244.35" y="378.41" width="4.2" height="3.6" fill="#111111"/><rect x="235.68" y="382.7" width="4.2" height="3.6" fill="#111111"/><rect x="227.48" y="385.53" width="4.2" height="3.6" fill="#111111"/><rect x="219.29" y="387.55" width="4.2" height="3.6" fill="#111111"/><rect x="211.1" y="389.65" width="4.2" height="3.6" fill="#111111"/><rect x="202.9" y="391.24" width="4.2" height="3.6" fill="#111111"/><rect x="194.71" y="392.44" width="4.2" height="3.6" fill="#111111"/><rect x="186.51" y="393.5" width="4.2" height="3.6" fill="#111111"/><rect x="178.32" y="394.64" width="4.2" height="3.6" fill="#111111"/><rect x="170.13" y="395.67" width="4.2" height="3.6" fill="#111111"/><rect x="161.93" y="396.38" width="4.2" height="3.6" fill="#111111"/><rect x="153.74" y="397.05" width="4.2" height="3.6" fill="#111111"/><rect x="145.54" y="398.08" width="4.2" height="3.6" fill="#111111"/><rect x="137.35" y="399.34" width="4.2" height="3.6" fill="#111111"/>
<polyline points="317.3,234.9 323.6,245.8 327.2,248.6 329.6,256.9 332.6,258.1 335.9,262.8 339,265.2 342.1,265.7 344.9,268.7 348.5,265.7 352.5,267.6 356,269.9 360.8,266.4 365.7,267.6 370.9,266.4 376.8,265.2 383.9,264.7 391.7,264 401.2,262.8 412.3,262.8 425.6,262.4 441.7,262.8 462.6,262.8 490.2,263.3 528.3,265.7" fill="none" stroke="#c56ee6" stroke-width="1.1"/>
<polygon points="317.3,232.39 320.07,234.9 317.3,237.41 314.53,234.9" fill="#c56ee6"/><polygon points="323.6,243.29 326.37,245.8 323.6,248.31 320.83,245.8" fill="#c56ee6"/><polygon points="327.2,246.09 329.97,248.6 327.2,251.11 324.43,248.6" fill="#c56ee6"/><polygon points="329.6,254.39 332.37,256.9 329.6,259.41 326.83,256.9" fill="#c56ee6"/><polygon points="332.6,255.59 335.37,258.1 332.6,260.61 329.83,258.1" fill="#c56ee6"/><polygon points="335.9,260.29 338.67,262.8 335.9,265.31 333.13,262.8" fill="#c56ee6"/><polygon points="339,262.69 341.77,265.2 339,267.71 336.23,265.2" fill="#c56ee6"/><polygon points="342.1,263.19 344.87,265.7 342.1,268.21 339.33,265.7" fill="#c56ee6"/><polygon points="344.9,266.19 347.67,268.7 344.9,271.21 342.13,268.7" fill="#c56ee6"/><polygon points="348.5,263.19 351.27,265.7 348.5,268.21 345.73,265.7" fill="#c56ee6"/><polygon points="352.5,265.09 355.27,267.6 352.5,270.11 349.73,267.6" fill="#c56ee6"/><polygon points="356,267.39 358.77,269.9 356,272.41 353.23,269.9" fill="#c56ee6"/><polygon points="360.8,263.89 363.57,266.4 360.8,268.91 358.03,266.4" fill="#c56ee6"/><polygon points="365.7,265.09 368.47,267.6 365.7,270.11 362.93,267.6" fill="#c56ee6"/><polygon points="370.9,263.89 373.67,266.4 370.9,268.91 368.13,266.4" fill="#c56ee6"/><polygon points="376.8,262.69 379.57,265.2 376.8,267.71 374.03,265.2" fill="#c56ee6"/><polygon points="383.9,262.19 386.67,264.7 383.9,267.21 381.13,264.7" fill="#c56ee6"/><polygon points="391.7,261.49 394.47,264 391.7,266.51 388.93,264" fill="#c56ee6"/><polygon points="401.2,260.29 403.97,262.8 401.2,265.31 398.43,262.8" fill="#c56ee6"/><polygon points="412.3,260.29 415.07,262.8 412.3,265.31 409.53,262.8" fill="#c56ee6"/><polygon points="425.6,259.89 428.37,262.4 425.6,264.91 422.83,262.4" fill="#c56ee6"/><polygon points="441.7,260.29 444.47,262.8 441.7,265.31 438.93,262.8" fill="#c56ee6"/><polygon points="462.6,260.29 465.37,262.8 462.6,265.31 459.83,262.8" fill="#c56ee6"/><polygon points="490.2,260.79 492.97,263.3 490.2,265.81 487.43,263.3" fill="#c56ee6"/><polygon points="528.3,263.19 531.07,265.7 528.3,268.21 525.53,265.7" fill="#c56ee6"/>
<polyline points="317.3,263.3 323.2,278.2 327.2,279.4 329.6,286.9 333.1,288.8 335.9,290.7 339,293.6 342.6,294.7 346.1,295.9 349.6,296.4 354.8,296.4 361,297.8 365.7,295.9 370.9,297.1 376.8,295.4 383.9,295.9 391.7,295 401.2,295.4 412.3,295 425.6,295 441.7,295 462.6,295 490.2,295 528.3,296.4" fill="none" stroke="#12a35c" stroke-width="1.1"/>
<polygon points="317.3,266.08 320.08,261.21 314.52,261.21" fill="#12a35c"/><polygon points="323.2,280.98 325.98,276.11 320.42,276.11" fill="#12a35c"/><polygon points="327.2,282.18 329.98,277.31 324.42,277.31" fill="#12a35c"/><polygon points="329.6,289.68 332.38,284.81 326.82,284.81" fill="#12a35c"/><polygon points="333.1,291.58 335.88,286.71 330.32,286.71" fill="#12a35c"/><polygon points="335.9,293.48 338.68,288.61 333.12,288.61" fill="#12a35c"/><polygon points="339,296.38 341.78,291.51 336.22,291.51" fill="#12a35c"/><polygon points="342.6,297.48 345.38,292.61 339.82,292.61" fill="#12a35c"/><polygon points="346.1,298.68 348.88,293.81 343.32,293.81" fill="#12a35c"/><polygon points="349.6,299.18 352.38,294.31 346.82,294.31" fill="#12a35c"/><polygon points="354.8,299.18 357.58,294.31 352.02,294.31" fill="#12a35c"/><polygon points="361,300.58 363.78,295.71 358.22,295.71" fill="#12a35c"/><polygon points="365.7,298.68 368.48,293.81 362.92,293.81" fill="#12a35c"/><polygon points="370.9,299.88 373.68,295.01 368.12,295.01" fill="#12a35c"/><polygon points="376.8,298.18 379.58,293.31 374.02,293.31" fill="#12a35c"/><polygon points="383.9,298.68 386.68,293.81 381.12,293.81" fill="#12a35c"/><polygon points="391.7,297.78 394.48,292.91 388.92,292.91" fill="#12a35c"/><polygon points="401.2,298.18 403.98,293.31 398.42,293.31" fill="#12a35c"/><polygon points="412.3,297.78 415.08,292.91 409.52,292.91" fill="#12a35c"/><polygon points="425.6,297.78 428.38,292.91 422.82,292.91" fill="#12a35c"/><polygon points="441.7,297.78 444.48,292.91 438.92,292.91" fill="#12a35c"/><polygon points="462.6,297.78 465.38,292.91 459.82,292.91" fill="#12a35c"/><polygon points="490.2,297.78 492.98,292.91 487.42,292.91" fill="#12a35c"/><polygon points="528.3,299.18 531.08,294.31 525.52,294.31" fill="#12a35c"/>
<polyline points="317.3,303 323.6,311 326.5,312.4 329.6,318.3 333.1,321.8 336.6,324.2 342.1,326.1 347.3,327 352,327.7 356.3,327 361,328.4 365.7,326.5 370.9,325.6 376.8,326.1 383.9,325.6 392.2,325.6 401.2,324.7 412.3,324.7 425.6,324.4 442,324.9 462.6,325.6 490.2,326.1 528.3,328" fill="none" stroke="#0a0af5" stroke-width="1.1"/>
<polygon points="317.3,300.22 320.08,305.09 314.52,305.09" fill="#0a0af5"/><polygon points="323.6,308.22 326.38,313.09 320.82,313.09" fill="#0a0af5"/><polygon points="326.5,309.62 329.28,314.49 323.72,314.49" fill="#0a0af5"/><polygon points="329.6,315.52 332.38,320.39 326.82,320.39" fill="#0a0af5"/><polygon points="333.1,319.02 335.88,323.89 330.32,323.89" fill="#0a0af5"/><polygon points="336.6,321.42 339.38,326.29 333.82,326.29" fill="#0a0af5"/><polygon points="342.1,323.32 344.88,328.19 339.32,328.19" fill="#0a0af5"/><polygon points="347.3,324.22 350.08,329.09 344.52,329.09" fill="#0a0af5"/><polygon points="352,324.92 354.78,329.79 349.22,329.79" fill="#0a0af5"/><polygon points="356.3,324.22 359.08,329.09 353.52,329.09" fill="#0a0af5"/><polygon points="361,325.62 363.78,330.49 358.22,330.49" fill="#0a0af5"/><polygon points="365.7,323.72 368.48,328.59 362.92,328.59" fill="#0a0af5"/><polygon points="370.9,322.82 373.68,327.69 368.12,327.69" fill="#0a0af5"/><polygon points="376.8,323.32 379.58,328.19 374.02,328.19" fill="#0a0af5"/><polygon points="383.9,322.82 386.68,327.69 381.12,327.69" fill="#0a0af5"/><polygon points="392.2,322.82 394.98,327.69 389.42,327.69" fill="#0a0af5"/><polygon points="401.2,321.92 403.98,326.79 398.42,326.79" fill="#0a0af5"/><polygon points="412.3,321.92 415.08,326.79 409.52,326.79" fill="#0a0af5"/><polygon points="425.6,321.62 428.38,326.49 422.82,326.49" fill="#0a0af5"/><polygon points="442,322.12 444.78,326.99 439.22,326.99" fill="#0a0af5"/><polygon points="462.6,322.82 465.38,327.69 459.82,327.69" fill="#0a0af5"/><polygon points="490.2,323.32 492.98,328.19 487.42,328.19" fill="#0a0af5"/><polygon points="528.3,325.22 531.08,330.09 525.52,330.09" fill="#0a0af5"/>
<polyline points="323.6,349 329.6,350.2 333.1,346.6 335.9,350.2 339,353.3 342.1,350.2 344.9,352.1 348,355.6 351.5,354.4 354.8,356.1 357.9,356.6 389.4,356.3 397.4,356.1 406.9,356.3 418.2,355.4 431.3,355.4 447.9,354.9 468.5,354.4 496.1,354.4 534.7,354.2" fill="none" stroke="#f51010" stroke-width="1.1"/>
<circle cx="323.6" cy="349" r="2.4" fill="#f51010"/><circle cx="329.6" cy="350.2" r="2.4" fill="#f51010"/><circle cx="333.1" cy="346.6" r="2.4" fill="#f51010"/><circle cx="335.9" cy="350.2" r="2.4" fill="#f51010"/><circle cx="339" cy="353.3" r="2.4" fill="#f51010"/><circle cx="342.1" cy="350.2" r="2.4" fill="#f51010"/><circle cx="344.9" cy="352.1" r="2.4" fill="#f51010"/><circle cx="348" cy="355.6" r="2.4" fill="#f51010"/><circle cx="351.5" cy="354.4" r="2.4" fill="#f51010"/><circle cx="354.8" cy="356.1" r="2.4" fill="#f51010"/><circle cx="357.9" cy="356.6" r="2.4" fill="#f51010"/><circle cx="389.4" cy="356.3" r="2.4" fill="#f51010"/><circle cx="397.4" cy="356.1" r="2.4" fill="#f51010"/><circle cx="406.9" cy="356.3" r="2.4" fill="#f51010"/><circle cx="418.2" cy="355.4" r="2.4" fill="#f51010"/><circle cx="431.3" cy="355.4" r="2.4" fill="#f51010"/><circle cx="447.9" cy="354.9" r="2.4" fill="#f51010"/><circle cx="468.5" cy="354.4" r="2.4" fill="#f51010"/><circle cx="496.1" cy="354.4" r="2.4" fill="#f51010"/><circle cx="534.7" cy="354.2" r="2.4" fill="#f51010"/>
<polyline points="317.3,356.8 323.6,373.4 327.2,378.6 329.6,386.8 332.6,389.2 335.5,395.6 338.5,393.2 341.4,397 344.9,399.8 348.5,398.7 352,399.4 356.3,400.3 361,398.7 365.7,398.7 370.9,397.9 376.8,397.5 383.9,397 391.7,395.6 401.7,394.2 412.3,394.4 425.6,393.9 442,393.2 462.6,393.9 490.2,393.9 528.3,395.6" fill="none" stroke="#111111" stroke-width="1.1"/>
<rect x="315.15" y="354.95" width="4.3" height="3.69" fill="#111111"/><rect x="321.45" y="371.55" width="4.3" height="3.69" fill="#111111"/><rect x="325.05" y="376.75" width="4.3" height="3.69" fill="#111111"/><rect x="327.45" y="384.95" width="4.3" height="3.69" fill="#111111"/><rect x="330.45" y="387.35" width="4.3" height="3.69" fill="#111111"/><rect x="333.35" y="393.75" width="4.3" height="3.69" fill="#111111"/><rect x="336.35" y="391.35" width="4.3" height="3.69" fill="#111111"/><rect x="339.25" y="395.15" width="4.3" height="3.69" fill="#111111"/><rect x="342.75" y="397.95" width="4.3" height="3.69" fill="#111111"/><rect x="346.35" y="396.85" width="4.3" height="3.69" fill="#111111"/><rect x="349.85" y="397.55" width="4.3" height="3.69" fill="#111111"/><rect x="354.15" y="398.45" width="4.3" height="3.69" fill="#111111"/><rect x="358.85" y="396.85" width="4.3" height="3.69" fill="#111111"/><rect x="363.55" y="396.85" width="4.3" height="3.69" fill="#111111"/><rect x="368.75" y="396.05" width="4.3" height="3.69" fill="#111111"/><rect x="374.65" y="395.65" width="4.3" height="3.69" fill="#111111"/><rect x="381.75" y="395.15" width="4.3" height="3.69" fill="#111111"/><rect x="389.55" y="393.75" width="4.3" height="3.69" fill="#111111"/><rect x="399.55" y="392.35" width="4.3" height="3.69" fill="#111111"/><rect x="410.15" y="392.55" width="4.3" height="3.69" fill="#111111"/><rect x="423.45" y="392.05" width="4.3" height="3.69" fill="#111111"/><rect x="439.85" y="391.35" width="4.3" height="3.69" fill="#111111"/><rect x="460.45" y="392.05" width="4.3" height="3.69" fill="#111111"/><rect x="488.05" y="392.05" width="4.3" height="3.69" fill="#111111"/><rect x="526.15" y="393.75" width="4.3" height="3.69" fill="#111111"/>
<rect x="303.7" y="227.9" width="241.3" height="181.4" fill="none" stroke="#161616" stroke-width="1.35"/>
<path d="M303.6 409.3V413.6 M322.17 409.3V411.5 M340.74 409.3V413.6 M359.31 409.3V411.5 M377.88 409.3V413.6 M396.45 409.3V411.5 M415.02 409.3V413.6 M433.59 409.3V411.5 M452.16 409.3V413.6 M470.73 409.3V411.5 M489.3 409.3V413.6 M507.87 409.3V411.5 M526.44 409.3V413.6 M545.01 409.3V411.5" stroke="#161616" stroke-width="1.3" fill="none"/>
<text x="303.6" y="424.6" font-size="10" text-anchor="middle" fill="#1a1a1a">0</text>
<text x="340.74" y="424.6" font-size="10" text-anchor="middle" fill="#1a1a1a">20</text>
<text x="377.88" y="424.6" font-size="10" text-anchor="middle" fill="#1a1a1a">40</text>
<text x="415.02" y="424.6" font-size="10" text-anchor="middle" fill="#1a1a1a">60</text>
<text x="452.16" y="424.6" font-size="10" text-anchor="middle" fill="#1a1a1a">80</text>
<text x="489.3" y="424.6" font-size="10" text-anchor="middle" fill="#1a1a1a">100</text>
<text x="526.44" y="424.6" font-size="10" text-anchor="middle" fill="#1a1a1a">120</text>
<text x="277.1" y="225.9" font-size="18.8" text-anchor="start" fill="#1a1a1a" stroke="#1a1a1a" stroke-width="0.22">(d)</text>
<text x="290.5" y="318.4" font-size="14.8" text-anchor="middle" fill="#1a1a1a" transform="rotate(-90 290.5 318.4)" stroke="#1a1a1a" stroke-width="0.22">Pore Volume (cm<tspan font-size="9" dy="-6">3</tspan><tspan dy="6"> g</tspan><tspan font-size="9" dy="-6">&#8722;1</tspan><tspan dy="6"> nm</tspan><tspan font-size="9" dy="-6">&#8722;1</tspan><tspan dy="6">)</tspan></text>
<text x="420.2" y="439" font-size="14.7" text-anchor="middle" fill="#1a1a1a" stroke="#1a1a1a" stroke-width="0.22">Pore Diameter (nm)</text>
<text x="524.2" y="252.2" font-size="10" text-anchor="end" fill="#1a1a1a" stroke="#1a1a1a" stroke-width="0.22">10WO<tspan font-size="7.2" dy="2.8">3</tspan><tspan dy="-2.8">/BiOBr</tspan></text>
<text x="524.2" y="284.1" font-size="10" text-anchor="end" fill="#1a1a1a" stroke="#1a1a1a" stroke-width="0.22">5WO<tspan font-size="7.2" dy="2.8">3</tspan><tspan dy="-2.8">/BiOBr</tspan></text>
<text x="524.2" y="314.6" font-size="10" text-anchor="end" fill="#1a1a1a" stroke="#1a1a1a" stroke-width="0.22">3WO<tspan font-size="7.2" dy="2.8">3</tspan><tspan dy="-2.8">/BiOBr</tspan></text>
<text x="524.2" y="345.5" font-size="10" text-anchor="end" fill="#1a1a1a" stroke="#1a1a1a" stroke-width="0.22">WO<tspan font-size="7.2" dy="2.8">3</tspan><tspan dy="-2.8"></tspan></text>
<text x="524.2" y="384.5" font-size="10" text-anchor="end" fill="#1a1a1a" stroke="#1a1a1a" stroke-width="0.22">BiOBr</text>
</svg></body></html>
